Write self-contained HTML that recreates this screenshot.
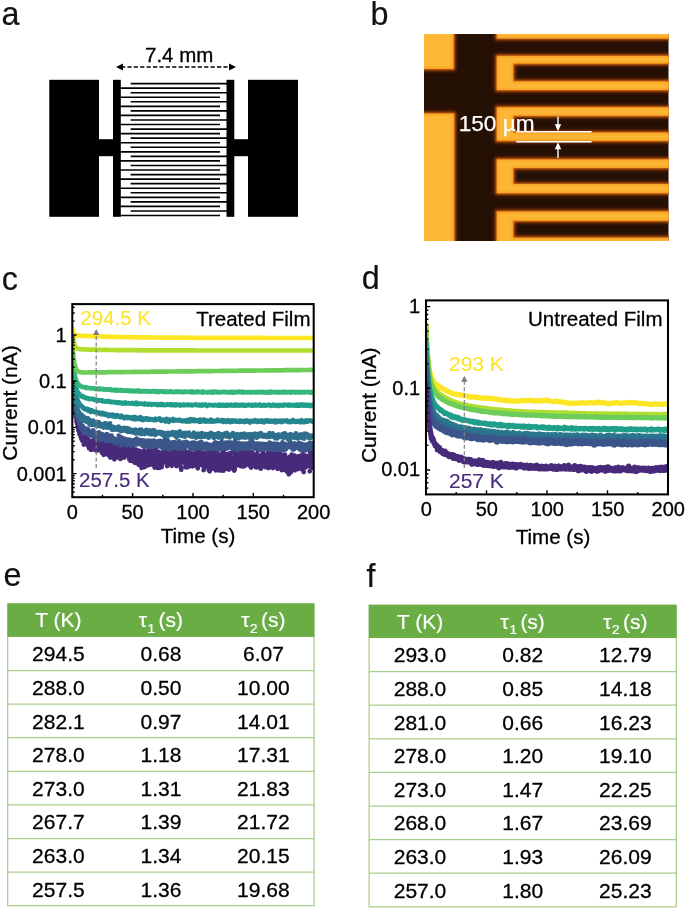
<!DOCTYPE html><html><head><meta charset="utf-8"><title>Figure</title>
<style>html,body{margin:0;padding:0;background:#fff}body{width:685px;height:911px;overflow:hidden}svg{display:block}text{font-family:"Liberation Sans",Arial,sans-serif;stroke-linejoin:round}</style></head><body>
<svg width="685" height="911" viewBox="0 0 685 911">
<rect width="685" height="911" fill="#fff"/>
<defs>
<filter id="bl" x="-5%" y="-5%" width="110%" height="110%"><feGaussianBlur stdDeviation="0.6"/></filter>
<filter id="bl3" x="-5%" y="-5%" width="110%" height="110%"><feGaussianBlur stdDeviation="2"/></filter>
<filter id="bl2" x="-5%" y="-5%" width="110%" height="110%"><feGaussianBlur stdDeviation="1.2"/></filter>
<clipPath id="cb"><rect x="424" y="34" width="244.5" height="207"/></clipPath>
<clipPath id="cc"><rect x="72.3" y="304.1" width="241.4" height="193.1"/></clipPath>
<clipPath id="cd"><rect x="426" y="300.4" width="242" height="194"/></clipPath>
</defs>
<text x="1.6" y="24.7" font-size="32.3" fill="#111" stroke="#111" stroke-width="0.2">a</text>
<text x="370.4" y="24.6" font-size="32.3" fill="#111" stroke="#111" stroke-width="0.2">b</text>
<text x="1.8" y="289.8" font-size="32.3" fill="#111" stroke="#111" stroke-width="0.2">c</text>
<text x="361.8" y="289.0" font-size="32.3" fill="#111" stroke="#111" stroke-width="0.2">d</text>
<text x="3.4" y="586.3" font-size="32.3" fill="#111" stroke="#111" stroke-width="0.2">e</text>
<text x="366.4" y="587.2" font-size="32.3" fill="#111" stroke="#111" stroke-width="0.2">f</text>
<g fill="#000">
<rect x="49.3" y="79.8" width="49.7" height="137"/>
<rect x="248" y="79.8" width="50" height="137"/>
<rect x="113" y="79.8" width="7.8" height="137"/>
<rect x="226.5" y="79.8" width="7.8" height="137"/>
<rect x="98" y="139.2" width="16" height="17"/>
<rect x="233" y="139.2" width="16" height="17"/>
</g>
<path d="M130.6,83.60H227M120,88.15H220M130.6,92.70H227M120,97.24H220M130.6,101.79H227M120,106.34H220M130.6,110.89H227M120,115.44H220M130.6,119.99H227M120,124.53H220M130.6,129.08H227M120,133.63H220M130.6,138.18H227M120,142.73H220M130.6,147.28H227M120,151.82H220M130.6,156.37H227M120,160.92H220M130.6,165.47H227M120,170.02H220M130.6,174.57H227M120,179.11H220M130.6,183.66H227M120,188.21H220M130.6,192.76H227M120,197.31H220M130.6,201.86H227M120,206.40H220M130.6,210.95H227M120,215.50H220" stroke="#000" stroke-width="1.65" fill="none"/>
<text x="179.2" y="62" font-size="20.5" fill="#000" stroke="#000" stroke-width="0.3" text-anchor="middle">7.4 mm</text>
<path d="M121,67H231" stroke="#000" stroke-width="1.4" stroke-dasharray="4.2 2.2" fill="none"/>
<path d="M116,67l7,-3.4v6.8zM236,67l-7,-3.4v6.8z" fill="#000"/>
<g clip-path="url(#cb)">
<rect x="420" y="30" width="252" height="215" fill="#251006"/>
<path d="M418.8,28.8h36.8v42.1h-36.8zM418.8,111.6h37.4v137.4h-37.4zM494.8,28.8h182.4v11.6h-182.4zM494.8,53.9H680V65.6H515.2V79.4H680V92.1H494.8zM494.8,105.3H680V117.8H515.2V130.6H680V142.8H494.8zM494.8,157.4H680V169.9H515.2V182.1H680V195.2H494.8zM494.8,209.6H680V222.8H515.2V235.8H680V251.2H494.8z" fill="#8a3307" opacity="0.75" filter="url(#bl3)"/>
<path d="M419.7,29.7h35.0v40.300000000000004h-35.0zM419.7,112.5h35.6v135.6h-35.6zM495.7,29.7h180.6v9.799999999999999h-180.6zM495.7,54.8H680V64.7H514.3V80.3H680V91.2H495.7zM495.7,106.2H680V116.9H514.3V131.5H680V141.9H495.7zM495.7,158.3H680V169.0H514.3V183.0H680V194.3H495.7zM495.7,210.5H680V221.9H514.3V236.7H680V250.3H495.7z" fill="#d8650b" filter="url(#bl2)"/>
<path d="M420.8,30.8h32.8v38.1h-32.8zM420.8,113.6h33.4v133.4h-33.4zM496.8,30.8h178.4v7.6h-178.4zM496.8,55.9H680V63.6H513.2V81.4H680V90.1H496.8zM496.8,107.3H680V115.8H513.2V132.6H680V140.8H496.8zM496.8,159.4H680V167.9H513.2V184.1H680V193.2H496.8zM496.8,211.6H680V220.8H513.2V237.8H680V249.2H496.8z" fill="#f7a021" filter="url(#bl)"/>
<path d="M422.2,32.2h30.0v35.300000000000004h-30.0zM422.2,115.0h30.6v130.6h-30.6zM498.2,32.2h175.6v4.799999999999999h-175.6zM498.2,57.3H680V62.2H511.8V82.8H680V88.7H498.2zM498.2,108.7H680V114.4H511.8V134.0H680V139.4H498.2zM498.2,160.8H680V166.5H511.8V185.5H680V191.8H498.2zM498.2,213.0H680V219.4H511.8V239.2H680V247.8H498.2z" fill="#fdb735" filter="url(#bl2)"/>
</g>
<text x="458.7" y="130.9" font-size="22.6" fill="#fff" stroke="#fff" stroke-width="0.25">150 µm</text>
<path d="M516.3,131.8H591.6M516.3,141.7H591.6" stroke="#fff" stroke-width="1.6" fill="none"/>
<path d="M558,116.5V126M558,158V148" stroke="#fff" stroke-width="1.4" fill="none"/>
<path d="M558,131.3l-3.2,-7h6.4zM558,142.2l-3.2,7h6.4z" fill="#fff"/>
<g clip-path="url(#cc)">
<path d="M72.3,382.1h0M72.4,384.1h0M72.5,384.9h0M72.7,386.2h0M72.8,388.3h0M72.9,389.0h0M73.0,392.1h0M73.2,395.3h0M73.3,394.9h0M73.4,395.9h0M73.5,398.6h0M73.7,399.9h0M73.8,400.7h0M73.9,400.5h0M74.0,402.4h0M74.1,405.0h0M74.3,403.8h0M74.4,405.8h0M74.5,405.1h0M74.6,406.9h0M74.8,407.4h0M74.9,410.7h0M75.0,410.1h0M75.1,413.4h0M75.2,414.0h0M75.4,414.4h0M75.5,411.7h0M75.6,415.2h0M75.7,416.4h0M75.9,417.7h0M76.0,415.8h0M76.1,417.8h0M76.2,417.6h0M76.4,418.1h0M76.5,421.3h0M76.6,418.9h0M76.7,420.4h0M76.8,422.5h0M77.0,421.2h0M77.1,422.2h0M77.2,423.2h0M77.3,424.0h0M77.5,422.2h0M77.6,425.0h0M77.7,427.1h0M77.8,422.8h0M77.9,427.6h0M78.1,426.7h0M78.2,425.7h0M78.3,430.3h0M78.4,428.6h0M78.6,426.1h0M78.7,428.7h0M78.8,429.9h0M78.9,429.1h0M79.1,431.5h0M79.2,430.3h0M79.3,431.9h0M79.4,433.9h0M79.5,430.1h0M79.6,432.1h0M79.7,430.5h0M79.8,431.7h0M79.9,429.5h0M80.0,430.9h0M80.1,432.0h0M80.2,434.3h0M80.3,435.2h0M80.4,430.8h0M80.5,432.4h0M80.6,435.1h0M80.7,430.4h0M80.8,434.0h0M80.9,434.9h0M81.0,437.7h0M81.1,437.3h0M81.2,435.5h0M81.3,435.6h0M81.4,435.5h0M81.5,439.1h0M81.6,435.7h0M81.7,436.1h0M81.8,437.6h0M81.9,437.3h0M82.0,437.3h0M82.1,435.9h0M82.2,437.9h0M82.3,437.1h0M82.4,440.7h0M82.5,440.1h0M82.6,438.6h0M82.7,440.3h0M82.8,438.2h0M82.9,441.1h0M83.0,439.2h0M83.1,440.4h0M83.2,436.2h0M83.3,439.6h0M83.3,435.6h0M83.4,434.7h0M83.5,438.6h0M83.6,437.5h0M83.7,440.1h0M83.8,444.5h0M83.9,438.0h0M84.0,438.3h0M84.1,440.1h0M84.2,440.7h0M84.3,438.9h0M84.4,439.1h0M84.5,441.3h0M84.6,440.9h0M84.7,437.5h0M84.8,439.3h0M84.9,439.6h0M85.0,437.7h0M85.1,440.2h0M85.2,437.9h0M85.3,442.1h0M85.4,440.8h0M85.5,440.5h0M85.6,438.9h0M85.7,439.8h0M85.8,435.6h0M85.9,437.0h0M86.0,440.5h0M86.1,434.8h0M86.2,441.8h0M86.3,436.2h0M86.4,441.7h0M86.5,437.7h0M86.6,441.8h0M86.7,440.4h0M86.8,437.0h0M86.9,443.8h0M87.0,444.1h0M87.1,440.9h0M87.2,440.6h0M87.3,440.8h0M87.4,439.1h0M87.4,444.4h0M87.5,440.7h0M87.6,441.9h0M87.7,440.4h0M87.8,441.1h0M87.9,439.9h0M88.0,445.8h0M88.1,442.1h0M88.2,445.2h0M88.3,443.5h0M88.4,441.7h0M88.5,442.5h0M88.6,442.0h0M88.7,443.4h0M88.8,442.7h0M88.9,443.0h0M89.0,440.4h0M89.1,442.1h0M89.2,448.4h0M89.3,442.9h0M89.4,442.3h0M89.5,445.5h0M89.6,448.3h0M89.7,441.7h0M89.8,444.7h0M89.9,443.9h0M90.0,441.3h0M90.1,447.7h0M90.2,445.9h0M90.3,445.7h0M90.4,444.0h0M90.5,447.2h0M90.6,444.5h0M90.7,445.6h0M90.8,442.8h0M90.9,442.6h0M91.0,449.8h0M91.1,445.2h0M91.2,447.5h0M91.3,446.8h0M91.4,445.3h0M91.4,444.9h0M91.5,447.7h0M91.6,445.0h0M91.7,445.0h0M91.8,445.4h0M91.9,448.1h0M92.0,446.8h0M92.1,446.0h0M92.2,443.4h0M92.3,441.1h0M92.4,447.3h0M92.5,447.6h0M92.6,444.6h0M92.7,446.7h0M92.8,446.8h0M92.9,447.3h0M93.0,447.7h0M93.1,444.0h0M93.2,448.9h0M93.3,441.6h0M93.4,446.8h0M93.5,445.9h0M93.6,447.0h0M93.7,449.4h0M93.8,448.4h0M93.9,441.5h0M94.0,439.8h0M94.1,446.4h0M94.2,441.3h0M94.3,444.2h0M94.4,446.6h0M94.5,439.9h0M94.6,439.1h0M94.7,445.4h0M94.8,445.3h0M94.9,444.2h0M95.0,444.6h0M95.1,441.8h0M95.2,439.7h0M95.3,443.6h0M95.4,441.6h0M95.5,439.8h0M95.5,446.1h0M95.6,444.6h0M95.7,446.1h0M95.8,442.3h0M95.9,443.6h0M96.0,442.6h0M96.1,443.4h0M96.2,446.5h0M96.3,443.7h0M96.4,446.6h0M96.5,446.1h0M96.6,450.7h0M96.7,441.1h0M96.8,447.8h0M96.9,444.4h0M97.0,444.4h0M97.1,440.7h0M97.2,443.7h0M97.3,446.9h0M97.4,445.2h0M97.5,445.9h0M97.6,444.8h0M97.7,448.8h0M97.8,445.3h0M97.9,438.7h0M98.0,443.2h0M98.1,439.5h0M98.2,435.9h0M98.3,444.0h0M98.4,449.4h0M98.5,445.9h0M98.6,441.9h0M98.7,442.4h0M98.8,447.9h0M98.9,445.2h0M99.0,444.7h0M99.1,444.6h0M99.2,444.9h0M99.3,446.9h0M99.4,446.1h0M99.5,445.4h0M99.6,441.4h0M99.6,446.2h0M99.7,442.7h0M99.8,447.7h0M99.9,440.7h0M100.0,444.7h0M100.1,444.7h0M100.2,441.0h0M100.3,450.3h0M100.4,450.0h0M100.5,444.5h0M100.6,448.8h0M100.7,447.6h0M100.8,438.8h0M100.9,447.5h0M101.0,446.8h0M101.1,447.0h0M101.2,443.6h0M101.3,446.3h0M101.4,446.3h0M101.5,450.1h0M101.6,447.7h0M101.7,447.0h0M101.8,452.1h0M101.9,445.9h0M102.0,446.7h0M102.1,442.5h0M102.2,453.0h0M102.3,450.9h0M102.4,450.8h0M102.5,450.0h0M102.6,448.2h0M102.7,448.8h0M102.8,447.7h0M102.9,448.0h0M103.0,448.8h0M103.1,453.4h0M103.2,451.0h0M103.3,449.5h0M103.4,447.8h0M103.5,447.6h0M103.6,454.8h0M103.7,451.3h0M103.7,449.9h0M103.8,449.0h0M103.9,446.9h0M104.0,449.6h0M104.1,452.2h0M104.2,447.9h0M104.3,448.0h0M104.4,447.7h0M104.5,449.0h0M104.6,443.4h0M104.7,447.5h0M104.8,445.7h0M104.9,451.0h0M105.0,445.8h0M105.1,449.9h0M105.2,453.3h0M105.3,447.6h0M105.4,446.7h0M105.5,449.2h0M105.6,448.4h0M105.7,444.9h0M105.8,449.2h0M105.9,454.1h0M106.0,447.0h0M106.1,447.0h0M106.2,444.0h0M106.3,448.3h0M106.4,443.1h0M106.5,443.6h0M106.6,451.4h0M106.7,444.9h0M106.8,450.9h0M106.9,452.5h0M107.0,448.8h0M107.1,449.6h0M107.2,453.5h0M107.3,446.3h0M107.4,445.4h0M107.5,443.2h0M107.6,447.5h0M107.7,452.4h0M107.8,450.8h0M107.8,444.6h0M107.9,444.5h0M108.0,446.0h0M108.1,449.1h0M108.2,447.7h0M108.3,449.2h0M108.4,449.6h0M108.5,447.7h0M108.6,448.4h0M108.7,449.7h0M108.8,448.8h0M108.9,450.9h0M109.0,455.6h0M109.1,451.8h0M109.2,449.6h0M109.3,443.9h0M109.4,450.6h0M109.5,443.2h0M109.6,444.6h0M109.7,452.4h0M109.8,451.8h0M109.9,449.3h0M110.0,444.0h0M110.1,448.2h0M110.2,447.4h0M110.3,451.9h0M110.4,457.5h0M110.5,451.3h0M110.6,448.1h0M110.7,446.8h0M110.8,450.5h0M110.9,450.1h0M111.0,446.9h0M111.1,451.0h0M111.2,447.2h0M111.3,454.8h0M111.4,454.6h0M111.5,454.5h0M111.6,449.3h0M111.7,452.3h0M111.8,450.4h0M111.8,449.4h0M111.9,449.6h0M112.0,446.5h0M112.1,445.6h0M112.2,452.9h0M112.3,449.8h0M112.4,450.8h0M112.5,453.8h0M112.6,444.5h0M112.7,447.6h0M112.8,451.0h0M112.9,451.9h0M113.0,449.1h0M113.1,453.7h0M113.2,450.8h0M113.3,446.2h0M113.4,447.1h0M113.5,453.0h0M113.6,452.4h0M113.7,444.2h0M113.8,455.3h0M113.9,452.7h0M114.0,455.2h0M114.1,449.8h0M114.2,450.2h0M114.3,447.1h0M114.4,459.3h0M114.5,449.8h0M114.6,455.5h0M114.7,447.9h0M114.8,450.7h0M114.9,444.6h0M115.0,448.8h0M115.1,453.6h0M115.2,446.2h0M115.3,454.1h0M115.4,451.6h0M115.5,446.8h0M115.6,448.5h0M115.7,448.9h0M115.8,450.3h0M115.9,449.4h0M115.9,448.8h0M116.0,450.3h0M116.1,448.3h0M116.2,447.7h0M116.3,451.8h0M116.4,455.5h0M116.5,447.0h0M116.6,452.6h0M116.7,450.0h0M116.8,448.9h0M116.9,455.0h0M117.0,450.4h0M117.1,457.4h0M117.2,449.7h0M117.3,453.5h0M117.4,451.6h0M117.5,449.5h0M117.6,454.1h0M117.7,451.6h0M117.8,454.1h0M117.9,451.8h0M118.0,448.6h0M118.1,451.8h0M118.2,452.3h0M118.3,455.3h0M118.4,449.0h0M118.5,451.8h0M118.6,446.3h0M118.7,454.5h0M118.8,448.7h0M118.9,446.4h0M119.0,452.6h0M119.1,456.6h0M119.2,447.6h0M119.3,448.9h0M119.4,450.4h0M119.5,449.4h0M119.6,454.6h0M119.7,450.6h0M119.8,450.8h0M119.9,455.1h0M120.0,450.4h0M120.0,454.2h0M120.1,449.2h0M120.2,448.7h0M120.3,446.6h0M120.4,458.9h0M120.5,451.3h0M120.6,453.3h0M120.7,452.2h0M120.8,452.2h0M120.9,451.5h0M121.0,458.1h0M121.1,447.7h0M121.2,445.9h0M121.3,447.9h0M121.4,447.0h0M121.5,454.2h0M121.6,454.3h0M121.7,448.2h0M121.8,446.6h0M121.9,450.2h0M122.0,456.2h0M122.1,441.5h0M122.2,452.9h0M122.3,447.6h0M122.4,455.3h0M122.5,448.0h0M122.6,450.5h0M122.7,446.2h0M122.8,448.2h0M122.9,456.2h0M123.0,453.9h0M123.1,449.7h0M123.2,448.0h0M123.3,444.2h0M123.4,449.2h0M123.5,450.3h0M123.6,450.5h0M123.7,450.4h0M123.8,446.7h0M123.9,450.4h0M124.0,450.5h0M124.1,455.5h0M124.1,457.5h0M124.2,449.9h0M124.3,447.8h0M124.4,450.3h0M124.5,448.3h0M124.6,447.9h0M124.7,450.5h0M124.8,447.4h0M124.9,453.8h0M125.0,450.8h0M125.1,452.2h0M125.2,451.2h0M125.3,449.2h0M125.4,448.3h0M125.5,451.4h0M125.6,450.6h0M125.7,453.4h0M125.8,452.8h0M125.9,448.0h0M126.0,453.2h0M126.1,448.3h0M126.2,451.3h0M126.3,452.5h0M126.4,445.8h0M126.5,453.6h0M126.6,454.0h0M126.7,452.8h0M126.8,451.8h0M126.9,451.7h0M127.0,450.0h0M127.1,452.4h0M127.2,451.3h0M127.3,454.0h0M127.4,449.4h0M127.5,454.6h0M127.6,454.2h0M127.7,453.1h0M127.8,452.1h0M127.9,455.4h0M128.0,447.5h0M128.1,455.3h0M128.2,454.4h0M128.2,454.8h0M128.3,455.1h0M128.4,451.5h0M128.5,452.7h0M128.6,456.4h0M128.7,455.6h0M128.8,455.3h0M128.9,449.0h0M129.0,456.8h0M129.1,459.0h0M129.2,458.2h0M129.3,455.6h0M129.4,449.3h0M129.5,458.2h0M129.6,454.0h0M129.7,445.9h0M129.8,456.5h0M129.9,449.7h0M130.0,450.2h0M130.1,452.6h0M130.2,459.2h0M130.3,453.3h0M130.4,455.5h0M130.5,460.9h0M130.6,460.5h0M130.7,454.7h0M130.8,454.2h0M130.9,451.1h0M131.0,452.9h0M131.1,457.5h0M131.2,457.8h0M131.3,456.7h0M131.4,460.0h0M131.5,453.0h0M131.6,455.6h0M131.7,458.4h0M131.8,458.2h0M131.9,459.9h0M132.0,457.8h0M132.1,454.8h0M132.2,457.8h0M132.2,452.4h0M132.3,450.1h0M132.4,458.3h0M132.5,456.3h0M132.6,457.3h0M132.7,449.9h0M132.8,454.6h0M132.9,453.7h0M133.0,452.9h0M133.1,448.0h0M133.2,455.0h0M133.3,459.3h0M133.4,457.1h0M133.5,453.3h0M133.6,455.7h0M133.7,458.4h0M133.8,445.5h0M133.9,455.2h0M134.0,457.7h0M134.1,458.2h0M134.2,462.0h0M134.3,459.9h0M134.4,457.4h0M134.5,457.5h0M134.6,459.1h0M134.7,453.9h0M134.8,455.6h0M134.9,458.8h0M135.0,462.8h0M135.1,454.5h0M135.2,454.8h0M135.3,455.5h0M135.4,459.6h0M135.5,455.4h0M135.6,460.9h0M135.7,452.5h0M135.8,454.9h0M135.9,455.0h0M136.0,458.5h0M136.1,459.4h0M136.2,449.8h0M136.3,452.2h0M136.3,456.8h0M136.4,453.3h0M136.5,450.0h0M136.6,459.6h0M136.7,458.0h0M136.8,457.9h0M136.9,454.2h0M137.0,459.6h0M137.1,454.9h0M137.2,459.8h0M137.3,452.4h0M137.4,453.0h0M137.5,457.1h0M137.6,453.3h0M137.7,458.1h0M137.8,456.7h0M137.9,452.5h0M138.0,456.4h0M138.1,454.9h0M138.2,459.8h0M138.3,454.5h0M138.4,455.0h0M138.5,460.9h0M138.6,464.8h0M138.7,464.2h0M138.8,457.1h0M138.9,457.6h0M139.0,462.5h0M139.1,456.4h0M139.2,453.6h0M139.3,457.6h0M139.4,459.1h0M139.5,454.1h0M139.6,450.9h0M139.7,451.3h0M139.8,459.2h0M139.9,454.3h0M140.0,456.6h0M140.1,458.0h0M140.2,459.8h0M140.3,456.2h0M140.4,459.2h0M140.4,453.9h0M140.5,456.1h0M140.6,453.5h0M140.7,461.6h0M140.8,457.4h0M140.9,454.9h0M141.0,456.5h0M141.1,456.9h0M141.2,460.3h0M141.3,452.0h0M141.4,453.8h0M141.5,456.4h0M141.6,467.9h0M141.7,462.3h0M141.8,458.2h0M141.9,461.1h0M142.0,465.5h0M142.1,457.3h0M142.2,456.7h0M142.3,462.3h0M142.4,459.9h0M142.5,461.1h0M142.6,456.6h0M142.7,465.8h0M142.8,465.3h0M142.9,461.1h0M143.0,461.5h0M143.1,451.5h0M143.2,461.3h0M143.3,458.4h0M143.4,460.9h0M143.5,462.1h0M143.6,458.6h0M143.7,453.6h0M143.8,461.3h0M143.9,457.3h0M144.0,458.8h0M144.1,457.7h0M144.2,458.6h0M144.3,451.5h0M144.4,464.4h0M144.5,461.1h0M144.5,464.1h0M144.6,467.1h0M144.7,459.5h0M144.8,452.7h0M144.9,456.0h0M145.0,454.7h0M145.1,457.5h0M145.2,459.4h0M145.3,451.3h0M145.4,460.0h0M145.5,453.1h0M145.6,459.5h0M145.7,458.3h0M145.8,457.6h0M145.9,458.4h0M146.0,456.9h0M146.1,456.2h0M146.2,452.2h0M146.3,458.1h0M146.4,464.8h0M146.5,465.0h0M146.6,462.7h0M146.7,460.3h0M146.8,454.9h0M146.9,462.5h0M147.0,456.7h0M147.1,456.9h0M147.2,456.0h0M147.3,457.3h0M147.4,455.5h0M147.5,456.5h0M147.6,452.9h0M147.7,455.6h0M147.8,465.4h0M147.9,456.5h0M148.0,455.6h0M148.1,458.4h0M148.2,458.9h0M148.3,452.2h0M148.4,455.8h0M148.5,460.0h0M148.5,457.5h0M148.6,457.6h0M148.7,462.9h0M148.8,454.3h0M148.9,457.4h0M149.0,455.5h0M149.1,462.9h0M149.2,449.9h0M149.3,454.8h0M149.4,455.6h0M149.5,460.1h0M149.6,460.0h0M149.7,462.6h0M149.8,451.5h0M149.9,460.4h0M150.0,456.8h0M150.1,455.6h0M150.2,460.3h0M150.3,455.0h0M150.4,450.4h0M150.5,456.6h0M150.6,452.3h0M150.7,455.2h0M150.8,459.4h0M150.9,459.7h0M151.0,464.7h0M151.1,457.6h0M151.2,452.4h0M151.3,455.3h0M151.4,454.7h0M151.5,453.7h0M151.6,459.8h0M151.7,455.5h0M151.8,450.3h0M151.9,460.1h0M152.0,457.0h0M152.1,459.0h0M152.2,458.3h0M152.3,460.1h0M152.4,457.8h0M152.5,462.6h0M152.6,459.5h0M152.6,459.0h0M152.7,459.1h0M152.8,452.0h0M152.9,456.6h0M153.0,456.1h0M153.1,458.1h0M153.2,452.2h0M153.3,463.6h0M153.4,457.7h0M153.5,452.8h0M153.6,450.6h0M153.7,456.2h0M153.8,456.9h0M153.9,454.6h0M154.0,457.4h0M154.1,454.6h0M154.2,459.0h0M154.3,454.3h0M154.4,457.3h0M154.5,461.3h0M154.6,467.5h0M154.7,454.1h0M154.8,455.8h0M154.9,454.0h0M155.0,459.9h0M155.1,452.8h0M155.2,455.2h0M155.3,456.9h0M155.4,453.0h0M155.5,453.2h0M155.6,454.6h0M155.7,448.8h0M155.8,451.6h0M155.9,455.7h0M156.0,458.2h0M156.1,456.8h0M156.2,450.7h0M156.3,456.2h0M156.4,460.8h0M156.5,459.6h0M156.6,457.5h0M156.7,454.5h0M156.7,460.2h0M156.8,455.8h0M156.9,454.1h0M157.0,455.2h0M157.1,463.4h0M157.2,459.2h0M157.3,462.8h0M157.4,456.3h0M157.5,461.8h0M157.6,456.0h0M157.7,457.8h0M157.8,467.9h0M157.9,461.6h0M158.0,456.9h0M158.1,458.5h0M158.2,459.8h0M158.3,463.2h0M158.4,456.6h0M158.5,451.8h0M158.6,457.3h0M158.7,458.3h0M158.8,459.1h0M158.9,464.2h0M159.0,460.5h0M159.1,462.4h0M159.2,455.2h0M159.3,463.1h0M159.4,467.8h0M159.5,462.7h0M159.6,461.0h0M159.7,460.3h0M159.8,466.3h0M159.9,456.2h0M160.0,458.9h0M160.1,461.2h0M160.2,462.4h0M160.3,457.7h0M160.4,460.7h0M160.5,458.7h0M160.6,459.9h0M160.7,459.2h0M160.8,455.3h0M160.8,459.6h0M160.9,462.6h0M161.0,455.9h0M161.1,458.3h0M161.2,461.7h0M161.3,454.8h0M161.4,460.0h0M161.5,454.8h0M161.6,463.0h0M161.7,467.1h0M161.8,466.1h0M161.9,457.1h0M162.0,460.7h0M162.1,458.2h0M162.2,458.0h0M162.3,463.5h0M162.4,452.6h0M162.5,461.7h0M162.6,457.6h0M162.7,463.3h0M162.8,458.4h0M162.9,454.6h0M163.0,458.4h0M163.1,460.4h0M163.2,457.8h0M163.3,459.3h0M163.4,455.3h0M163.5,449.0h0M163.6,460.9h0M163.7,459.9h0M163.8,457.8h0M163.9,457.4h0M164.0,461.1h0M164.1,455.7h0M164.2,454.3h0M164.3,456.1h0M164.4,461.5h0M164.5,451.3h0M164.6,461.2h0M164.7,454.2h0M164.8,452.7h0M164.9,461.5h0M164.9,456.1h0M165.0,451.5h0M165.1,455.7h0M165.2,460.5h0M165.3,461.4h0M165.4,455.2h0M165.5,458.7h0M165.6,460.3h0M165.7,455.4h0M165.8,458.8h0M165.9,457.5h0M166.0,455.8h0M166.1,456.3h0M166.2,458.4h0M166.3,458.2h0M166.4,456.1h0M166.5,456.6h0M166.6,462.1h0M166.7,458.7h0M166.8,461.2h0M166.9,462.5h0M167.0,460.0h0M167.1,466.1h0M167.2,454.1h0M167.3,460.4h0M167.4,456.0h0M167.5,464.4h0M167.6,463.6h0M167.7,450.0h0M167.8,454.0h0M167.9,460.2h0M168.0,460.9h0M168.1,460.4h0M168.2,457.9h0M168.3,460.0h0M168.4,460.9h0M168.5,458.6h0M168.6,462.9h0M168.7,450.2h0M168.8,461.1h0M168.9,455.0h0M168.9,462.9h0M169.0,457.9h0M169.1,454.8h0M169.2,459.8h0M169.3,455.4h0M169.4,455.3h0M169.5,452.6h0M169.6,458.5h0M169.7,460.4h0M169.8,462.5h0M169.9,458.2h0M170.0,462.4h0M170.1,458.1h0M170.2,457.7h0M170.3,460.2h0M170.4,461.5h0M170.5,456.3h0M170.6,456.9h0M170.7,457.4h0M170.8,458.4h0M170.9,454.5h0M171.0,462.1h0M171.1,456.6h0M171.2,460.1h0M171.3,455.1h0M171.4,459.7h0M171.5,459.8h0M171.6,456.8h0M171.7,465.8h0M171.8,459.6h0M171.9,465.3h0M172.0,462.0h0M172.1,455.7h0M172.2,456.2h0M172.3,459.2h0M172.4,457.4h0M172.5,456.7h0M172.6,455.5h0M172.7,449.9h0M172.8,455.6h0M172.9,447.8h0M173.0,457.6h0M173.0,453.8h0M173.1,453.9h0M173.2,455.7h0M173.3,457.8h0M173.4,451.1h0M173.5,450.2h0M173.6,452.7h0M173.7,448.8h0M173.8,452.9h0M173.9,462.7h0M174.0,452.5h0M174.1,459.2h0M174.2,452.0h0M174.3,458.8h0M174.4,456.5h0M174.5,457.2h0M174.6,459.4h0M174.7,463.9h0M174.8,458.0h0M174.9,458.0h0M175.0,453.5h0M175.1,459.4h0M175.2,456.1h0M175.3,460.2h0M175.4,456.9h0M175.5,463.8h0M175.6,449.6h0M175.7,456.1h0M175.8,460.3h0M175.9,454.9h0M176.0,453.3h0M176.1,455.4h0M176.2,451.5h0M176.3,457.2h0M176.4,466.1h0M176.5,461.6h0M176.6,452.9h0M176.7,453.7h0M176.8,455.5h0M176.9,460.8h0M177.0,454.0h0M177.1,454.2h0M177.1,460.3h0M177.2,460.2h0M177.3,455.4h0M177.4,452.5h0M177.5,451.0h0M177.6,454.3h0M177.7,448.6h0M177.8,459.8h0M177.9,454.3h0M178.0,459.1h0M178.1,464.4h0M178.2,461.6h0M178.3,452.6h0M178.4,460.7h0M178.5,461.9h0M178.6,454.9h0M178.7,454.1h0M178.8,457.3h0M178.9,451.5h0M179.0,463.5h0M179.1,448.7h0M179.2,453.6h0M179.3,456.7h0M179.4,457.1h0M179.5,458.3h0M179.6,458.5h0M179.7,457.0h0M179.8,462.4h0M179.9,449.9h0M180.0,458.2h0M180.1,455.7h0M180.2,459.0h0M180.3,459.5h0M180.4,455.3h0M180.5,456.1h0M180.6,462.2h0M180.7,460.5h0M180.8,456.6h0M180.9,467.1h0M181.0,468.2h0M181.1,453.9h0M181.2,461.1h0M181.2,469.7h0M181.3,462.6h0M181.4,460.5h0M181.5,458.5h0M181.6,457.2h0M181.7,458.3h0M181.8,457.1h0M181.9,462.1h0M182.0,457.4h0M182.1,456.9h0M182.2,453.9h0M182.3,458.2h0M182.4,454.8h0M182.5,457.5h0M182.6,462.0h0M182.7,459.5h0M182.8,459.5h0M182.9,458.8h0M183.0,457.3h0M183.1,456.6h0M183.2,456.1h0M183.3,460.3h0M183.4,453.1h0M183.5,462.6h0M183.6,458.0h0M183.7,454.7h0M183.8,456.0h0M183.9,455.2h0M184.0,458.3h0M184.1,454.8h0M184.2,462.0h0M184.3,454.4h0M184.4,448.7h0M184.5,454.5h0M184.6,449.2h0M184.7,456.8h0M184.8,461.2h0M184.9,459.6h0M185.0,451.9h0M185.1,454.0h0M185.2,463.8h0M185.2,458.4h0M185.3,457.6h0M185.4,461.6h0M185.5,467.2h0M185.6,462.3h0M185.7,458.2h0M185.8,459.1h0M185.9,460.3h0M186.0,455.5h0M186.1,453.8h0M186.2,458.0h0M186.3,454.2h0M186.4,458.1h0M186.5,458.7h0M186.6,467.4h0M186.7,455.1h0M186.8,458.3h0M186.9,458.5h0M187.0,461.1h0M187.1,463.4h0M187.2,457.5h0M187.3,456.6h0M187.4,453.2h0M187.5,456.4h0M187.6,461.7h0M187.7,459.9h0M187.8,455.5h0M187.9,457.9h0M188.0,459.8h0M188.1,461.6h0M188.2,457.8h0M188.3,459.4h0M188.4,453.4h0M188.5,456.2h0M188.6,466.7h0M188.7,451.9h0M188.8,458.9h0M188.9,461.1h0M189.0,458.2h0M189.1,456.7h0M189.2,459.5h0M189.3,459.9h0M189.3,459.6h0M189.4,452.5h0M189.5,459.2h0M189.6,456.7h0M189.7,457.6h0M189.8,460.4h0M189.9,462.2h0M190.0,463.3h0M190.1,458.0h0M190.2,463.6h0M190.3,464.6h0M190.4,464.3h0M190.5,465.5h0M190.6,459.5h0M190.7,459.1h0M190.8,463.1h0M190.9,454.4h0M191.0,460.4h0M191.1,457.5h0M191.2,458.1h0M191.3,452.3h0M191.4,456.1h0M191.5,459.2h0M191.6,462.9h0M191.7,463.4h0M191.8,459.4h0M191.9,459.4h0M192.0,456.7h0M192.1,461.2h0M192.2,458.4h0M192.3,461.7h0M192.4,466.3h0M192.5,459.8h0M192.6,454.3h0M192.7,456.8h0M192.8,454.9h0M192.9,455.9h0M193.0,466.0h0M193.1,461.7h0M193.2,455.1h0M193.3,462.9h0M193.4,465.2h0M193.4,458.7h0M193.5,457.6h0M193.6,459.0h0M193.7,461.6h0M193.8,463.0h0M193.9,464.8h0M194.0,465.0h0M194.1,465.0h0M194.2,465.7h0M194.3,462.8h0M194.4,453.8h0M194.5,459.2h0M194.6,461.1h0M194.7,458.4h0M194.8,463.5h0M194.9,458.2h0M195.0,456.0h0M195.1,465.4h0M195.2,462.1h0M195.3,460.9h0M195.4,463.2h0M195.5,463.8h0M195.6,461.0h0M195.7,449.5h0M195.8,456.0h0M195.9,456.8h0M196.0,454.9h0M196.1,459.6h0M196.2,463.6h0M196.3,456.8h0M196.4,453.8h0M196.5,465.2h0M196.6,455.6h0M196.7,452.3h0M196.8,457.9h0M196.9,458.7h0M197.0,454.1h0M197.1,460.4h0M197.2,455.4h0M197.3,454.1h0M197.4,458.0h0M197.5,460.5h0M197.5,454.8h0M197.6,458.6h0M197.7,456.7h0M197.8,468.3h0M197.9,454.8h0M198.0,462.7h0M198.1,457.2h0M198.2,457.1h0M198.3,460.5h0M198.4,461.1h0M198.5,462.4h0M198.6,458.7h0M198.7,455.5h0M198.8,455.6h0M198.9,459.7h0M199.0,460.1h0M199.1,463.3h0M199.2,459.6h0M199.3,461.6h0M199.4,463.5h0M199.5,458.2h0M199.6,451.6h0M199.7,452.8h0M199.8,452.2h0M199.9,463.7h0M200.0,454.4h0M200.1,462.5h0M200.2,460.0h0M200.3,464.6h0M200.4,462.0h0M200.5,458.1h0M200.6,457.5h0M200.7,459.1h0M200.8,459.4h0M200.9,456.9h0M201.0,459.0h0M201.1,464.7h0M201.2,452.0h0M201.3,459.4h0M201.4,455.2h0M201.5,459.5h0M201.6,462.2h0M201.6,458.9h0M201.7,462.1h0M201.8,453.0h0M201.9,463.3h0M202.0,456.6h0M202.1,461.7h0M202.2,459.9h0M202.3,449.1h0M202.4,456.4h0M202.5,460.3h0M202.6,465.6h0M202.7,460.5h0M202.8,460.2h0M202.9,453.6h0M203.0,464.6h0M203.1,465.9h0M203.2,459.3h0M203.3,458.6h0M203.4,453.2h0M203.5,462.8h0M203.6,470.1h0M203.7,462.6h0M203.8,464.6h0M203.9,462.3h0M204.0,456.3h0M204.1,465.4h0M204.2,455.2h0M204.3,459.0h0M204.4,460.7h0M204.5,463.0h0M204.6,461.7h0M204.7,461.6h0M204.8,457.3h0M204.9,455.1h0M205.0,460.4h0M205.1,457.7h0M205.2,455.1h0M205.3,455.3h0M205.4,458.2h0M205.5,453.1h0M205.6,454.7h0M205.6,453.2h0M205.7,460.4h0M205.8,460.8h0M205.9,466.8h0M206.0,453.5h0M206.1,456.4h0M206.2,462.4h0M206.3,458.3h0M206.4,458.4h0M206.5,466.2h0M206.6,458.4h0M206.7,455.3h0M206.8,454.9h0M206.9,461.5h0M207.0,461.4h0M207.1,454.7h0M207.2,456.0h0M207.3,461.9h0M207.4,462.1h0M207.5,457.3h0M207.6,462.3h0M207.7,462.4h0M207.8,453.5h0M207.9,459.0h0M208.0,461.7h0M208.1,457.7h0M208.2,451.8h0M208.3,458.9h0M208.4,463.1h0M208.5,466.6h0M208.6,451.8h0M208.7,469.9h0M208.8,455.2h0M208.9,463.5h0M209.0,464.6h0M209.1,464.0h0M209.2,460.7h0M209.3,455.4h0M209.4,462.4h0M209.5,457.0h0M209.6,450.4h0M209.7,471.3h0M209.7,463.6h0M209.8,468.0h0M209.9,457.6h0M210.0,466.8h0M210.1,467.4h0M210.2,467.3h0M210.3,460.7h0M210.4,455.9h0M210.5,459.8h0M210.6,452.2h0M210.7,454.0h0M210.8,461.0h0M210.9,456.5h0M211.0,459.9h0M211.1,460.0h0M211.2,468.2h0M211.3,465.6h0M211.4,460.5h0M211.5,465.3h0M211.6,457.3h0M211.7,459.0h0M211.8,463.5h0M211.9,454.6h0M212.0,458.5h0M212.1,454.3h0M212.2,459.8h0M212.3,465.9h0M212.4,456.6h0M212.5,460.2h0M212.6,455.8h0M212.7,455.2h0M212.8,455.1h0M212.9,465.1h0M213.0,468.6h0M213.1,460.9h0M213.2,456.4h0M213.3,462.2h0M213.4,458.0h0M213.5,462.6h0M213.6,460.1h0M213.7,460.1h0M213.8,460.8h0M213.8,456.7h0M213.9,457.4h0M214.0,452.2h0M214.1,457.0h0M214.2,453.3h0M214.3,458.2h0M214.4,455.0h0M214.5,459.6h0M214.6,460.5h0M214.7,453.3h0M214.8,455.7h0M214.9,455.3h0M215.0,461.9h0M215.1,466.0h0M215.2,462.6h0M215.3,458.0h0M215.4,464.9h0M215.5,453.5h0M215.6,465.3h0M215.7,457.0h0M215.8,449.0h0M215.9,470.4h0M216.0,465.8h0M216.1,455.9h0M216.2,460.8h0M216.3,459.0h0M216.4,460.0h0M216.5,453.5h0M216.6,456.9h0M216.7,460.9h0M216.8,459.7h0M216.9,463.6h0M217.0,459.5h0M217.1,468.5h0M217.2,456.5h0M217.3,460.0h0M217.4,452.1h0M217.5,454.7h0M217.6,464.9h0M217.7,456.0h0M217.8,461.9h0M217.9,459.3h0M217.9,455.4h0M218.0,458.2h0M218.1,457.8h0M218.2,457.7h0M218.3,463.0h0M218.4,462.7h0M218.5,457.4h0M218.6,456.1h0M218.7,461.2h0M218.8,459.4h0M218.9,463.8h0M219.0,470.3h0M219.1,463.1h0M219.2,459.5h0M219.3,458.7h0M219.4,456.1h0M219.5,456.1h0M219.6,455.9h0M219.7,458.1h0M219.8,458.0h0M219.9,462.4h0M220.0,458.4h0M220.1,459.0h0M220.2,454.9h0M220.3,466.3h0M220.4,462.4h0M220.5,467.5h0M220.6,463.7h0M220.7,466.5h0M220.8,459.6h0M220.9,463.3h0M221.0,470.6h0M221.1,455.3h0M221.2,464.7h0M221.3,466.8h0M221.4,461.6h0M221.5,462.7h0M221.6,464.7h0M221.7,457.1h0M221.8,461.5h0M221.9,456.2h0M221.9,457.0h0M222.0,457.1h0M222.1,458.9h0M222.2,459.7h0M222.3,460.6h0M222.4,453.0h0M222.5,466.8h0M222.6,463.6h0M222.7,461.6h0M222.8,457.8h0M222.9,459.0h0M223.0,461.3h0M223.1,460.6h0M223.2,452.3h0M223.3,462.1h0M223.4,470.7h0M223.5,451.6h0M223.6,462.7h0M223.7,460.1h0M223.8,458.2h0M223.9,464.3h0M224.0,454.1h0M224.1,459.7h0M224.2,464.7h0M224.3,457.8h0M224.4,456.8h0M224.5,459.2h0M224.6,456.7h0M224.7,464.7h0M224.8,455.4h0M224.9,462.5h0M225.0,454.2h0M225.1,461.9h0M225.2,458.6h0M225.3,448.7h0M225.4,459.2h0M225.5,455.2h0M225.6,457.8h0M225.7,466.1h0M225.8,455.5h0M225.9,456.0h0M226.0,466.1h0M226.0,460.7h0M226.1,466.4h0M226.2,462.0h0M226.3,457.5h0M226.4,461.0h0M226.5,465.7h0M226.6,464.7h0M226.7,461.2h0M226.8,461.4h0M226.9,460.6h0M227.0,458.6h0M227.1,468.9h0M227.2,461.2h0M227.3,456.8h0M227.4,459.3h0M227.5,464.2h0M227.6,464.1h0M227.7,460.7h0M227.8,458.5h0M227.9,461.1h0M228.0,454.0h0M228.1,455.4h0M228.2,463.8h0M228.3,459.1h0M228.4,462.1h0M228.5,465.6h0M228.6,463.8h0M228.7,461.4h0M228.8,469.5h0M228.9,463.8h0M229.0,459.6h0M229.1,464.0h0M229.2,462.9h0M229.3,458.0h0M229.4,461.9h0M229.5,460.9h0M229.6,453.6h0M229.7,461.0h0M229.8,460.3h0M229.9,459.3h0M230.0,454.4h0M230.1,459.5h0M230.1,460.9h0M230.2,461.3h0M230.3,456.6h0M230.4,463.8h0M230.5,456.9h0M230.6,460.6h0M230.7,466.4h0M230.8,458.3h0M230.9,458.9h0M231.0,465.5h0M231.1,459.7h0M231.2,460.3h0M231.3,462.5h0M231.4,466.1h0M231.5,452.8h0M231.6,458.1h0M231.7,457.6h0M231.8,457.3h0M231.9,458.2h0M232.0,458.7h0M232.1,463.4h0M232.2,458.9h0M232.3,462.7h0M232.4,463.8h0M232.5,459.4h0M232.6,462.5h0M232.7,468.6h0M232.8,463.4h0M232.9,459.7h0M233.0,462.5h0M233.1,459.0h0M233.2,464.0h0M233.3,465.9h0M233.4,458.9h0M233.5,461.2h0M233.6,466.4h0M233.7,459.7h0M233.8,462.7h0M233.9,458.4h0M234.0,458.9h0M234.1,460.3h0M234.2,470.5h0M234.2,460.7h0M234.3,459.9h0M234.4,459.6h0M234.5,460.9h0M234.6,464.3h0M234.7,462.6h0M234.8,469.6h0M234.9,462.6h0M235.0,467.1h0M235.1,462.5h0M235.2,463.9h0M235.3,455.5h0M235.4,460.7h0M235.5,460.7h0M235.6,459.6h0M235.7,452.1h0M235.8,463.7h0M235.9,459.0h0M236.0,458.6h0M236.1,459.2h0M236.2,459.3h0M236.3,461.7h0M236.4,455.2h0M236.5,456.0h0M236.6,461.1h0M236.7,459.9h0M236.8,457.8h0M236.9,457.2h0M237.0,455.9h0M237.1,458.7h0M237.2,463.3h0M237.3,455.0h0M237.4,465.1h0M237.5,462.4h0M237.6,457.5h0M237.7,462.3h0M237.8,453.7h0M237.9,452.6h0M238.0,454.6h0M238.1,457.8h0M238.2,458.3h0M238.3,457.7h0M238.3,460.3h0M238.4,451.5h0M238.5,462.3h0M238.6,454.5h0M238.7,457.4h0M238.8,458.4h0M238.9,455.5h0M239.0,454.9h0M239.1,456.5h0M239.2,460.1h0M239.3,462.4h0M239.4,461.9h0M239.5,456.2h0M239.6,457.3h0M239.7,457.1h0M239.8,462.3h0M239.9,452.6h0M240.0,465.5h0M240.1,458.8h0M240.2,457.6h0M240.3,462.2h0M240.4,465.0h0M240.5,462.3h0M240.6,464.9h0M240.7,461.7h0M240.8,466.2h0M240.9,465.7h0M241.0,460.0h0M241.1,465.8h0M241.2,460.7h0M241.3,460.4h0M241.4,456.4h0M241.5,459.0h0M241.6,463.0h0M241.7,455.0h0M241.8,462.4h0M241.9,461.0h0M242.0,460.9h0M242.1,451.0h0M242.2,459.1h0M242.3,462.0h0M242.3,456.3h0M242.4,459.5h0M242.5,449.4h0M242.6,461.4h0M242.7,456.2h0M242.8,462.2h0M242.9,451.5h0M243.0,460.8h0M243.1,456.8h0M243.2,460.7h0M243.3,453.7h0M243.4,455.3h0M243.5,466.5h0M243.6,454.3h0M243.7,454.9h0M243.8,456.8h0M243.9,453.8h0M244.0,462.4h0M244.1,464.2h0M244.2,454.4h0M244.3,450.1h0M244.4,461.3h0M244.5,461.4h0M244.6,459.9h0M244.7,461.0h0M244.8,452.8h0M244.9,455.9h0M245.0,451.4h0M245.1,451.8h0M245.2,461.2h0M245.3,454.3h0M245.4,465.6h0M245.5,457.0h0M245.6,454.1h0M245.7,459.6h0M245.8,463.9h0M245.9,458.6h0M246.0,451.9h0M246.1,458.7h0M246.2,462.6h0M246.3,454.9h0M246.4,453.7h0M246.4,460.8h0M246.5,457.6h0M246.6,452.8h0M246.7,455.4h0M246.8,454.2h0M246.9,458.6h0M247.0,458.2h0M247.1,462.3h0M247.2,461.0h0M247.3,452.6h0M247.4,460.1h0M247.5,461.7h0M247.6,460.3h0M247.7,462.0h0M247.8,455.8h0M247.9,454.3h0M248.0,461.5h0M248.1,453.9h0M248.2,449.7h0M248.3,462.2h0M248.4,455.4h0M248.5,457.0h0M248.6,452.9h0M248.7,453.5h0M248.8,454.1h0M248.9,457.2h0M249.0,459.8h0M249.1,449.1h0M249.2,461.0h0M249.3,453.8h0M249.4,454.4h0M249.5,461.1h0M249.6,458.5h0M249.7,452.8h0M249.8,465.7h0M249.9,455.4h0M250.0,459.7h0M250.1,459.2h0M250.2,464.1h0M250.3,456.9h0M250.4,462.9h0M250.5,456.2h0M250.5,463.5h0M250.6,456.1h0M250.7,457.4h0M250.8,466.0h0M250.9,459.7h0M251.0,459.3h0M251.1,467.5h0M251.2,460.2h0M251.3,455.6h0M251.4,461.6h0M251.5,454.2h0M251.6,463.6h0M251.7,464.4h0M251.8,457.6h0M251.9,457.5h0M252.0,460.4h0M252.1,460.1h0M252.2,456.3h0M252.3,462.5h0M252.4,452.4h0M252.5,458.6h0M252.6,458.7h0M252.7,459.2h0M252.8,461.9h0M252.9,456.0h0M253.0,463.1h0M253.1,460.0h0M253.2,458.0h0M253.3,454.9h0M253.4,455.7h0M253.5,461.8h0M253.6,456.4h0M253.7,460.4h0M253.8,464.1h0M253.9,463.6h0M254.0,465.4h0M254.1,458.1h0M254.2,455.2h0M254.3,463.3h0M254.4,460.6h0M254.5,463.8h0M254.6,459.3h0M254.6,464.0h0M254.7,462.8h0M254.8,462.3h0M254.9,461.6h0M255.0,461.0h0M255.1,460.6h0M255.2,460.8h0M255.3,463.7h0M255.4,458.0h0M255.5,466.8h0M255.6,459.3h0M255.7,463.1h0M255.8,458.9h0M255.9,458.3h0M256.0,467.2h0M256.1,458.3h0M256.2,454.4h0M256.3,456.4h0M256.4,458.1h0M256.5,467.4h0M256.6,459.7h0M256.7,462.2h0M256.8,454.2h0M256.9,459.4h0M257.0,461.0h0M257.1,465.8h0M257.2,456.4h0M257.3,461.9h0M257.4,460.7h0M257.5,455.4h0M257.6,459.6h0M257.7,458.5h0M257.8,450.5h0M257.9,462.4h0M258.0,462.6h0M258.1,458.9h0M258.2,455.3h0M258.3,466.7h0M258.4,461.5h0M258.5,464.2h0M258.6,465.5h0M258.6,458.0h0M258.7,463.2h0M258.8,459.3h0M258.9,460.0h0M259.0,459.8h0M259.1,459.9h0M259.2,463.9h0M259.3,460.0h0M259.4,458.9h0M259.5,458.5h0M259.6,460.5h0M259.7,455.8h0M259.8,457.4h0M259.9,459.1h0M260.0,457.5h0M260.1,458.6h0M260.2,457.0h0M260.3,467.2h0M260.4,464.6h0M260.5,461.5h0M260.6,459.8h0M260.7,468.7h0M260.8,461.7h0M260.9,459.9h0M261.0,461.1h0M261.1,461.0h0M261.2,465.2h0M261.3,459.1h0M261.4,467.1h0M261.5,455.6h0M261.6,461.8h0M261.7,455.5h0M261.8,466.7h0M261.9,457.7h0M262.0,458.6h0M262.1,462.5h0M262.2,463.8h0M262.3,454.4h0M262.4,457.6h0M262.5,453.9h0M262.6,460.3h0M262.7,459.3h0M262.7,458.3h0M262.8,457.1h0M262.9,458.1h0M263.0,457.0h0M263.1,462.4h0M263.2,466.3h0M263.3,452.9h0M263.4,459.8h0M263.5,458.6h0M263.6,462.6h0M263.7,457.4h0M263.8,460.5h0M263.9,457.0h0M264.0,463.7h0M264.1,461.6h0M264.2,460.4h0M264.3,463.0h0M264.4,460.4h0M264.5,455.2h0M264.6,463.4h0M264.7,462.1h0M264.8,460.0h0M264.9,464.9h0M265.0,465.9h0M265.1,456.7h0M265.2,457.8h0M265.3,467.0h0M265.4,466.5h0M265.5,458.1h0M265.6,456.5h0M265.7,458.6h0M265.8,459.1h0M265.9,454.9h0M266.0,461.2h0M266.1,455.8h0M266.2,456.2h0M266.3,464.4h0M266.4,458.2h0M266.5,460.2h0M266.6,462.6h0M266.7,463.1h0M266.8,458.9h0M266.8,459.7h0M266.9,456.2h0M267.0,466.0h0M267.1,461.3h0M267.2,454.6h0M267.3,459.1h0M267.4,462.0h0M267.5,461.0h0M267.6,466.2h0M267.7,464.2h0M267.8,456.4h0M267.9,458.2h0M268.0,453.2h0M268.1,459.0h0M268.2,458.6h0M268.3,468.1h0M268.4,458.2h0M268.5,450.0h0M268.6,455.1h0M268.7,458.3h0M268.8,453.7h0M268.9,455.2h0M269.0,457.5h0M269.1,460.4h0M269.2,458.2h0M269.3,455.4h0M269.4,462.2h0M269.5,457.2h0M269.6,456.8h0M269.7,453.2h0M269.8,455.4h0M269.9,461.0h0M270.0,452.1h0M270.1,458.6h0M270.2,462.0h0M270.3,457.7h0M270.4,460.4h0M270.5,455.1h0M270.6,464.5h0M270.7,463.5h0M270.8,460.2h0M270.9,452.7h0M270.9,456.0h0M271.0,464.0h0M271.1,467.1h0M271.2,461.2h0M271.3,465.0h0M271.4,457.6h0M271.5,459.2h0M271.6,459.6h0M271.7,461.2h0M271.8,454.1h0M271.9,463.6h0M272.0,465.2h0M272.1,455.9h0M272.2,455.3h0M272.3,462.0h0M272.4,458.3h0M272.5,451.4h0M272.6,464.1h0M272.7,461.5h0M272.8,458.2h0M272.9,468.0h0M273.0,460.2h0M273.1,456.8h0M273.2,460.2h0M273.3,456.0h0M273.4,456.7h0M273.5,460.9h0M273.6,457.5h0M273.7,458.1h0M273.8,466.1h0M273.9,463.5h0M274.0,463.6h0M274.1,462.2h0M274.2,461.8h0M274.3,465.3h0M274.4,458.9h0M274.5,466.4h0M274.6,455.6h0M274.7,458.8h0M274.8,454.2h0M274.9,458.2h0M275.0,461.3h0M275.0,465.2h0M275.1,456.9h0M275.2,459.5h0M275.3,458.1h0M275.4,456.8h0M275.5,455.2h0M275.6,460.5h0M275.7,453.7h0M275.8,460.8h0M275.9,460.6h0M276.0,457.7h0M276.1,456.1h0M276.2,454.4h0M276.3,467.1h0M276.4,454.3h0M276.5,465.5h0M276.6,462.2h0M276.7,458.4h0M276.8,455.7h0M276.9,464.4h0M277.0,466.7h0M277.1,456.4h0M277.2,459.1h0M277.3,464.3h0M277.4,462.2h0M277.5,468.8h0M277.6,458.7h0M277.7,462.8h0M277.8,455.7h0M277.9,468.5h0M278.0,457.1h0M278.1,451.3h0M278.2,459.5h0M278.3,459.3h0M278.4,467.5h0M278.5,458.3h0M278.6,459.8h0M278.7,462.0h0M278.8,465.9h0M278.9,459.4h0M279.0,463.7h0M279.0,461.3h0M279.1,458.3h0M279.2,459.7h0M279.3,459.5h0M279.4,455.8h0M279.5,464.1h0M279.6,454.2h0M279.7,463.7h0M279.8,462.9h0M279.9,458.8h0M280.0,456.6h0M280.1,458.8h0M280.2,461.7h0M280.3,462.7h0M280.4,461.0h0M280.5,464.1h0M280.6,457.8h0M280.7,461.4h0M280.8,454.2h0M280.9,463.3h0M281.0,461.4h0M281.1,459.1h0M281.2,464.9h0M281.3,463.4h0M281.4,449.5h0M281.5,460.4h0M281.6,454.7h0M281.7,464.6h0M281.8,470.2h0M281.9,458.6h0M282.0,460.9h0M282.1,459.6h0M282.2,461.8h0M282.3,463.2h0M282.4,466.0h0M282.5,457.5h0M282.6,467.4h0M282.7,457.7h0M282.8,462.3h0M282.9,465.7h0M283.0,463.8h0M283.1,457.8h0M283.1,458.8h0M283.2,460.1h0M283.3,461.7h0M283.4,466.1h0M283.5,456.7h0M283.6,463.3h0M283.7,464.1h0M283.8,464.1h0M283.9,463.6h0M284.0,467.7h0M284.1,463.6h0M284.2,465.1h0M284.3,464.3h0M284.4,469.7h0M284.5,455.3h0M284.6,467.8h0M284.7,461.3h0M284.8,461.7h0M284.9,458.8h0M285.0,454.9h0M285.1,460.9h0M285.2,459.8h0M285.3,464.5h0M285.4,457.0h0M285.5,468.5h0M285.6,463.7h0M285.7,461.7h0M285.8,459.9h0M285.9,459.8h0M286.0,458.7h0M286.1,461.3h0M286.2,463.6h0M286.3,463.0h0M286.4,458.2h0M286.5,462.5h0M286.6,460.0h0M286.7,464.5h0M286.8,471.6h0M286.9,467.0h0M287.0,463.3h0M287.1,458.2h0M287.2,459.3h0M287.2,458.1h0M287.3,467.3h0M287.4,461.8h0M287.5,465.1h0M287.6,462.3h0M287.7,465.1h0M287.8,470.1h0M287.9,462.5h0M288.0,463.9h0M288.1,462.2h0M288.2,468.8h0M288.3,461.4h0M288.4,460.4h0M288.5,459.1h0M288.6,459.1h0M288.7,466.4h0M288.8,474.3h0M288.9,460.5h0M289.0,468.0h0M289.1,465.1h0M289.2,459.9h0M289.3,462.9h0M289.4,463.1h0M289.5,461.4h0M289.6,471.5h0M289.7,456.9h0M289.8,465.7h0M289.9,465.1h0M290.0,461.6h0M290.1,464.5h0M290.2,467.5h0M290.3,464.7h0M290.4,465.5h0M290.5,466.7h0M290.6,456.2h0M290.7,469.5h0M290.8,472.3h0M290.9,467.0h0M291.0,467.0h0M291.1,457.5h0M291.2,462.3h0M291.3,459.6h0M291.3,460.4h0M291.4,466.3h0M291.5,459.3h0M291.6,461.8h0M291.7,454.7h0M291.8,461.2h0M291.9,461.5h0M292.0,458.4h0M292.1,458.5h0M292.2,468.5h0M292.3,456.1h0M292.4,456.7h0M292.5,457.8h0M292.6,465.5h0M292.7,469.3h0M292.8,462.5h0M292.9,458.8h0M293.0,460.3h0M293.1,466.1h0M293.2,458.6h0M293.3,467.6h0M293.4,467.1h0M293.5,461.7h0M293.6,464.3h0M293.7,464.2h0M293.8,467.9h0M293.9,458.1h0M294.0,466.6h0M294.1,460.4h0M294.2,458.8h0M294.3,462.4h0M294.4,461.3h0M294.5,458.3h0M294.6,455.7h0M294.7,458.7h0M294.8,468.3h0M294.9,470.3h0M295.0,465.3h0M295.1,467.1h0M295.2,460.3h0M295.3,462.3h0M295.3,464.2h0M295.4,458.6h0M295.5,459.0h0M295.6,463.5h0M295.7,461.7h0M295.8,459.2h0M295.9,464.9h0M296.0,462.3h0M296.1,467.2h0M296.2,463.1h0M296.3,462.3h0M296.4,463.7h0M296.5,462.9h0M296.6,461.0h0M296.7,462.2h0M296.8,466.7h0M296.9,466.2h0M297.0,468.5h0M297.1,456.8h0M297.2,462.0h0M297.3,462.0h0M297.4,464.9h0M297.5,462.2h0M297.6,461.7h0M297.7,467.2h0M297.8,464.4h0M297.9,459.0h0M298.0,469.1h0M298.1,467.9h0M298.2,461.5h0M298.3,467.0h0M298.4,461.1h0M298.5,468.5h0M298.6,463.4h0M298.7,460.8h0M298.8,462.1h0M298.9,460.6h0M299.0,464.5h0M299.1,464.5h0M299.2,464.3h0M299.3,461.8h0M299.4,448.8h0M299.4,463.7h0M299.5,455.8h0M299.6,464.1h0M299.7,467.6h0M299.8,464.2h0M299.9,461.9h0M300.0,462.5h0M300.1,462.6h0M300.2,461.2h0M300.3,460.6h0M300.4,459.6h0M300.5,467.1h0M300.6,462.1h0M300.7,465.7h0M300.8,460.8h0M300.9,462.0h0M301.0,461.0h0M301.1,463.5h0M301.2,465.2h0M301.3,462.7h0M301.4,458.7h0M301.5,458.4h0M301.6,467.8h0M301.7,460.2h0M301.8,460.4h0M301.9,467.3h0M302.0,465.3h0M302.1,463.0h0M302.2,459.2h0M302.3,469.6h0M302.4,461.7h0M302.5,462.0h0M302.6,459.1h0M302.7,454.1h0M302.8,454.4h0M302.9,461.6h0M303.0,461.5h0M303.1,459.2h0M303.2,455.2h0M303.3,454.4h0M303.4,459.3h0M303.5,455.1h0M303.5,464.7h0M303.6,465.6h0M303.7,472.1h0M303.8,464.6h0M303.9,458.0h0M304.0,456.8h0M304.1,446.6h0M304.2,457.9h0M304.3,459.6h0M304.4,464.0h0M304.5,463.3h0M304.6,463.3h0M304.7,462.0h0M304.8,464.1h0M304.9,467.1h0M305.0,457.1h0M305.1,459.8h0M305.2,455.8h0M305.3,467.5h0M305.4,466.3h0M305.5,464.2h0M305.6,456.9h0M305.7,462.3h0M305.8,460.8h0M305.9,462.2h0M306.0,461.1h0M306.1,463.7h0M306.2,460.6h0M306.3,465.4h0M306.4,463.6h0M306.5,461.6h0M306.6,462.2h0M306.7,461.2h0M306.8,466.4h0M306.9,461.8h0M307.0,463.9h0M307.1,461.0h0M307.2,456.9h0M307.3,466.2h0M307.4,458.4h0M307.5,465.0h0M307.6,463.7h0M307.6,455.8h0M307.7,458.0h0M307.8,459.5h0M307.9,458.8h0M308.0,457.6h0M308.1,465.1h0M308.2,461.3h0M308.3,464.0h0M308.4,460.6h0M308.5,463.2h0M308.6,459.5h0M308.7,462.0h0M308.8,464.1h0M308.9,462.2h0M309.0,460.4h0M309.1,457.4h0M309.2,462.4h0M309.3,463.0h0M309.4,460.6h0M309.5,458.9h0M309.6,463.9h0M309.7,471.3h0M309.8,460.4h0M309.9,462.9h0M310.0,463.2h0M310.1,451.8h0M310.2,462.2h0M310.3,458.9h0M310.4,466.5h0M310.5,460.2h0M310.6,458.0h0M310.7,459.8h0M310.8,461.4h0M310.9,458.5h0M311.0,460.5h0M311.1,455.4h0M311.2,459.6h0M311.3,463.4h0M311.4,468.1h0M311.5,463.0h0M311.6,461.3h0M311.7,464.6h0M311.7,464.7h0M311.8,467.0h0M311.9,464.7h0M312.0,460.2h0M312.1,461.6h0M312.2,461.0h0M312.3,461.5h0M312.4,460.9h0M312.5,457.1h0M312.6,451.3h0M312.7,456.9h0M312.8,451.4h0M312.9,459.4h0M313.0,459.2h0M313.1,452.9h0M313.2,462.3h0M313.3,463.0h0M313.4,459.7h0M313.5,465.2h0M313.6,466.2h0M313.7,454.2h0" stroke="#472a7a" stroke-width="4.8" stroke-linecap="round" stroke-linejoin="round" fill="none"/>
<path d="M72.3,374.7h0M72.4,376.4h0M72.5,377.7h0M72.7,383.4h0M72.8,382.7h0M72.9,387.1h0M73.0,385.6h0M73.2,383.4h0M73.3,389.8h0M73.4,389.3h0M73.5,391.0h0M73.7,395.1h0M73.8,393.2h0M73.9,396.7h0M74.0,396.0h0M74.1,396.0h0M74.3,399.0h0M74.4,398.4h0M74.5,402.1h0M74.6,402.8h0M74.8,402.4h0M74.9,404.1h0M75.0,404.8h0M75.1,404.2h0M75.2,406.7h0M75.4,405.7h0M75.5,407.7h0M75.6,406.0h0M75.7,408.4h0M75.9,409.6h0M76.0,408.1h0M76.1,409.3h0M76.2,409.8h0M76.4,412.6h0M76.5,410.8h0M76.6,413.2h0M76.7,415.5h0M76.8,414.1h0M77.0,411.4h0M77.1,414.8h0M77.2,416.6h0M77.3,415.1h0M77.5,417.9h0M77.6,417.6h0M77.7,417.5h0M77.8,416.8h0M77.9,416.9h0M78.1,417.7h0M78.2,418.8h0M78.3,419.9h0M78.4,420.0h0M78.6,419.2h0M78.7,420.2h0M78.8,421.0h0M78.9,418.1h0M79.1,419.8h0M79.2,420.2h0M79.3,421.4h0M79.4,421.5h0M79.5,421.9h0M79.7,421.2h0M79.9,424.0h0M80.1,423.8h0M80.3,421.1h0M80.4,424.2h0M80.6,422.6h0M80.8,427.4h0M81.0,424.2h0M81.2,424.6h0M81.3,425.7h0M81.5,425.5h0M81.7,426.2h0M81.9,429.1h0M82.1,427.1h0M82.2,428.2h0M82.4,429.0h0M82.6,426.1h0M82.8,430.6h0M83.0,429.2h0M83.1,429.9h0M83.3,427.1h0M83.5,430.1h0M83.7,429.7h0M83.9,428.3h0M84.0,432.9h0M84.2,430.3h0M84.4,429.1h0M84.6,429.9h0M84.8,431.2h0M84.9,431.7h0M85.1,431.0h0M85.3,432.2h0M85.5,432.6h0M85.7,428.5h0M85.9,429.8h0M86.0,429.3h0M86.2,431.0h0M86.4,433.2h0M86.6,431.9h0M86.8,429.3h0M86.9,430.8h0M87.1,433.0h0M87.3,430.7h0M87.5,431.6h0M87.7,432.3h0M87.8,428.9h0M88.0,433.3h0M88.2,432.6h0M88.4,433.1h0M88.6,430.6h0M88.7,431.0h0M88.9,431.4h0M89.1,432.8h0M89.3,432.6h0M89.5,432.7h0M89.6,435.3h0M89.8,434.6h0M90.0,431.4h0M90.2,431.6h0M90.4,435.3h0M90.5,432.2h0M90.7,435.2h0M90.9,435.5h0M91.1,432.2h0M91.3,432.7h0M91.4,433.5h0M91.6,432.1h0M91.8,432.1h0M92.0,433.0h0M92.2,435.0h0M92.3,433.1h0M92.5,433.5h0M92.7,433.0h0M92.9,431.7h0M93.1,436.4h0M93.2,430.3h0M93.4,433.0h0M93.6,435.0h0M93.8,432.0h0M94.0,435.4h0M94.1,436.7h0M94.3,433.3h0M94.5,435.0h0M94.7,433.2h0M94.9,435.7h0M95.0,435.2h0M95.2,435.3h0M95.4,437.3h0M95.6,436.0h0M95.8,437.5h0M95.9,436.4h0M96.1,433.6h0M96.3,435.9h0M96.5,436.3h0M96.7,433.3h0M96.8,437.8h0M97.0,436.0h0M97.2,436.5h0M97.4,434.4h0M97.6,435.8h0M97.7,436.4h0M97.9,435.3h0M98.1,436.0h0M98.3,432.7h0M98.5,438.2h0M98.6,434.3h0M98.8,432.4h0M99.0,434.4h0M99.2,434.5h0M99.4,436.8h0M99.6,434.6h0M99.7,436.4h0M99.9,434.5h0M100.1,439.7h0M100.3,437.1h0M100.5,439.3h0M100.6,434.6h0M100.8,437.3h0M101.0,434.9h0M101.2,437.3h0M101.4,437.5h0M101.5,433.8h0M101.7,434.6h0M101.9,434.7h0M102.1,434.0h0M102.3,435.2h0M102.4,434.9h0M102.6,434.4h0M102.8,436.8h0M103.0,437.6h0M103.2,434.6h0M103.3,435.7h0M103.5,436.7h0M103.7,436.4h0M103.9,435.8h0M104.1,438.2h0M104.2,438.3h0M104.4,437.9h0M104.6,436.6h0M104.8,440.2h0M105.0,439.7h0M105.1,436.2h0M105.3,436.8h0M105.5,438.8h0M105.7,435.6h0M105.9,437.5h0M106.0,437.0h0M106.2,436.1h0M106.4,436.9h0M106.6,434.8h0M106.8,436.4h0M106.9,434.2h0M107.1,441.1h0M107.3,439.8h0M107.5,439.4h0M107.7,438.0h0M107.8,439.2h0M108.0,439.9h0M108.2,439.4h0M108.4,439.2h0M108.6,436.3h0M108.7,438.5h0M108.9,436.8h0M109.1,435.8h0M109.3,435.7h0M109.5,438.4h0M109.6,439.7h0M109.8,436.0h0M110.0,441.0h0M110.2,440.6h0M110.4,437.7h0M110.5,437.6h0M110.7,438.5h0M110.9,440.1h0M111.1,437.9h0M111.3,436.8h0M111.4,439.3h0M111.6,435.5h0M111.8,439.3h0M112.0,441.1h0M112.2,439.7h0M112.3,440.7h0M112.5,440.2h0M112.7,440.6h0M112.9,439.8h0M113.1,438.2h0M113.3,439.3h0M113.4,439.6h0M113.6,441.7h0M113.8,442.3h0M114.0,440.6h0M114.2,438.8h0M114.3,438.8h0M114.5,439.8h0M114.7,442.4h0M114.9,440.7h0M115.1,440.1h0M115.2,439.1h0M115.4,441.8h0M115.6,440.8h0M115.8,440.4h0M116.0,440.7h0M116.1,443.0h0M116.3,440.2h0M116.5,443.3h0M116.7,442.7h0M116.9,440.9h0M117.0,442.2h0M117.2,440.5h0M117.4,439.2h0M117.6,440.0h0M117.8,439.0h0M117.9,441.4h0M118.1,440.5h0M118.3,441.4h0M118.5,441.9h0M118.7,435.5h0M118.8,440.7h0M119.0,437.4h0M119.2,440.4h0M119.4,438.5h0M119.6,440.1h0M119.7,442.1h0M119.9,437.2h0M120.1,440.3h0M120.3,440.0h0M120.5,437.1h0M120.6,441.2h0M120.8,440.1h0M121.0,439.3h0M121.2,439.1h0M121.4,445.4h0M121.5,439.8h0M121.7,437.5h0M121.9,439.0h0M122.1,439.9h0M122.3,439.9h0M122.4,440.4h0M122.6,438.7h0M122.8,441.2h0M123.0,439.7h0M123.2,438.3h0M123.3,439.2h0M123.5,440.1h0M123.7,442.0h0M123.9,441.4h0M124.1,440.2h0M124.2,440.8h0M124.4,441.1h0M124.6,444.0h0M124.8,439.9h0M125.0,441.7h0M125.1,442.0h0M125.3,439.2h0M125.5,441.2h0M125.7,441.2h0M125.9,440.3h0M126.0,442.0h0M126.2,442.9h0M126.4,443.1h0M126.6,441.0h0M126.8,441.6h0M127.0,445.2h0M127.1,439.7h0M127.3,441.9h0M127.5,443.0h0M127.7,441.9h0M127.9,442.7h0M128.0,442.0h0M128.2,443.0h0M128.4,443.8h0M128.6,441.5h0M128.8,442.0h0M128.9,441.5h0M129.1,440.8h0M129.3,441.4h0M129.5,439.6h0M129.7,443.0h0M129.8,444.5h0M130.0,444.7h0M130.2,444.2h0M130.4,440.6h0M130.6,444.6h0M130.7,441.2h0M130.9,442.2h0M131.1,445.4h0M131.3,440.8h0M131.5,443.7h0M131.6,442.7h0M131.8,442.0h0M132.0,441.0h0M132.2,443.1h0M132.4,441.7h0M132.5,444.2h0M132.7,444.6h0M132.9,440.4h0M133.1,441.9h0M133.3,442.1h0M133.4,440.7h0M133.6,440.7h0M133.8,442.8h0M134.0,442.2h0M134.2,440.0h0M134.3,441.8h0M134.5,443.4h0M134.7,440.8h0M134.9,441.2h0M135.1,445.0h0M135.2,444.6h0M135.4,439.9h0M135.6,440.5h0M135.8,443.1h0M136.0,440.5h0M136.1,442.2h0M136.3,442.0h0M136.5,443.7h0M136.7,438.6h0M136.9,439.3h0M137.0,440.5h0M137.2,444.1h0M137.4,442.0h0M137.6,439.4h0M137.8,442.9h0M137.9,443.3h0M138.1,441.7h0M138.3,441.5h0M138.5,442.8h0M138.7,444.0h0M138.8,442.4h0M139.0,443.1h0M139.2,442.2h0M139.4,441.6h0M139.6,440.9h0M139.7,442.8h0M139.9,441.9h0M140.1,442.0h0M140.3,444.0h0M140.5,443.2h0M140.7,443.9h0M140.8,440.1h0M141.0,443.7h0M141.2,441.7h0M141.4,441.6h0M141.6,441.6h0M141.7,444.8h0M141.9,444.3h0M142.1,442.0h0M142.3,441.4h0M142.5,443.2h0M142.6,442.5h0M142.8,446.0h0M143.0,440.7h0M143.2,440.3h0M143.4,442.8h0M143.5,443.4h0M143.7,443.5h0M143.9,444.7h0M144.1,446.9h0M144.3,442.9h0M144.4,442.7h0M144.6,440.9h0M144.8,444.1h0M145.0,445.2h0M145.2,443.5h0M145.3,445.7h0M145.5,443.8h0M145.7,446.3h0M145.9,444.3h0M146.1,442.1h0M146.2,442.7h0M146.4,441.3h0M146.6,440.8h0M146.8,444.1h0M147.0,445.0h0M147.1,446.7h0M147.3,443.5h0M147.5,443.2h0M147.7,441.8h0M147.9,445.3h0M148.0,444.4h0M148.2,442.7h0M148.4,444.8h0M148.6,444.8h0M148.8,440.7h0M148.9,444.9h0M149.1,444.0h0M149.3,443.3h0M149.5,443.2h0M149.7,446.6h0M149.8,446.3h0M150.0,446.8h0M150.2,442.0h0M150.4,443.0h0M150.6,445.4h0M150.7,442.1h0M150.9,442.7h0M151.1,440.9h0M151.3,446.7h0M151.5,445.6h0M151.6,444.6h0M151.8,444.1h0M152.0,443.1h0M152.2,443.3h0M152.4,444.9h0M152.5,442.7h0M152.7,445.8h0M152.9,443.1h0M153.1,442.5h0M153.3,445.9h0M153.4,443.7h0M153.6,444.9h0M153.8,443.3h0M154.0,440.6h0M154.2,445.1h0M154.3,442.1h0M154.5,446.0h0M154.7,441.8h0M154.9,441.4h0M155.1,444.9h0M155.3,444.9h0M155.4,444.2h0M155.6,442.3h0M155.8,445.6h0M156.0,441.8h0M156.2,443.5h0M156.3,443.1h0M156.5,443.7h0M156.7,445.6h0M156.9,443.2h0M157.1,445.2h0M157.2,445.5h0M157.4,441.6h0M157.6,442.5h0M157.8,443.6h0M158.0,443.3h0M158.1,444.8h0M158.3,441.2h0M158.5,445.4h0M158.7,445.5h0M158.9,444.1h0M159.0,442.2h0M159.2,444.4h0M159.4,443.6h0M159.6,445.4h0M159.8,444.4h0M159.9,445.7h0M160.1,443.8h0M160.3,446.8h0M160.5,440.8h0M160.7,443.1h0M160.8,445.5h0M161.0,442.3h0M161.2,445.9h0M161.4,442.6h0M161.6,444.6h0M161.7,443.1h0M161.9,443.8h0M162.1,444.8h0M162.3,444.3h0M162.5,443.9h0M162.6,448.1h0M162.8,444.8h0M163.0,443.1h0M163.2,446.1h0M163.4,446.0h0M163.5,446.6h0M163.7,447.4h0M163.9,443.1h0M164.1,446.3h0M164.3,446.5h0M164.4,444.6h0M164.6,444.9h0M164.8,439.9h0M165.0,443.8h0M165.2,447.7h0M165.3,442.1h0M165.5,444.0h0M165.7,445.4h0M165.9,446.0h0M166.1,447.6h0M166.2,442.1h0M166.4,444.9h0M166.6,446.3h0M166.8,442.6h0M167.0,444.5h0M167.1,447.6h0M167.3,446.7h0M167.5,445.5h0M167.7,440.4h0M167.9,444.4h0M168.0,445.2h0M168.2,444.1h0M168.4,444.5h0M168.6,449.5h0M168.8,444.3h0M169.0,443.1h0M169.1,445.0h0M169.3,444.1h0M169.5,444.1h0M169.7,444.6h0M169.9,445.9h0M170.0,445.0h0M170.2,442.7h0M170.4,444.6h0M170.6,445.7h0M170.8,444.2h0M170.9,446.9h0M171.1,446.2h0M171.3,443.4h0M171.5,445.5h0M171.7,448.2h0M171.8,447.5h0M172.0,444.9h0M172.2,446.4h0M172.4,443.8h0M172.6,442.4h0M172.7,445.5h0M172.9,445.1h0M173.1,445.6h0M173.3,444.7h0M173.5,445.2h0M173.6,443.9h0M173.8,445.6h0M174.0,446.1h0M174.2,444.7h0M174.4,446.4h0M174.5,442.1h0M174.7,443.7h0M174.9,447.3h0M175.1,447.9h0M175.3,445.6h0M175.4,444.9h0M175.6,442.9h0M175.8,445.5h0M176.0,446.3h0M176.2,442.8h0M176.3,446.1h0M176.5,445.9h0M176.7,445.9h0M176.9,443.3h0M177.1,446.0h0M177.2,442.7h0M177.4,447.5h0M177.6,445.3h0M177.8,443.1h0M178.0,447.1h0M178.1,446.9h0M178.3,444.0h0M178.5,448.7h0M178.7,443.5h0M178.9,445.6h0M179.0,446.9h0M179.2,441.4h0M179.4,446.7h0M179.6,444.9h0M179.8,445.0h0M179.9,443.4h0M180.1,445.7h0M180.3,443.3h0M180.5,443.6h0M180.7,444.5h0M180.8,443.4h0M181.0,447.8h0M181.2,443.3h0M181.4,444.3h0M181.6,445.0h0M181.7,445.3h0M181.9,446.7h0M182.1,447.0h0M182.3,445.2h0M182.5,445.1h0M182.7,445.5h0M182.8,446.8h0M183.0,446.8h0M183.2,444.9h0M183.4,442.4h0M183.6,449.1h0M183.7,447.2h0M183.9,446.2h0M184.1,446.4h0M184.3,445.1h0M184.5,444.2h0M184.6,445.3h0M184.8,445.5h0M185.0,444.8h0M185.2,443.3h0M185.4,445.0h0M185.5,446.2h0M185.7,444.5h0M185.9,445.2h0M186.1,441.9h0M186.3,444.9h0M186.4,445.1h0M186.6,443.2h0M186.8,442.4h0M187.0,445.9h0M187.2,443.9h0M187.3,446.0h0M187.5,444.5h0M187.7,446.2h0M187.9,444.8h0M188.1,442.8h0M188.2,445.1h0M188.4,444.8h0M188.6,446.4h0M188.8,444.8h0M189.0,444.6h0M189.1,446.8h0M189.3,447.2h0M189.5,446.3h0M189.7,446.7h0M189.9,445.9h0M190.0,446.6h0M190.2,446.9h0M190.4,446.2h0M190.6,445.5h0M190.8,445.6h0M190.9,449.3h0M191.1,445.4h0M191.3,445.0h0M191.5,444.7h0M191.7,445.2h0M191.8,445.8h0M192.0,443.7h0M192.2,442.6h0M192.4,446.2h0M192.6,443.3h0M192.7,446.3h0M192.9,446.0h0M193.1,447.7h0M193.3,448.4h0M193.5,446.3h0M193.6,444.9h0M193.8,443.9h0M194.0,444.6h0M194.2,446.1h0M194.4,442.7h0M194.5,446.2h0M194.7,446.2h0M194.9,447.3h0M195.1,445.6h0M195.3,446.2h0M195.4,444.9h0M195.6,445.3h0M195.8,443.2h0M196.0,446.1h0M196.2,448.4h0M196.4,446.3h0M196.5,446.6h0M196.7,444.5h0M196.9,448.4h0M197.1,444.7h0M197.3,447.2h0M197.4,446.0h0M197.6,444.1h0M197.8,447.3h0M198.0,445.7h0M198.2,446.0h0M198.3,446.4h0M198.5,445.5h0M198.7,445.0h0M198.9,446.3h0M199.1,444.6h0M199.2,445.3h0M199.4,444.0h0M199.6,442.6h0M199.8,443.9h0M200.0,444.3h0M200.1,445.4h0M200.3,447.4h0M200.5,442.9h0M200.7,445.9h0M200.9,442.2h0M201.0,444.1h0M201.2,445.0h0M201.4,442.2h0M201.6,442.9h0M201.8,445.9h0M201.9,445.8h0M202.1,445.5h0M202.3,444.2h0M202.5,449.1h0M202.7,445.4h0M202.8,444.3h0M203.0,448.4h0M203.2,446.7h0M203.4,445.0h0M203.6,447.4h0M203.7,445.9h0M203.9,446.7h0M204.1,446.1h0M204.3,444.0h0M204.5,447.3h0M204.6,446.1h0M204.8,444.3h0M205.0,444.9h0M205.2,447.5h0M205.4,445.5h0M205.5,446.0h0M205.7,447.1h0M205.9,446.3h0M206.1,443.7h0M206.3,447.3h0M206.4,448.0h0M206.6,447.8h0M206.8,449.0h0M207.0,447.0h0M207.2,447.6h0M207.3,448.7h0M207.5,445.6h0M207.7,448.8h0M207.9,448.8h0M208.1,447.2h0M208.2,448.9h0M208.4,447.3h0M208.6,444.5h0M208.8,447.7h0M209.0,446.4h0M209.1,446.8h0M209.3,446.2h0M209.5,448.2h0M209.7,447.0h0M209.9,445.1h0M210.1,446.9h0M210.2,447.4h0M210.4,445.1h0M210.6,445.5h0M210.8,445.7h0M211.0,445.3h0M211.1,446.8h0M211.3,447.7h0M211.5,449.0h0M211.7,448.0h0M211.9,447.7h0M212.0,447.8h0M212.2,447.9h0M212.4,445.2h0M212.6,447.0h0M212.8,446.6h0M212.9,445.8h0M213.1,445.2h0M213.3,445.2h0M213.5,445.4h0M213.7,443.8h0M213.8,446.5h0M214.0,445.8h0M214.2,446.1h0M214.4,446.4h0M214.6,447.2h0M214.7,445.2h0M214.9,445.9h0M215.1,443.5h0M215.3,442.4h0M215.5,442.8h0M215.6,448.4h0M215.8,442.9h0M216.0,446.7h0M216.2,448.2h0M216.4,445.1h0M216.5,448.3h0M216.7,448.8h0M216.9,447.3h0M217.1,449.6h0M217.3,446.6h0M217.4,444.5h0M217.6,446.3h0M217.8,444.6h0M218.0,443.4h0M218.2,443.4h0M218.3,449.1h0M218.5,444.5h0M218.7,445.4h0M218.9,444.3h0M219.1,445.6h0M219.2,445.2h0M219.4,445.0h0M219.6,443.8h0M219.8,443.3h0M220.0,444.4h0M220.1,445.8h0M220.3,448.7h0M220.5,447.1h0M220.7,448.2h0M220.9,446.1h0M221.0,445.2h0M221.2,443.2h0M221.4,445.3h0M221.6,441.8h0M221.8,444.7h0M221.9,447.6h0M222.1,445.5h0M222.3,446.9h0M222.5,444.4h0M222.7,442.9h0M222.8,444.3h0M223.0,444.4h0M223.2,447.1h0M223.4,448.3h0M223.6,444.0h0M223.8,444.7h0M223.9,445.0h0M224.1,444.8h0M224.3,443.2h0M224.5,445.4h0M224.7,446.0h0M224.8,445.8h0M225.0,443.5h0M225.2,445.2h0M225.4,442.5h0M225.6,446.9h0M225.7,443.8h0M225.9,445.0h0M226.1,444.8h0M226.3,444.6h0M226.5,443.8h0M226.6,442.5h0M226.8,448.0h0M227.0,445.7h0M227.2,445.7h0M227.4,448.5h0M227.5,445.2h0M227.7,446.3h0M227.9,445.4h0M228.1,447.4h0M228.3,446.3h0M228.4,446.0h0M228.6,445.3h0M228.8,446.1h0M229.0,447.6h0M229.2,442.4h0M229.3,445.6h0M229.5,445.0h0M229.7,445.2h0M229.9,442.5h0M230.1,446.8h0M230.2,444.4h0M230.4,445.4h0M230.6,444.8h0M230.8,442.9h0M231.0,444.9h0M231.1,442.6h0M231.3,444.0h0M231.5,445.0h0M231.7,445.4h0M231.9,445.4h0M232.0,445.0h0M232.2,448.9h0M232.4,446.0h0M232.6,443.4h0M232.8,444.4h0M232.9,444.3h0M233.1,445.0h0M233.3,444.5h0M233.5,444.1h0M233.7,448.1h0M233.8,445.7h0M234.0,445.1h0M234.2,445.3h0M234.4,445.4h0M234.6,448.2h0M234.7,446.7h0M234.9,447.8h0M235.1,440.9h0M235.3,446.5h0M235.5,447.4h0M235.6,448.9h0M235.8,445.8h0M236.0,442.8h0M236.2,446.7h0M236.4,444.7h0M236.5,442.8h0M236.7,444.7h0M236.9,447.5h0M237.1,447.8h0M237.3,447.1h0M237.4,444.4h0M237.6,450.1h0M237.8,444.1h0M238.0,445.9h0M238.2,443.8h0M238.4,448.3h0M238.5,446.9h0M238.7,447.6h0M238.9,446.4h0M239.1,446.2h0M239.3,446.7h0M239.4,443.3h0M239.6,447.9h0M239.8,447.8h0M240.0,445.8h0M240.2,446.5h0M240.3,446.9h0M240.5,449.0h0M240.7,447.0h0M240.9,446.3h0M241.1,445.4h0M241.2,443.7h0M241.4,445.0h0M241.6,446.1h0M241.8,445.5h0M242.0,446.1h0M242.1,447.2h0M242.3,446.6h0M242.5,446.5h0M242.7,447.1h0M242.9,446.5h0M243.0,446.3h0M243.2,447.0h0M243.4,443.5h0M243.6,448.5h0M243.8,444.5h0M243.9,447.9h0M244.1,446.5h0M244.3,448.3h0M244.5,446.6h0M244.7,445.0h0M244.8,448.1h0M245.0,446.6h0M245.2,446.6h0M245.4,446.5h0M245.6,447.8h0M245.7,447.5h0M245.9,446.6h0M246.1,443.6h0M246.3,445.3h0M246.5,446.1h0M246.6,448.9h0M246.8,446.7h0M247.0,445.9h0M247.2,448.1h0M247.4,446.0h0M247.5,445.8h0M247.7,446.2h0M247.9,443.5h0M248.1,447.5h0M248.3,446.6h0M248.4,445.5h0M248.6,444.2h0M248.8,446.6h0M249.0,448.3h0M249.2,445.0h0M249.3,444.3h0M249.5,446.7h0M249.7,443.5h0M249.9,442.3h0M250.1,445.1h0M250.2,444.8h0M250.4,445.4h0M250.6,444.9h0M250.8,446.3h0M251.0,445.2h0M251.1,444.6h0M251.3,444.7h0M251.5,446.4h0M251.7,446.9h0M251.9,446.7h0M252.1,446.4h0M252.2,440.1h0M252.4,443.6h0M252.6,444.7h0M252.8,445.7h0M253.0,442.9h0M253.1,447.8h0M253.3,446.1h0M253.5,444.6h0M253.7,445.9h0M253.9,445.1h0M254.0,444.5h0M254.2,446.6h0M254.4,445.1h0M254.6,443.5h0M254.8,444.7h0M254.9,445.7h0M255.1,444.2h0M255.3,447.9h0M255.5,444.1h0M255.7,448.7h0M255.8,447.3h0M256.0,444.4h0M256.2,445.9h0M256.4,447.7h0M256.6,445.3h0M256.7,443.9h0M256.9,445.9h0M257.1,449.0h0M257.3,443.5h0M257.5,446.6h0M257.6,445.8h0M257.8,445.6h0M258.0,445.2h0M258.2,445.3h0M258.4,447.5h0M258.5,446.9h0M258.7,444.3h0M258.9,448.3h0M259.1,443.7h0M259.3,446.9h0M259.4,446.1h0M259.6,447.9h0M259.8,446.8h0M260.0,448.0h0M260.2,446.2h0M260.3,447.9h0M260.5,446.9h0M260.7,449.7h0M260.9,445.3h0M261.1,448.4h0M261.2,447.1h0M261.4,446.6h0M261.6,445.3h0M261.8,446.9h0M262.0,443.8h0M262.1,444.0h0M262.3,447.4h0M262.5,443.9h0M262.7,448.5h0M262.9,445.9h0M263.0,446.8h0M263.2,446.6h0M263.4,447.2h0M263.6,446.2h0M263.8,446.1h0M263.9,446.6h0M264.1,448.4h0M264.3,448.5h0M264.5,448.7h0M264.7,447.3h0M264.8,446.4h0M265.0,444.1h0M265.2,447.8h0M265.4,448.2h0M265.6,446.2h0M265.8,448.1h0M265.9,448.8h0M266.1,447.2h0M266.3,448.9h0M266.5,447.7h0M266.7,444.4h0M266.8,446.5h0M267.0,446.5h0M267.2,447.9h0M267.4,445.6h0M267.6,446.3h0M267.7,445.3h0M267.9,446.8h0M268.1,447.0h0M268.3,448.3h0M268.5,448.0h0M268.6,447.0h0M268.8,447.1h0M269.0,446.9h0M269.2,446.9h0M269.4,449.2h0M269.5,442.7h0M269.7,446.2h0M269.9,446.9h0M270.1,448.4h0M270.3,444.7h0M270.4,447.0h0M270.6,447.8h0M270.8,445.8h0M271.0,443.4h0M271.2,445.8h0M271.3,444.4h0M271.5,447.3h0M271.7,444.9h0M271.9,449.2h0M272.1,446.6h0M272.2,445.2h0M272.4,445.7h0M272.6,444.8h0M272.8,447.1h0M273.0,449.0h0M273.1,446.0h0M273.3,447.9h0M273.5,444.8h0M273.7,446.8h0M273.9,450.1h0M274.0,444.3h0M274.2,448.5h0M274.4,448.4h0M274.6,443.5h0M274.8,444.2h0M274.9,444.9h0M275.1,448.1h0M275.3,445.8h0M275.5,446.2h0M275.7,447.8h0M275.8,446.9h0M276.0,447.2h0M276.2,446.3h0M276.4,448.6h0M276.6,445.8h0M276.7,449.6h0M276.9,446.4h0M277.1,445.8h0M277.3,448.0h0M277.5,447.7h0M277.6,443.8h0M277.8,447.3h0M278.0,444.7h0M278.2,445.4h0M278.4,448.0h0M278.5,445.4h0M278.7,447.4h0M278.9,446.3h0M279.1,449.9h0M279.3,446.7h0M279.5,444.9h0M279.6,444.9h0M279.8,445.2h0M280.0,446.8h0M280.2,446.6h0M280.4,447.9h0M280.5,446.9h0M280.7,446.9h0M280.9,447.1h0M281.1,446.4h0M281.3,446.9h0M281.4,447.6h0M281.6,447.6h0M281.8,445.6h0M282.0,443.6h0M282.2,445.1h0M282.3,446.9h0M282.5,442.3h0M282.7,445.6h0M282.9,447.0h0M283.1,445.3h0M283.2,444.2h0M283.4,448.8h0M283.6,448.5h0M283.8,445.8h0M284.0,448.2h0M284.1,448.2h0M284.3,444.4h0M284.5,450.4h0M284.7,444.8h0M284.9,445.8h0M285.0,444.5h0M285.2,446.4h0M285.4,444.1h0M285.6,446.4h0M285.8,448.2h0M285.9,446.7h0M286.1,446.1h0M286.3,448.8h0M286.5,445.1h0M286.7,448.0h0M286.8,445.9h0M287.0,446.8h0M287.2,446.6h0M287.4,446.9h0M287.6,446.6h0M287.7,445.5h0M287.9,445.7h0M288.1,447.2h0M288.3,446.4h0M288.5,444.7h0M288.6,445.4h0M288.8,445.5h0M289.0,446.4h0M289.2,446.6h0M289.4,446.5h0M289.5,445.4h0M289.7,446.4h0M289.9,444.2h0M290.1,441.8h0M290.3,446.2h0M290.4,443.8h0M290.6,444.9h0M290.8,444.4h0M291.0,447.3h0M291.2,444.4h0M291.3,446.9h0M291.5,445.7h0M291.7,444.5h0M291.9,443.9h0M292.1,447.1h0M292.2,447.0h0M292.4,447.8h0M292.6,449.5h0M292.8,447.1h0M293.0,447.0h0M293.2,446.3h0M293.3,446.8h0M293.5,445.9h0M293.7,444.9h0M293.9,449.4h0M294.1,443.3h0M294.2,446.7h0M294.4,446.9h0M294.6,446.4h0M294.8,444.5h0M295.0,445.9h0M295.1,445.5h0M295.3,444.4h0M295.5,446.1h0M295.7,445.5h0M295.9,445.3h0M296.0,447.3h0M296.2,444.4h0M296.4,446.9h0M296.6,445.2h0M296.8,447.0h0M296.9,446.4h0M297.1,446.6h0M297.3,444.5h0M297.5,445.0h0M297.7,445.0h0M297.8,446.6h0M298.0,447.6h0M298.2,448.2h0M298.4,445.7h0M298.6,446.5h0M298.7,443.7h0M298.9,442.8h0M299.1,444.9h0M299.3,445.1h0M299.5,443.9h0M299.6,443.6h0M299.8,447.1h0M300.0,444.9h0M300.2,443.5h0M300.4,449.8h0M300.5,446.4h0M300.7,445.6h0M300.9,447.2h0M301.1,445.1h0M301.3,448.9h0M301.4,443.8h0M301.6,444.3h0M301.8,446.3h0M302.0,445.4h0M302.2,449.0h0M302.3,444.0h0M302.5,445.4h0M302.7,447.1h0M302.9,447.5h0M303.1,448.2h0M303.2,447.2h0M303.4,450.1h0M303.6,446.0h0M303.8,447.0h0M304.0,448.1h0M304.1,446.3h0M304.3,446.4h0M304.5,446.3h0M304.7,446.1h0M304.9,445.4h0M305.0,446.3h0M305.2,444.7h0M305.4,447.7h0M305.6,444.5h0M305.8,450.3h0M305.9,449.6h0M306.1,448.8h0M306.3,446.6h0M306.5,446.0h0M306.7,449.1h0M306.9,447.2h0M307.0,447.8h0M307.2,445.8h0M307.4,448.7h0M307.6,445.7h0M307.8,447.2h0M307.9,444.3h0M308.1,446.1h0M308.3,447.9h0M308.5,446.4h0M308.7,446.3h0M308.8,448.3h0M309.0,446.7h0M309.2,448.9h0M309.4,443.1h0M309.6,447.9h0M309.7,448.0h0M309.9,444.7h0M310.1,445.1h0M310.3,448.6h0M310.5,445.4h0M310.6,446.0h0M310.8,448.1h0M311.0,446.5h0M311.2,447.7h0M311.4,445.4h0M311.5,447.3h0M311.7,448.4h0M311.9,447.1h0M312.1,443.1h0M312.3,447.4h0M312.4,446.4h0M312.6,445.0h0M312.8,448.6h0M313.0,443.6h0M313.2,449.3h0M313.3,445.3h0M313.5,448.9h0M313.7,446.3h0" stroke="#3b568b" stroke-width="4.7" stroke-linecap="round" stroke-linejoin="round" fill="none"/>
<path d="M72.3,368.3h0M72.4,370.2h0M72.5,373.5h0M72.7,376.2h0M72.8,375.0h0M72.9,377.3h0M73.0,377.6h0M73.2,381.6h0M73.3,382.7h0M73.4,386.3h0M73.5,385.2h0M73.7,386.1h0M73.8,387.1h0M73.9,389.9h0M74.0,388.5h0M74.1,392.0h0M74.3,392.5h0M74.4,392.8h0M74.5,393.6h0M74.6,396.4h0M74.8,398.3h0M74.9,396.8h0M75.0,398.7h0M75.1,400.7h0M75.2,399.0h0M75.4,400.1h0M75.5,399.8h0M75.6,401.5h0M75.7,402.3h0M75.9,402.5h0M76.0,402.8h0M76.1,402.5h0M76.2,403.3h0M76.4,404.3h0M76.5,406.5h0M76.6,405.8h0M76.7,405.9h0M76.8,408.3h0M77.0,408.7h0M77.1,407.8h0M77.2,408.4h0M77.3,410.1h0M77.5,410.1h0M77.6,409.2h0M77.7,410.7h0M77.8,410.9h0M77.9,412.4h0M78.1,410.7h0M78.2,412.8h0M78.3,412.6h0M78.4,411.4h0M78.6,413.8h0M78.7,413.8h0M78.8,411.7h0M78.9,415.4h0M79.1,412.4h0M79.2,412.9h0M79.3,413.7h0M79.4,415.1h0M79.5,415.2h0M79.8,414.9h0M80.1,416.7h0M80.3,416.0h0M80.6,417.5h0M80.8,419.3h0M81.1,417.0h0M81.4,414.5h0M81.6,417.0h0M81.9,416.9h0M82.1,418.2h0M82.4,418.5h0M82.7,417.3h0M82.9,417.6h0M83.2,418.8h0M83.4,419.0h0M83.7,416.6h0M84.0,420.7h0M84.2,419.8h0M84.5,419.6h0M84.8,420.0h0M85.0,418.7h0M85.3,419.9h0M85.5,421.3h0M85.8,421.4h0M86.1,420.6h0M86.3,419.9h0M86.6,419.4h0M86.8,421.8h0M87.1,420.8h0M87.4,420.0h0M87.6,418.2h0M87.9,419.8h0M88.1,418.8h0M88.4,422.4h0M88.7,421.4h0M88.9,420.5h0M89.2,421.1h0M89.4,424.3h0M89.7,423.0h0M90.0,420.4h0M90.2,421.8h0M90.5,420.7h0M90.7,420.4h0M91.0,422.6h0M91.3,424.9h0M91.5,423.9h0M91.8,422.3h0M92.0,421.9h0M92.3,422.5h0M92.6,423.5h0M92.8,420.9h0M93.1,420.5h0M93.3,424.7h0M93.6,423.1h0M93.9,424.7h0M94.1,423.3h0M94.4,424.9h0M94.6,422.7h0M94.9,424.0h0M95.2,425.2h0M95.4,424.8h0M95.7,423.4h0M96.0,424.9h0M96.2,423.2h0M96.5,422.4h0M96.7,424.8h0M97.0,425.8h0M97.3,425.4h0M97.5,423.1h0M97.8,425.7h0M98.0,425.6h0M98.3,424.5h0M98.6,422.1h0M98.8,426.0h0M99.1,426.0h0M99.3,425.7h0M99.6,423.2h0M99.9,423.5h0M100.1,426.4h0M100.4,426.1h0M100.6,425.7h0M100.9,424.9h0M101.2,425.6h0M101.4,424.6h0M101.7,424.9h0M101.9,424.3h0M102.2,425.6h0M102.5,425.1h0M102.7,426.6h0M103.0,426.4h0M103.2,424.7h0M103.5,427.6h0M103.8,424.6h0M104.0,426.3h0M104.3,427.0h0M104.5,427.2h0M104.8,423.3h0M105.1,426.7h0M105.3,426.9h0M105.6,427.2h0M105.8,423.4h0M106.1,425.2h0M106.4,425.8h0M106.6,425.5h0M106.9,427.6h0M107.2,425.6h0M107.4,427.7h0M107.7,427.0h0M107.9,424.8h0M108.2,425.4h0M108.5,426.0h0M108.7,426.6h0M109.0,427.5h0M109.2,426.4h0M109.5,427.6h0M109.8,424.9h0M110.0,423.3h0M110.3,426.4h0M110.5,427.3h0M110.8,426.5h0M111.1,426.0h0M111.3,427.7h0M111.6,429.5h0M111.8,427.4h0M112.1,426.8h0M112.4,426.7h0M112.6,430.0h0M112.9,428.0h0M113.1,428.7h0M113.4,429.5h0M113.7,429.5h0M113.9,427.2h0M114.2,429.3h0M114.4,429.2h0M114.7,428.8h0M115.0,429.3h0M115.2,427.7h0M115.5,428.4h0M115.7,428.2h0M116.0,429.6h0M116.3,428.2h0M116.5,429.2h0M116.8,427.6h0M117.0,428.7h0M117.3,428.5h0M117.6,428.8h0M117.8,429.0h0M118.1,428.7h0M118.4,428.6h0M118.6,426.6h0M118.9,430.1h0M119.1,428.2h0M119.4,428.7h0M119.7,428.2h0M119.9,430.2h0M120.2,428.1h0M120.4,429.9h0M120.7,430.5h0M121.0,431.1h0M121.2,430.7h0M121.5,430.1h0M121.7,428.1h0M122.0,430.8h0M122.3,430.5h0M122.5,430.1h0M122.8,430.1h0M123.0,429.2h0M123.3,428.7h0M123.6,430.4h0M123.8,430.4h0M124.1,427.8h0M124.3,429.9h0M124.6,429.3h0M124.9,430.1h0M125.1,429.5h0M125.4,430.6h0M125.6,430.7h0M125.9,430.7h0M126.2,428.2h0M126.4,430.6h0M126.7,429.7h0M126.9,428.4h0M127.2,430.5h0M127.5,428.3h0M127.7,430.9h0M128.0,431.9h0M128.2,429.5h0M128.5,431.1h0M128.8,430.6h0M129.0,431.0h0M129.3,428.9h0M129.6,431.2h0M129.8,430.5h0M130.1,431.3h0M130.3,430.5h0M130.6,431.7h0M130.9,430.9h0M131.1,431.3h0M131.4,432.1h0M131.6,430.7h0M131.9,431.6h0M132.2,430.8h0M132.4,431.3h0M132.7,430.2h0M132.9,431.7h0M133.2,432.4h0M133.5,430.9h0M133.7,432.1h0M134.0,431.7h0M134.2,430.0h0M134.5,431.8h0M134.8,433.0h0M135.0,431.0h0M135.3,429.6h0M135.5,431.8h0M135.8,430.8h0M136.1,433.6h0M136.3,431.5h0M136.6,431.4h0M136.8,430.8h0M137.1,431.7h0M137.4,431.0h0M137.6,430.7h0M137.9,431.7h0M138.1,430.8h0M138.4,433.0h0M138.7,430.3h0M138.9,431.6h0M139.2,430.9h0M139.4,430.2h0M139.7,433.6h0M140.0,429.5h0M140.2,433.2h0M140.5,430.2h0M140.8,431.6h0M141.0,434.1h0M141.3,429.5h0M141.5,430.3h0M141.8,433.2h0M142.1,432.2h0M142.3,431.5h0M142.6,432.1h0M142.8,430.9h0M143.1,432.0h0M143.4,433.5h0M143.6,431.6h0M143.9,432.2h0M144.1,433.3h0M144.4,434.1h0M144.7,431.4h0M144.9,432.3h0M145.2,431.3h0M145.4,431.2h0M145.7,431.4h0M146.0,431.2h0M146.2,430.0h0M146.5,429.8h0M146.7,431.2h0M147.0,432.1h0M147.3,433.3h0M147.5,431.5h0M147.8,431.8h0M148.0,432.6h0M148.3,432.8h0M148.6,431.9h0M148.8,431.9h0M149.1,434.0h0M149.3,431.6h0M149.6,431.5h0M149.9,430.3h0M150.1,432.6h0M150.4,431.8h0M150.6,434.2h0M150.9,431.9h0M151.2,433.2h0M151.4,433.5h0M151.7,434.3h0M152.0,431.1h0M152.2,434.1h0M152.5,432.4h0M152.7,432.3h0M153.0,432.0h0M153.3,431.9h0M153.5,432.1h0M153.8,430.0h0M154.0,433.1h0M154.3,432.5h0M154.6,431.3h0M154.8,432.3h0M155.1,435.0h0M155.3,432.9h0M155.6,432.1h0M155.9,434.5h0M156.1,431.9h0M156.4,432.6h0M156.6,432.2h0M156.9,432.6h0M157.2,433.6h0M157.4,433.5h0M157.7,432.1h0M157.9,432.7h0M158.2,432.9h0M158.5,432.5h0M158.7,432.8h0M159.0,432.2h0M159.2,432.2h0M159.5,433.1h0M159.8,432.0h0M160.0,433.6h0M160.3,433.0h0M160.5,432.2h0M160.8,432.5h0M161.1,432.7h0M161.3,433.0h0M161.6,433.3h0M161.8,433.0h0M162.1,432.4h0M162.4,434.8h0M162.6,434.2h0M162.9,433.4h0M163.2,434.3h0M163.4,433.7h0M163.7,433.2h0M163.9,433.6h0M164.2,436.3h0M164.5,434.5h0M164.7,434.6h0M165.0,433.2h0M165.2,434.1h0M165.5,436.0h0M165.8,433.9h0M166.0,434.5h0M166.3,434.8h0M166.5,434.2h0M166.8,435.1h0M167.1,433.8h0M167.3,434.1h0M167.6,432.8h0M167.8,436.3h0M168.1,433.8h0M168.4,433.7h0M168.6,435.2h0M168.9,433.2h0M169.1,433.8h0M169.4,433.1h0M169.7,433.8h0M169.9,433.4h0M170.2,434.4h0M170.4,433.5h0M170.7,433.1h0M171.0,433.3h0M171.2,433.5h0M171.5,433.0h0M171.7,434.6h0M172.0,434.3h0M172.3,433.7h0M172.5,432.2h0M172.8,433.9h0M173.0,432.1h0M173.3,433.6h0M173.6,433.5h0M173.8,432.8h0M174.1,432.5h0M174.4,432.6h0M174.6,435.6h0M174.9,433.1h0M175.1,433.3h0M175.4,434.7h0M175.7,434.2h0M175.9,435.0h0M176.2,432.6h0M176.4,432.7h0M176.7,437.6h0M177.0,434.0h0M177.2,433.6h0M177.5,434.2h0M177.7,435.1h0M178.0,432.8h0M178.3,434.4h0M178.5,434.1h0M178.8,434.9h0M179.0,434.3h0M179.3,433.4h0M179.6,433.1h0M179.8,431.4h0M180.1,435.0h0M180.3,432.4h0M180.6,433.4h0M180.9,435.8h0M181.1,433.7h0M181.4,434.7h0M181.6,434.0h0M181.9,434.9h0M182.2,434.3h0M182.4,433.8h0M182.7,435.8h0M182.9,434.2h0M183.2,433.1h0M183.5,434.2h0M183.7,435.1h0M184.0,433.4h0M184.2,435.4h0M184.5,435.3h0M184.8,436.8h0M185.0,433.9h0M185.3,435.4h0M185.6,432.8h0M185.8,434.1h0M186.1,434.6h0M186.3,434.9h0M186.6,434.4h0M186.9,434.2h0M187.1,433.7h0M187.4,433.9h0M187.6,434.8h0M187.9,435.1h0M188.2,435.1h0M188.4,435.4h0M188.7,435.6h0M188.9,432.5h0M189.2,433.9h0M189.5,434.5h0M189.7,434.0h0M190.0,436.0h0M190.2,435.5h0M190.5,434.7h0M190.8,435.1h0M191.0,436.4h0M191.3,434.8h0M191.5,434.8h0M191.8,436.2h0M192.1,435.7h0M192.3,436.8h0M192.6,435.7h0M192.8,436.1h0M193.1,434.6h0M193.4,434.2h0M193.6,435.1h0M193.9,432.5h0M194.1,435.7h0M194.4,436.3h0M194.7,435.4h0M194.9,435.2h0M195.2,436.6h0M195.4,435.4h0M195.7,436.4h0M196.0,437.7h0M196.2,436.4h0M196.5,436.5h0M196.8,436.0h0M197.0,435.8h0M197.3,435.8h0M197.5,435.6h0M197.8,436.7h0M198.1,433.7h0M198.3,435.1h0M198.6,436.1h0M198.8,434.6h0M199.1,435.5h0M199.4,434.9h0M199.6,436.0h0M199.9,436.5h0M200.1,437.1h0M200.4,436.0h0M200.7,434.8h0M200.9,435.9h0M201.2,436.2h0M201.4,437.1h0M201.7,433.2h0M202.0,435.7h0M202.2,433.4h0M202.5,436.0h0M202.7,435.7h0M203.0,435.8h0M203.3,436.2h0M203.5,435.6h0M203.8,434.6h0M204.0,435.7h0M204.3,436.7h0M204.6,435.1h0M204.8,435.3h0M205.1,434.0h0M205.3,436.4h0M205.6,434.6h0M205.9,434.2h0M206.1,434.5h0M206.4,434.3h0M206.6,434.9h0M206.9,436.5h0M207.2,436.1h0M207.4,436.7h0M207.7,436.8h0M208.0,434.3h0M208.2,435.7h0M208.5,436.9h0M208.7,437.7h0M209.0,433.8h0M209.3,433.8h0M209.5,435.9h0M209.8,435.0h0M210.0,434.3h0M210.3,435.8h0M210.6,434.5h0M210.8,432.9h0M211.1,435.3h0M211.3,435.4h0M211.6,435.9h0M211.9,436.4h0M212.1,435.6h0M212.4,435.3h0M212.6,435.0h0M212.9,434.1h0M213.2,435.5h0M213.4,437.0h0M213.7,436.6h0M213.9,438.0h0M214.2,435.8h0M214.5,434.1h0M214.7,436.8h0M215.0,437.0h0M215.2,434.7h0M215.5,434.3h0M215.8,436.1h0M216.0,436.8h0M216.3,434.9h0M216.5,435.9h0M216.8,435.3h0M217.1,434.9h0M217.3,434.6h0M217.6,436.1h0M217.8,435.5h0M218.1,435.2h0M218.4,433.0h0M218.6,437.6h0M218.9,434.7h0M219.2,435.6h0M219.4,434.6h0M219.7,436.2h0M219.9,434.2h0M220.2,435.8h0M220.5,435.5h0M220.7,436.7h0M221.0,434.6h0M221.2,435.0h0M221.5,435.6h0M221.8,438.0h0M222.0,434.3h0M222.3,436.1h0M222.5,435.0h0M222.8,436.0h0M223.1,436.3h0M223.3,435.7h0M223.6,435.6h0M223.8,435.6h0M224.1,434.7h0M224.4,435.1h0M224.6,433.6h0M224.9,434.9h0M225.1,434.4h0M225.4,435.0h0M225.7,436.0h0M225.9,435.7h0M226.2,435.8h0M226.4,436.6h0M226.7,432.8h0M227.0,435.8h0M227.2,435.3h0M227.5,435.3h0M227.7,434.0h0M228.0,436.0h0M228.3,436.7h0M228.5,436.5h0M228.8,435.3h0M229.0,436.1h0M229.3,436.5h0M229.6,437.4h0M229.8,436.8h0M230.1,435.6h0M230.4,435.5h0M230.6,435.6h0M230.9,435.6h0M231.1,434.7h0M231.4,436.0h0M231.7,434.4h0M231.9,434.4h0M232.2,435.6h0M232.4,434.7h0M232.7,435.0h0M233.0,433.0h0M233.2,436.0h0M233.5,435.2h0M233.7,435.2h0M234.0,435.8h0M234.3,435.4h0M234.5,434.5h0M234.8,437.3h0M235.0,434.7h0M235.3,436.2h0M235.6,437.2h0M235.8,434.6h0M236.1,435.4h0M236.3,434.4h0M236.6,436.3h0M236.9,435.0h0M237.1,434.2h0M237.4,436.7h0M237.6,436.4h0M237.9,434.5h0M238.2,436.8h0M238.4,435.6h0M238.7,438.3h0M238.9,437.1h0M239.2,434.8h0M239.5,435.2h0M239.7,434.5h0M240.0,435.7h0M240.2,435.7h0M240.5,436.3h0M240.8,435.8h0M241.0,434.2h0M241.3,434.8h0M241.6,437.2h0M241.8,437.3h0M242.1,435.9h0M242.3,436.0h0M242.6,435.9h0M242.9,436.0h0M243.1,434.3h0M243.4,437.1h0M243.6,435.6h0M243.9,436.4h0M244.2,433.5h0M244.4,436.5h0M244.7,437.5h0M244.9,433.8h0M245.2,437.7h0M245.5,436.7h0M245.7,435.4h0M246.0,434.6h0M246.2,437.4h0M246.5,436.5h0M246.8,436.8h0M247.0,436.0h0M247.3,435.5h0M247.5,437.1h0M247.8,435.1h0M248.1,437.1h0M248.3,434.4h0M248.6,435.1h0M248.8,434.6h0M249.1,437.6h0M249.4,434.4h0M249.6,435.2h0M249.9,436.9h0M250.1,436.5h0M250.4,438.6h0M250.7,438.1h0M250.9,436.7h0M251.2,436.9h0M251.4,434.2h0M251.7,435.2h0M252.0,436.0h0M252.2,436.0h0M252.5,434.6h0M252.8,435.0h0M253.0,434.9h0M253.3,436.9h0M253.5,436.2h0M253.8,435.4h0M254.1,435.3h0M254.3,435.8h0M254.6,434.8h0M254.8,435.1h0M255.1,433.5h0M255.4,436.1h0M255.6,436.6h0M255.9,436.0h0M256.1,436.2h0M256.4,436.0h0M256.7,437.8h0M256.9,435.8h0M257.2,434.3h0M257.4,434.5h0M257.7,436.3h0M258.0,436.7h0M258.2,436.4h0M258.5,436.5h0M258.7,435.9h0M259.0,434.1h0M259.3,434.8h0M259.5,433.6h0M259.8,434.9h0M260.0,433.9h0M260.3,435.5h0M260.6,435.2h0M260.8,433.2h0M261.1,436.0h0M261.3,436.1h0M261.6,434.0h0M261.9,435.6h0M262.1,436.2h0M262.4,435.3h0M262.6,436.4h0M262.9,435.7h0M263.2,436.7h0M263.4,435.8h0M263.7,435.6h0M264.0,436.4h0M264.2,436.7h0M264.5,436.0h0M264.7,435.3h0M265.0,434.9h0M265.3,435.3h0M265.5,435.3h0M265.8,436.0h0M266.0,435.8h0M266.3,435.5h0M266.6,435.6h0M266.8,435.7h0M267.1,437.2h0M267.3,436.8h0M267.6,435.0h0M267.9,436.0h0M268.1,435.3h0M268.4,435.6h0M268.6,435.5h0M268.9,435.2h0M269.2,434.4h0M269.4,433.1h0M269.7,435.9h0M269.9,437.0h0M270.2,434.8h0M270.5,436.4h0M270.7,435.5h0M271.0,436.2h0M271.2,435.1h0M271.5,435.8h0M271.8,436.0h0M272.0,433.6h0M272.3,436.2h0M272.5,435.9h0M272.8,433.4h0M273.1,436.6h0M273.3,436.0h0M273.6,436.3h0M273.8,436.6h0M274.1,435.7h0M274.4,435.0h0M274.6,435.5h0M274.9,435.5h0M275.2,438.3h0M275.4,438.0h0M275.7,435.7h0M275.9,435.7h0M276.2,436.4h0M276.5,436.9h0M276.7,435.7h0M277.0,435.4h0M277.2,438.5h0M277.5,437.5h0M277.8,434.8h0M278.0,434.6h0M278.3,435.6h0M278.5,436.7h0M278.8,437.0h0M279.1,436.1h0M279.3,434.7h0M279.6,436.6h0M279.8,436.9h0M280.1,436.3h0M280.4,435.8h0M280.6,436.9h0M280.9,436.2h0M281.1,435.0h0M281.4,436.3h0M281.7,434.8h0M281.9,437.2h0M282.2,436.6h0M282.4,435.0h0M282.7,436.4h0M283.0,437.5h0M283.2,433.8h0M283.5,435.9h0M283.7,437.8h0M284.0,434.4h0M284.3,435.8h0M284.5,434.4h0M284.8,435.9h0M285.0,433.4h0M285.3,434.3h0M285.6,435.6h0M285.8,436.4h0M286.1,436.7h0M286.4,436.6h0M286.6,437.5h0M286.9,437.0h0M287.1,437.0h0M287.4,435.1h0M287.7,435.9h0M287.9,439.5h0M288.2,438.7h0M288.4,437.2h0M288.7,437.1h0M289.0,437.3h0M289.2,435.9h0M289.5,438.4h0M289.7,435.8h0M290.0,436.2h0M290.3,438.7h0M290.5,434.1h0M290.8,436.8h0M291.0,434.6h0M291.3,435.7h0M291.6,436.4h0M291.8,436.2h0M292.1,436.8h0M292.3,435.8h0M292.6,436.6h0M292.9,435.4h0M293.1,436.4h0M293.4,435.1h0M293.6,437.4h0M293.9,435.2h0M294.2,437.4h0M294.4,436.4h0M294.7,436.4h0M294.9,438.0h0M295.2,436.7h0M295.5,434.5h0M295.7,437.1h0M296.0,433.4h0M296.2,436.8h0M296.5,435.9h0M296.8,434.7h0M297.0,436.3h0M297.3,435.9h0M297.6,438.5h0M297.8,435.7h0M298.1,438.2h0M298.3,437.6h0M298.6,435.6h0M298.9,435.3h0M299.1,437.5h0M299.4,436.0h0M299.6,436.3h0M299.9,435.8h0M300.2,434.8h0M300.4,435.8h0M300.7,435.0h0M300.9,434.4h0M301.2,435.6h0M301.5,437.8h0M301.7,437.7h0M302.0,435.9h0M302.2,436.2h0M302.5,436.7h0M302.8,437.5h0M303.0,436.3h0M303.3,435.4h0M303.5,435.5h0M303.8,437.0h0M304.1,438.7h0M304.3,435.1h0M304.6,433.6h0M304.8,436.6h0M305.1,435.5h0M305.4,435.9h0M305.6,437.2h0M305.9,436.0h0M306.1,434.5h0M306.4,433.9h0M306.7,436.0h0M306.9,434.8h0M307.2,436.6h0M307.4,434.9h0M307.7,436.0h0M308.0,434.8h0M308.2,436.0h0M308.5,436.0h0M308.8,437.2h0M309.0,438.1h0M309.3,436.3h0M309.5,435.5h0M309.8,438.5h0M310.1,436.7h0M310.3,437.0h0M310.6,437.0h0M310.8,437.8h0M311.1,437.3h0M311.4,437.1h0M311.6,437.3h0M311.9,435.6h0M312.1,435.9h0M312.4,436.5h0M312.7,436.8h0M312.9,436.6h0M313.2,436.8h0M313.4,436.4h0M313.7,436.1h0" stroke="#2e6f8e" stroke-width="4.7" stroke-linecap="round" stroke-linejoin="round" fill="none"/>
<path d="M72.3,364.0L72.4,366.1L72.5,367.2L72.7,370.1L72.8,370.7L72.9,372.8L73.0,374.1L73.2,376.0L73.3,376.7L73.4,377.6L73.5,378.4L73.7,380.4L73.8,381.1L73.9,383.1L74.0,384.6L74.1,383.7L74.3,385.2L74.4,386.9L74.5,388.2L74.6,388.6L74.8,389.4L74.9,390.3L75.0,391.1L75.1,392.3L75.2,392.5L75.4,392.2L75.5,393.2L75.6,394.1L75.7,394.2L75.9,395.0L76.0,395.4L76.1,395.8L76.2,397.0L76.4,396.9L76.5,397.0L76.6,397.6L76.7,398.4L76.8,399.8L77.0,399.3L77.1,400.3L77.2,400.1L77.3,399.1L77.5,400.7L77.6,400.4L77.7,400.5L77.8,400.9L77.9,402.6L78.1,401.2L78.2,401.9L78.3,403.0L78.4,403.0L78.6,402.1L78.7,403.1L78.8,403.1L78.9,403.5L79.1,404.1L79.2,403.7L79.3,404.0L79.4,405.1L79.5,403.6L80.1,405.0L80.7,406.1L81.2,405.7L81.8,406.5L82.3,406.6L82.9,407.7L83.5,407.6L84.0,408.7L84.6,409.1L85.1,408.8L85.7,408.9L86.2,409.4L86.8,409.5L87.4,409.1L87.9,410.5L88.5,410.2L89.0,410.7L89.6,409.8L90.2,411.1L90.7,411.9L91.3,411.3L91.8,410.4L92.4,411.4L93.0,411.5L93.5,411.8L94.1,411.7L94.6,412.2L95.2,411.9L95.7,412.3L96.3,412.0L96.9,412.6L97.4,413.1L98.0,412.5L98.5,413.2L99.1,412.6L99.7,413.0L100.2,413.2L100.8,414.0L101.3,413.2L101.9,414.3L102.5,413.0L103.0,413.8L103.6,414.5L104.1,414.5L104.7,413.7L105.2,413.7L105.8,414.9L106.4,413.9L106.9,414.9L107.5,414.5L108.0,414.9L108.6,416.1L109.2,415.8L109.7,415.6L110.3,414.6L110.8,415.5L111.4,415.5L112.0,415.5L112.5,416.3L113.1,414.8L113.6,415.9L114.2,415.9L114.7,415.6L115.3,416.9L115.9,415.5L116.4,416.2L117.0,416.3L117.5,415.2L118.1,415.7L118.7,416.0L119.2,417.0L119.8,417.1L120.3,417.0L120.9,416.9L121.5,415.8L122.0,417.0L122.6,416.7L123.1,417.7L123.7,417.8L124.2,418.3L124.8,417.6L125.4,417.7L125.9,416.9L126.5,417.5L127.0,416.9L127.6,418.0L128.2,417.0L128.7,417.6L129.3,417.3L129.8,417.6L130.4,418.1L131.0,417.6L131.5,418.1L132.1,417.5L132.6,418.8L133.2,417.8L133.8,418.7L134.3,419.3L134.9,417.0L135.4,417.8L136.0,418.2L136.5,419.0L137.1,418.2L137.7,418.7L138.2,418.1L138.8,418.8L139.3,418.0L139.9,419.1L140.5,417.2L141.0,417.8L141.6,419.7L142.1,418.9L142.7,418.4L143.3,420.0L143.8,419.5L144.4,419.5L144.9,418.8L145.5,419.3L146.0,419.3L146.6,418.3L147.2,419.4L147.7,419.1L148.3,419.9L148.8,419.9L149.4,418.9L150.0,419.0L150.5,419.4L151.1,419.7L151.6,419.2L152.2,419.4L152.8,419.8L153.3,419.7L153.9,420.1L154.4,419.7L155.0,419.1L155.5,418.7L156.1,420.0L156.7,419.5L157.2,419.5L157.8,419.5L158.3,418.9L158.9,419.5L159.5,418.4L160.0,419.6L160.6,419.4L161.1,420.8L161.7,420.1L162.3,419.8L162.8,420.0L163.4,420.3L163.9,419.6L164.5,419.9L165.0,419.8L165.6,421.3L166.2,420.1L166.7,419.0L167.3,420.5L167.8,421.4L168.4,419.6L169.0,421.9L169.5,420.1L170.1,420.7L170.6,419.9L171.2,420.1L171.8,419.6L172.3,419.7L172.9,419.1L173.4,420.9L174.0,419.7L174.5,420.5L175.1,420.5L175.7,420.0L176.2,420.4L176.8,420.3L177.3,420.1L177.9,420.4L178.5,420.4L179.0,419.9L179.6,419.8L180.1,420.0L180.7,420.5L181.3,421.2L181.8,421.2L182.4,420.7L182.9,421.0L183.5,420.6L184.0,421.1L184.6,420.6L185.2,420.8L185.7,420.4L186.3,420.6L186.8,421.6L187.4,420.0L188.0,420.6L188.5,420.3L189.1,421.1L189.6,421.6L190.2,420.5L190.8,419.2L191.3,421.0L191.9,421.0L192.4,419.8L193.0,420.6L193.5,420.7L194.1,419.5L194.7,421.1L195.2,421.0L195.8,420.9L196.3,420.2L196.9,420.4L197.5,420.5L198.0,421.0L198.6,420.3L199.1,421.6L199.7,421.0L200.3,419.7L200.8,421.7L201.4,420.9L201.9,420.6L202.5,420.9L203.0,419.9L203.6,421.0L204.2,419.6L204.7,420.3L205.3,421.6L205.8,421.5L206.4,420.7L207.0,420.4L207.5,421.4L208.1,420.9L208.6,421.0L209.2,421.3L209.8,420.4L210.3,421.4L210.9,419.8L211.4,421.7L212.0,420.1L212.5,420.6L213.1,420.6L213.7,421.4L214.2,421.4L214.8,421.2L215.3,421.3L215.9,421.2L216.5,421.0L217.0,420.0L217.6,419.8L218.1,419.8L218.7,421.0L219.3,420.9L219.8,421.0L220.4,421.1L220.9,420.9L221.5,420.5L222.0,420.3L222.6,420.1L223.2,421.7L223.7,421.5L224.3,420.4L224.8,420.9L225.4,421.3L226.0,421.9L226.5,420.8L227.1,421.2L227.6,421.7L228.2,420.2L228.8,420.7L229.3,421.1L229.9,420.7L230.4,422.2L231.0,421.6L231.5,421.2L232.1,420.6L232.7,421.6L233.2,421.4L233.8,420.8L234.3,420.9L234.9,420.4L235.5,421.1L236.0,421.6L236.6,421.7L237.1,421.4L237.7,421.6L238.3,420.8L238.8,420.9L239.4,421.8L239.9,421.4L240.5,420.7L241.0,421.4L241.6,421.6L242.2,421.5L242.7,421.2L243.3,420.9L243.8,421.4L244.4,422.0L245.0,421.2L245.5,420.8L246.1,421.3L246.6,420.5L247.2,421.3L247.8,421.0L248.3,421.7L248.9,421.2L249.4,421.7L250.0,422.4L250.5,421.1L251.1,420.8L251.7,421.4L252.2,421.1L252.8,421.3L253.3,420.9L253.9,421.5L254.5,421.2L255.0,420.1L255.6,421.1L256.1,421.4L256.7,421.8L257.3,420.9L257.8,420.8L258.4,421.8L258.9,420.9L259.5,421.3L260.1,421.5L260.6,421.6L261.2,421.2L261.7,420.6L262.3,421.7L262.8,421.0L263.4,421.0L264.0,422.3L264.5,421.7L265.1,420.7L265.6,421.0L266.2,421.1L266.8,420.8L267.3,420.2L267.9,421.6L268.4,421.6L269.0,421.4L269.6,421.0L270.1,421.3L270.7,421.6L271.2,420.7L271.8,421.1L272.3,421.0L272.9,421.6L273.5,421.4L274.0,420.6L274.6,420.9L275.1,422.2L275.7,420.7L276.3,421.3L276.8,420.9L277.4,421.9L277.9,421.2L278.5,421.0L279.1,420.6L279.6,421.1L280.2,421.7L280.7,421.6L281.3,420.6L281.8,422.1L282.4,421.1L283.0,420.7L283.5,421.3L284.1,420.9L284.6,421.0L285.2,420.9L285.8,421.2L286.3,421.0L286.9,420.4L287.4,421.5L288.0,421.0L288.6,421.9L289.1,421.5L289.7,421.6L290.2,421.4L290.8,421.9L291.3,421.1L291.9,420.8L292.5,421.4L293.0,419.9L293.6,421.1L294.1,421.4L294.7,421.1L295.3,421.9L295.8,421.6L296.4,421.3L296.9,421.1L297.5,421.8L298.1,420.9L298.6,421.1L299.2,421.7L299.7,421.6L300.3,422.3L300.8,421.2L301.4,420.3L302.0,421.6L302.5,421.9L303.1,421.2L303.6,422.1L304.2,422.2L304.8,420.9L305.3,421.0L305.9,420.6L306.4,421.6L307.0,421.6L307.6,421.6L308.1,420.6L308.7,420.9L309.2,420.5L309.8,420.4L310.3,420.6L310.9,420.5L311.5,421.2L312.0,421.5L312.6,421.6L313.1,421.3L313.7,420.9" stroke="#25858e" stroke-width="4.7" stroke-linecap="round" stroke-linejoin="round" fill="none"/>
<path d="M72.3,357.8L72.4,359.5L72.5,361.5L72.7,363.3L72.8,364.8L72.9,366.5L73.0,367.2L73.2,368.7L73.3,370.7L73.4,371.5L73.5,373.2L73.7,374.1L73.8,374.6L73.9,376.2L74.0,376.7L74.1,378.0L74.3,379.2L74.4,380.3L74.5,380.4L74.6,381.4L74.8,382.0L74.9,382.8L75.0,382.5L75.1,383.8L75.2,384.6L75.4,385.2L75.5,385.4L75.6,386.4L75.7,386.9L75.9,387.1L76.0,387.4L76.1,387.8L76.2,388.4L76.4,389.1L76.5,389.6L76.6,389.3L76.7,389.5L76.8,389.9L77.0,390.7L77.1,390.8L77.2,391.1L77.3,391.4L77.5,391.7L77.6,391.7L77.7,391.7L77.8,392.1L77.9,392.5L78.1,392.8L78.2,392.8L78.3,392.9L78.4,393.7L78.6,393.3L78.7,393.7L78.8,393.7L78.9,393.6L79.1,393.6L79.2,394.0L79.3,394.1L79.4,394.7L79.5,394.2L80.1,395.0L80.7,395.8L81.2,395.9L81.8,396.4L82.3,396.8L82.9,396.3L83.5,396.9L84.0,396.9L84.6,397.8L85.1,397.6L85.7,397.9L86.2,398.4L86.8,398.0L87.4,398.2L87.9,398.5L88.5,398.4L89.0,399.0L89.6,399.0L90.2,399.1L90.7,398.9L91.3,398.9L91.8,399.0L92.4,399.1L93.0,398.9L93.5,399.6L94.1,399.8L94.6,399.7L95.2,399.6L95.7,399.9L96.3,400.0L96.9,400.1L97.4,400.7L98.0,399.9L98.5,400.4L99.1,400.6L99.7,400.5L100.2,400.5L100.8,400.3L101.3,400.5L101.9,401.0L102.5,401.3L103.0,400.7L103.6,401.1L104.1,401.2L104.7,401.5L105.2,401.3L105.8,401.4L106.4,401.6L106.9,401.1L107.5,401.5L108.0,401.0L108.6,401.0L109.2,401.4L109.7,401.3L110.3,401.9L110.8,402.2L111.4,401.8L112.0,401.9L112.5,402.0L113.1,402.0L113.6,402.2L114.2,402.3L114.7,402.1L115.3,402.0L115.9,402.2L116.4,402.6L117.0,402.3L117.5,402.9L118.1,402.5L118.7,403.0L119.2,402.3L119.8,402.5L120.3,402.9L120.9,402.9L121.5,402.8L122.0,403.5L122.6,402.9L123.1,403.0L123.7,402.8L124.2,403.5L124.8,403.3L125.4,403.2L125.9,402.6L126.5,403.3L127.0,403.0L127.6,403.3L128.2,403.5L128.7,403.1L129.3,403.4L129.8,403.6L130.4,403.4L131.0,403.3L131.5,403.1L132.1,403.3L132.6,403.1L133.2,403.8L133.8,403.6L134.3,403.2L134.9,403.6L135.4,403.3L136.0,402.7L136.5,404.1L137.1,404.1L137.7,403.3L138.2,403.6L138.8,403.9L139.3,403.7L139.9,403.6L140.5,403.7L141.0,403.8L141.6,403.8L142.1,404.0L142.7,403.9L143.3,403.8L143.8,404.0L144.4,403.6L144.9,404.5L145.5,403.6L146.0,404.1L146.6,404.2L147.2,404.3L147.7,404.3L148.3,404.6L148.8,403.9L149.4,404.2L150.0,404.3L150.5,404.1L151.1,404.1L151.6,404.7L152.2,404.1L152.8,404.2L153.3,404.3L153.9,404.3L154.4,404.4L155.0,404.3L155.5,404.5L156.1,404.5L156.7,404.6L157.2,404.9L157.8,404.2L158.3,405.0L158.9,404.4L159.5,404.7L160.0,404.6L160.6,404.4L161.1,404.0L161.7,405.0L162.3,404.3L162.8,404.4L163.4,404.9L163.9,404.6L164.5,405.2L165.0,405.1L165.6,404.9L166.2,404.7L166.7,404.9L167.3,404.3L167.8,404.7L168.4,404.7L169.0,404.6L169.5,404.8L170.1,404.3L170.6,405.0L171.2,405.1L171.8,404.4L172.3,404.8L172.9,405.2L173.4,404.9L174.0,404.5L174.5,404.5L175.1,405.1L175.7,405.4L176.2,404.5L176.8,404.8L177.3,404.6L177.9,404.8L178.5,405.0L179.0,404.9L179.6,404.7L180.1,405.5L180.7,404.8L181.3,404.8L181.8,405.2L182.4,404.9L182.9,404.9L183.5,405.2L184.0,404.6L184.6,405.2L185.2,405.2L185.7,405.1L186.3,404.9L186.8,405.0L187.4,404.5L188.0,404.9L188.5,405.1L189.1,405.2L189.6,405.0L190.2,404.9L190.8,404.7L191.3,405.0L191.9,405.0L192.4,405.4L193.0,405.0L193.5,404.9L194.1,405.0L194.7,404.9L195.2,405.0L195.8,404.4L196.3,404.6L196.9,404.7L197.5,405.2L198.0,405.0L198.6,405.1L199.1,405.4L199.7,404.8L200.3,405.4L200.8,405.2L201.4,404.9L201.9,405.5L202.5,404.7L203.0,404.8L203.6,405.0L204.2,405.2L204.7,405.0L205.3,404.5L205.8,405.0L206.4,405.1L207.0,405.9L207.5,405.5L208.1,405.2L208.6,404.8L209.2,405.2L209.8,404.8L210.3,405.2L210.9,405.2L211.4,405.0L212.0,405.2L212.5,405.0L213.1,405.0L213.7,405.6L214.2,405.3L214.8,405.1L215.3,404.9L215.9,405.2L216.5,405.3L217.0,405.4L217.6,405.6L218.1,405.3L218.7,404.8L219.3,405.8L219.8,405.5L220.4,405.4L220.9,405.6L221.5,404.7L222.0,405.1L222.6,405.0L223.2,405.5L223.7,404.8L224.3,405.1L224.8,405.6L225.4,405.4L226.0,405.1L226.5,405.8L227.1,404.8L227.6,405.3L228.2,405.1L228.8,405.4L229.3,405.1L229.9,405.0L230.4,405.3L231.0,404.8L231.5,405.4L232.1,405.1L232.7,405.5L233.2,405.1L233.8,405.0L234.3,405.3L234.9,405.6L235.5,404.6L236.0,405.3L236.6,405.4L237.1,404.8L237.7,405.0L238.3,405.4L238.8,405.0L239.4,405.0L239.9,405.7L240.5,405.0L241.0,405.0L241.6,404.6L242.2,404.9L242.7,404.9L243.3,405.7L243.8,405.6L244.4,404.9L245.0,405.8L245.5,405.5L246.1,405.2L246.6,405.5L247.2,405.4L247.8,405.0L248.3,404.7L248.9,405.0L249.4,405.2L250.0,405.1L250.5,405.0L251.1,405.5L251.7,404.9L252.2,405.5L252.8,405.1L253.3,405.3L253.9,404.9L254.5,405.3L255.0,405.0L255.6,404.7L256.1,405.3L256.7,405.2L257.3,405.5L257.8,405.3L258.4,405.0L258.9,405.1L259.5,404.5L260.1,404.9L260.6,405.6L261.2,405.7L261.7,405.5L262.3,405.4L262.8,405.4L263.4,405.4L264.0,404.8L264.5,405.0L265.1,405.6L265.6,405.6L266.2,405.3L266.8,405.2L267.3,405.2L267.9,405.1L268.4,405.0L269.0,404.7L269.6,405.3L270.1,405.1L270.7,405.2L271.2,405.8L271.8,405.5L272.3,405.1L272.9,405.4L273.5,404.8L274.0,405.6L274.6,405.4L275.1,405.2L275.7,405.4L276.3,405.7L276.8,405.1L277.4,405.0L277.9,405.9L278.5,405.3L279.1,405.7L279.6,405.1L280.2,405.4L280.7,405.1L281.3,405.5L281.8,405.2L282.4,405.1L283.0,405.7L283.5,405.4L284.1,404.7L284.6,405.2L285.2,405.0L285.8,404.9L286.3,405.1L286.9,405.1L287.4,405.3L288.0,405.0L288.6,404.7L289.1,405.1L289.7,405.5L290.2,404.9L290.8,405.5L291.3,405.4L291.9,405.2L292.5,405.4L293.0,405.1L293.6,405.2L294.1,405.0L294.7,405.4L295.3,405.7L295.8,405.1L296.4,405.6L296.9,404.7L297.5,405.0L298.1,405.0L298.6,405.8L299.2,405.1L299.7,405.5L300.3,404.7L300.8,405.3L301.4,405.5L302.0,405.3L302.5,404.5L303.1,405.3L303.6,405.5L304.2,405.7L304.8,405.4L305.3,404.8L305.9,405.2L306.4,405.6L307.0,405.0L307.6,405.5L308.1,405.1L308.7,405.3L309.2,405.5L309.8,405.1L310.3,406.1L310.9,405.3L311.5,405.4L312.0,405.1L312.6,405.3L313.1,405.2L313.7,404.9" stroke="#1f9e89" stroke-width="4.7" stroke-linecap="round" stroke-linejoin="round" fill="none"/>
<path d="M72.3,351.5L72.4,353.7L72.5,355.4L72.7,357.3L72.8,358.9L72.9,360.1L73.0,361.7L73.2,363.1L73.3,364.3L73.4,365.5L73.5,366.2L73.7,367.6L73.8,368.9L73.9,369.7L74.0,370.3L74.1,371.4L74.3,372.3L74.4,372.8L74.5,373.9L74.6,374.2L74.8,375.0L74.9,375.6L75.0,376.7L75.1,376.7L75.2,377.2L75.4,378.0L75.5,378.2L75.6,378.8L75.7,378.7L75.9,379.6L76.0,379.9L76.1,380.0L76.2,380.9L76.4,380.9L76.5,381.2L76.6,381.3L76.7,381.5L76.8,382.0L77.0,382.0L77.1,382.6L77.2,382.9L77.3,382.9L77.5,382.9L77.6,383.3L77.7,383.3L77.8,383.8L77.9,383.9L78.1,384.0L78.2,384.2L78.3,384.6L78.4,384.8L78.6,384.5L78.7,384.9L78.8,384.8L78.9,384.7L79.1,385.3L79.2,385.2L79.3,385.3L79.4,385.4L79.5,385.4L80.1,385.6L80.7,386.4L81.2,386.5L81.8,386.6L82.3,386.9L82.9,387.1L83.5,387.0L84.0,387.2L84.6,387.2L85.1,387.5L85.7,387.4L86.2,388.0L86.8,387.5L87.4,387.8L87.9,387.9L88.5,387.8L89.0,388.1L89.6,388.0L90.2,388.0L90.7,388.1L91.3,388.0L91.8,388.5L92.4,388.4L93.0,388.6L93.5,388.1L94.1,388.5L94.6,388.4L95.2,388.6L95.7,388.9L96.3,388.8L96.9,388.7L97.4,389.0L98.0,389.1L98.5,389.3L99.1,388.6L99.7,389.1L100.2,389.0L100.8,388.9L101.3,389.2L101.9,389.0L102.5,388.8L103.0,389.1L103.6,389.3L104.1,389.8L104.7,389.3L105.2,389.2L105.8,389.1L106.4,389.5L106.9,389.5L107.5,389.7L108.0,389.4L108.6,389.6L109.2,389.3L109.7,389.8L110.3,389.5L110.8,389.3L111.4,390.1L112.0,390.0L112.5,390.0L113.1,390.1L113.6,389.8L114.2,390.3L114.7,389.9L115.3,390.5L115.9,390.2L116.4,389.8L117.0,390.4L117.5,390.7L118.1,390.2L118.7,390.5L119.2,390.3L119.8,390.2L120.3,389.9L120.9,390.7L121.5,390.4L122.0,390.6L122.6,390.3L123.1,390.4L123.7,390.8L124.2,390.5L124.8,390.5L125.4,390.4L125.9,390.7L126.5,390.8L127.0,390.6L127.6,390.7L128.2,390.5L128.7,391.1L129.3,390.7L129.8,390.8L130.4,391.2L131.0,390.8L131.5,390.6L132.1,390.7L132.6,390.9L133.2,391.3L133.8,391.0L134.3,390.9L134.9,391.2L135.4,391.3L136.0,390.9L136.5,391.3L137.1,391.2L137.7,391.2L138.2,390.6L138.8,391.2L139.3,391.4L139.9,391.1L140.5,391.6L141.0,391.2L141.6,391.0L142.1,391.3L142.7,391.3L143.3,391.4L143.8,391.2L144.4,391.5L144.9,391.2L145.5,391.3L146.0,391.1L146.6,391.2L147.2,391.4L147.7,391.2L148.3,391.3L148.8,391.3L149.4,391.4L150.0,391.6L150.5,391.6L151.1,391.6L151.6,391.5L152.2,391.3L152.8,391.1L153.3,391.4L153.9,391.3L154.4,391.1L155.0,391.8L155.5,391.2L156.1,391.6L156.7,391.7L157.2,391.5L157.8,392.1L158.3,391.6L158.9,391.4L159.5,391.9L160.0,391.4L160.6,391.3L161.1,391.4L161.7,391.5L162.3,391.6L162.8,391.7L163.4,391.3L163.9,391.7L164.5,392.1L165.0,391.5L165.6,391.7L166.2,391.8L166.7,391.9L167.3,391.6L167.8,391.5L168.4,391.5L169.0,392.0L169.5,391.9L170.1,391.3L170.6,391.3L171.2,391.5L171.8,391.5L172.3,391.9L172.9,391.8L173.4,392.2L174.0,392.0L174.5,391.8L175.1,392.0L175.7,391.6L176.2,391.5L176.8,391.8L177.3,392.0L177.9,391.5L178.5,392.0L179.0,392.0L179.6,391.7L180.1,391.9L180.7,391.8L181.3,391.9L181.8,392.0L182.4,391.7L182.9,392.1L183.5,392.1L184.0,392.1L184.6,391.5L185.2,391.5L185.7,392.0L186.3,391.8L186.8,391.8L187.4,391.8L188.0,391.7L188.5,391.9L189.1,391.8L189.6,391.8L190.2,392.0L190.8,391.7L191.3,392.2L191.9,391.5L192.4,392.5L193.0,391.7L193.5,392.1L194.1,392.2L194.7,392.0L195.2,392.1L195.8,392.0L196.3,391.6L196.9,392.1L197.5,392.2L198.0,391.9L198.6,391.6L199.1,391.9L199.7,392.1L200.3,392.1L200.8,392.2L201.4,392.1L201.9,392.1L202.5,391.6L203.0,392.5L203.6,392.0L204.2,392.2L204.7,392.0L205.3,392.0L205.8,392.0L206.4,392.4L207.0,392.3L207.5,392.2L208.1,392.4L208.6,392.0L209.2,392.2L209.8,392.0L210.3,392.3L210.9,392.1L211.4,392.3L212.0,392.4L212.5,391.6L213.1,392.5L213.7,392.1L214.2,392.0L214.8,391.7L215.3,392.0L215.9,391.6L216.5,392.1L217.0,392.0L217.6,392.4L218.1,392.0L218.7,392.3L219.3,392.3L219.8,392.5L220.4,392.0L220.9,392.2L221.5,391.8L222.0,391.9L222.6,392.0L223.2,392.1L223.7,391.8L224.3,392.0L224.8,392.2L225.4,392.0L226.0,392.1L226.5,391.9L227.1,392.4L227.6,392.5L228.2,392.2L228.8,392.1L229.3,392.5L229.9,392.2L230.4,392.0L231.0,391.8L231.5,392.0L232.1,392.6L232.7,392.0L233.2,392.7L233.8,392.1L234.3,392.1L234.9,392.4L235.5,392.1L236.0,392.2L236.6,391.9L237.1,391.9L237.7,392.0L238.3,392.2L238.8,392.0L239.4,391.7L239.9,392.2L240.5,392.1L241.0,392.1L241.6,392.0L242.2,391.7L242.7,392.5L243.3,392.0L243.8,392.2L244.4,392.4L245.0,392.4L245.5,392.2L246.1,392.1L246.6,392.2L247.2,392.3L247.8,392.3L248.3,392.1L248.9,392.2L249.4,392.2L250.0,392.3L250.5,392.2L251.1,392.4L251.7,392.2L252.2,392.3L252.8,392.2L253.3,392.0L253.9,392.0L254.5,392.1L255.0,392.3L255.6,392.4L256.1,392.1L256.7,392.1L257.3,392.1L257.8,392.4L258.4,392.2L258.9,392.1L259.5,392.3L260.1,391.9L260.6,392.2L261.2,392.2L261.7,392.1L262.3,391.9L262.8,392.4L263.4,392.5L264.0,391.9L264.5,392.2L265.1,392.3L265.6,392.6L266.2,392.1L266.8,392.0L267.3,392.2L267.9,392.6L268.4,392.2L269.0,392.2L269.6,392.5L270.1,391.7L270.7,391.7L271.2,392.4L271.8,392.3L272.3,391.9L272.9,392.3L273.5,392.2L274.0,392.2L274.6,392.0L275.1,392.1L275.7,392.0L276.3,392.2L276.8,392.1L277.4,392.5L277.9,392.3L278.5,391.9L279.1,392.3L279.6,392.5L280.2,392.2L280.7,392.4L281.3,392.2L281.8,392.3L282.4,392.0L283.0,392.3L283.5,391.9L284.1,392.4L284.6,391.9L285.2,391.7L285.8,392.3L286.3,392.1L286.9,392.2L287.4,392.3L288.0,392.2L288.6,392.0L289.1,392.2L289.7,392.3L290.2,392.3L290.8,392.6L291.3,392.0L291.9,392.2L292.5,392.3L293.0,392.1L293.6,391.9L294.1,392.1L294.7,392.4L295.3,392.1L295.8,392.3L296.4,392.0L296.9,392.3L297.5,392.0L298.1,392.0L298.6,392.2L299.2,392.2L299.7,392.5L300.3,391.9L300.8,392.3L301.4,392.5L302.0,392.5L302.5,392.1L303.1,392.0L303.6,392.1L304.2,392.3L304.8,392.2L305.3,392.3L305.9,392.3L306.4,392.0L307.0,392.0L307.6,391.9L308.1,391.9L308.7,392.2L309.2,392.3L309.8,392.7L310.3,392.3L310.9,392.2L311.5,392.5L312.0,392.0L312.6,392.3L313.1,392.4L313.7,392.4" stroke="#35b779" stroke-width="4.7" stroke-linecap="round" stroke-linejoin="round" fill="none"/>
<path d="M72.3,342.7L72.4,344.7L72.5,346.5L72.7,348.2L72.8,349.8L72.9,351.3L73.0,352.7L73.2,354.0L73.3,355.2L73.4,356.4L73.5,357.4L73.7,358.4L73.8,359.4L73.9,360.2L74.0,361.0L74.1,361.8L74.3,362.5L74.4,363.2L74.5,363.8L74.6,364.4L74.8,364.9L74.9,365.4L75.0,365.9L75.1,366.3L75.2,366.7L75.4,367.1L75.5,367.5L75.6,367.8L75.7,368.1L75.9,368.4L76.0,368.7L76.1,368.9L76.2,369.2L76.4,369.4L76.5,369.6L76.6,369.8L76.7,370.0L76.8,370.2L77.0,370.3L77.1,370.5L77.2,370.6L77.3,370.7L77.5,370.8L77.6,371.0L77.7,371.1L77.8,371.2L77.9,371.3L78.1,371.3L78.2,371.4L78.3,371.5L78.4,371.6L78.6,371.6L78.7,371.7L78.8,371.7L78.9,371.8L79.1,371.8L79.2,371.9L79.3,371.9L79.4,372.0L79.5,372.0L80.1,372.1L80.7,372.2L81.2,372.3L81.8,372.4L82.3,372.4L82.9,372.4L83.5,372.5L84.0,372.5L84.6,372.5L85.1,372.5L85.7,372.5L86.2,372.5L86.8,372.5L87.4,372.5L87.9,372.5L88.5,372.5L89.0,372.4L89.6,372.4L90.2,372.4L90.7,372.4L91.3,372.4L91.8,372.4L92.4,372.4L93.0,372.4L93.5,372.4L94.1,372.4L94.6,372.4L95.2,372.4L95.7,372.4L96.3,372.4L96.9,372.4L97.4,372.4L98.0,372.3L98.5,372.3L99.1,372.3L99.7,372.3L100.2,372.3L100.8,372.3L101.3,372.3L101.9,372.3L102.5,372.3L103.0,372.3L103.6,372.3L104.1,372.3L104.7,372.3L105.2,372.3L105.8,372.3L106.4,372.3L106.9,372.2L107.5,372.2L108.0,372.2L108.6,372.2L109.2,372.2L109.7,372.2L110.3,372.2L110.8,372.2L111.4,372.2L112.0,372.2L112.5,372.2L113.1,372.2L113.6,372.2L114.2,372.2L114.7,372.2L115.3,372.2L115.9,372.1L116.4,372.1L117.0,372.1L117.5,372.1L118.1,372.1L118.7,372.1L119.2,372.1L119.8,372.1L120.3,372.1L120.9,372.1L121.5,372.1L122.0,372.1L122.6,372.1L123.1,372.1L123.7,372.1L124.2,372.1L124.8,372.0L125.4,372.0L125.9,372.0L126.5,372.0L127.0,372.0L127.6,372.0L128.2,372.0L128.7,372.0L129.3,372.0L129.8,372.0L130.4,372.0L131.0,372.0L131.5,372.0L132.1,372.0L132.6,372.0L133.2,371.9L133.8,371.9L134.3,371.9L134.9,371.9L135.4,371.9L136.0,371.9L136.5,371.9L137.1,371.9L137.7,371.9L138.2,371.9L138.8,371.9L139.3,371.9L139.9,371.9L140.5,371.9L141.0,371.9L141.6,371.9L142.1,371.8L142.7,371.8L143.3,371.8L143.8,371.8L144.4,371.8L144.9,371.8L145.5,371.8L146.0,371.8L146.6,371.8L147.2,371.8L147.7,371.8L148.3,371.8L148.8,371.8L149.4,371.8L150.0,371.8L150.5,371.8L151.1,371.7L151.6,371.7L152.2,371.7L152.8,371.7L153.3,371.7L153.9,371.7L154.4,371.7L155.0,371.7L155.5,371.7L156.1,371.7L156.7,371.7L157.2,371.7L157.8,371.7L158.3,371.7L158.9,371.7L159.5,371.7L160.0,371.6L160.6,371.6L161.1,371.6L161.7,371.6L162.3,371.6L162.8,371.6L163.4,371.6L163.9,371.6L164.5,371.6L165.0,371.6L165.6,371.6L166.2,371.6L166.7,371.6L167.3,371.6L167.8,371.6L168.4,371.5L169.0,371.5L169.5,371.5L170.1,371.5L170.6,371.5L171.2,371.5L171.8,371.5L172.3,371.5L172.9,371.5L173.4,371.5L174.0,371.5L174.5,371.5L175.1,371.5L175.7,371.5L176.2,371.5L176.8,371.5L177.3,371.4L177.9,371.4L178.5,371.4L179.0,371.4L179.6,371.4L180.1,371.4L180.7,371.4L181.3,371.4L181.8,371.4L182.4,371.4L182.9,371.4L183.5,371.4L184.0,371.4L184.6,371.4L185.2,371.4L185.7,371.4L186.3,371.3L186.8,371.3L187.4,371.3L188.0,371.3L188.5,371.3L189.1,371.3L189.6,371.3L190.2,371.3L190.8,371.3L191.3,371.3L191.9,371.3L192.4,371.3L193.0,371.3L193.5,371.3L194.1,371.3L194.7,371.3L195.2,371.2L195.8,371.2L196.3,371.2L196.9,371.2L197.5,371.2L198.0,371.2L198.6,371.2L199.1,371.2L199.7,371.2L200.3,371.2L200.8,371.2L201.4,371.2L201.9,371.2L202.5,371.2L203.0,371.2L203.6,371.1L204.2,371.1L204.7,371.1L205.3,371.1L205.8,371.1L206.4,371.1L207.0,371.1L207.5,371.1L208.1,371.1L208.6,371.1L209.2,371.1L209.8,371.1L210.3,371.1L210.9,371.1L211.4,371.1L212.0,371.1L212.5,371.0L213.1,371.0L213.7,371.0L214.2,371.0L214.8,371.0L215.3,371.0L215.9,371.0L216.5,371.0L217.0,371.0L217.6,371.0L218.1,371.0L218.7,371.0L219.3,371.0L219.8,371.0L220.4,371.0L220.9,371.0L221.5,370.9L222.0,370.9L222.6,370.9L223.2,370.9L223.7,370.9L224.3,370.9L224.8,370.9L225.4,370.9L226.0,370.9L226.5,370.9L227.1,370.9L227.6,370.9L228.2,370.9L228.8,370.9L229.3,370.9L229.9,370.9L230.4,370.8L231.0,370.8L231.5,370.8L232.1,370.8L232.7,370.8L233.2,370.8L233.8,370.8L234.3,370.8L234.9,370.8L235.5,370.8L236.0,370.8L236.6,370.8L237.1,370.8L237.7,370.8L238.3,370.8L238.8,370.7L239.4,370.7L239.9,370.7L240.5,370.7L241.0,370.7L241.6,370.7L242.2,370.7L242.7,370.7L243.3,370.7L243.8,370.7L244.4,370.7L245.0,370.7L245.5,370.7L246.1,370.7L246.6,370.7L247.2,370.7L247.8,370.6L248.3,370.6L248.9,370.6L249.4,370.6L250.0,370.6L250.5,370.6L251.1,370.6L251.7,370.6L252.2,370.6L252.8,370.6L253.3,370.6L253.9,370.6L254.5,370.6L255.0,370.6L255.6,370.6L256.1,370.6L256.7,370.5L257.3,370.5L257.8,370.5L258.4,370.5L258.9,370.5L259.5,370.5L260.1,370.5L260.6,370.5L261.2,370.5L261.7,370.5L262.3,370.5L262.8,370.5L263.4,370.5L264.0,370.5L264.5,370.5L265.1,370.5L265.6,370.4L266.2,370.4L266.8,370.4L267.3,370.4L267.9,370.4L268.4,370.4L269.0,370.4L269.6,370.4L270.1,370.4L270.7,370.4L271.2,370.4L271.8,370.4L272.3,370.4L272.9,370.4L273.5,370.4L274.0,370.4L274.6,370.3L275.1,370.3L275.7,370.3L276.3,370.3L276.8,370.3L277.4,370.3L277.9,370.3L278.5,370.3L279.1,370.3L279.6,370.3L280.2,370.3L280.7,370.3L281.3,370.3L281.8,370.3L282.4,370.3L283.0,370.2L283.5,370.2L284.1,370.2L284.6,370.2L285.2,370.2L285.8,370.2L286.3,370.2L286.9,370.2L287.4,370.2L288.0,370.2L288.6,370.2L289.1,370.2L289.7,370.2L290.2,370.2L290.8,370.2L291.3,370.2L291.9,370.1L292.5,370.1L293.0,370.1L293.6,370.1L294.1,370.1L294.7,370.1L295.3,370.1L295.8,370.1L296.4,370.1L296.9,370.1L297.5,370.1L298.1,370.1L298.6,370.1L299.2,370.1L299.7,370.1L300.3,370.1L300.8,370.0L301.4,370.0L302.0,370.0L302.5,370.0L303.1,370.0L303.6,370.0L304.2,370.0L304.8,370.0L305.3,370.0L305.9,370.0L306.4,370.0L307.0,370.0L307.6,370.0L308.1,370.0L308.7,370.0L309.2,370.0L309.8,369.9L310.3,369.9L310.9,369.9L311.5,369.9L312.0,369.9L312.6,369.9L313.1,369.9L313.7,369.9" stroke="#6ccd5a" stroke-width="4.7" stroke-linecap="round" stroke-linejoin="round" fill="none"/>
<path d="M72.3,331.0L72.4,332.4L72.5,333.6L72.7,334.8L72.8,335.9L72.9,336.9L73.0,337.8L73.2,338.6L73.3,339.4L73.4,340.1L73.5,340.8L73.7,341.4L73.8,342.0L73.9,342.6L74.0,343.0L74.1,343.5L74.3,343.9L74.4,344.3L74.5,344.7L74.6,345.0L74.8,345.3L74.9,345.6L75.0,345.9L75.1,346.1L75.2,346.4L75.4,346.6L75.5,346.8L75.6,347.0L75.7,347.1L75.9,347.3L76.0,347.4L76.1,347.6L76.2,347.7L76.4,347.8L76.5,347.9L76.6,348.0L76.7,348.1L76.8,348.2L77.0,348.3L77.1,348.3L77.2,348.4L77.3,348.5L77.5,348.5L77.6,348.6L77.7,348.6L77.8,348.7L77.9,348.7L78.1,348.8L78.2,348.8L78.3,348.8L78.4,348.9L78.6,348.9L78.7,348.9L78.8,349.0L78.9,349.0L79.1,349.0L79.2,349.0L79.3,349.1L79.4,349.1L79.5,349.1L80.1,349.2L80.7,349.2L81.2,349.3L81.8,349.3L82.3,349.3L82.9,349.4L83.5,349.4L84.0,349.4L84.6,349.4L85.1,349.4L85.7,349.5L86.2,349.5L86.8,349.5L87.4,349.5L87.9,349.5L88.5,349.5L89.0,349.6L89.6,349.6L90.2,349.6L90.7,349.6L91.3,349.6L91.8,349.6L92.4,349.6L93.0,349.7L93.5,349.7L94.1,349.7L94.6,349.7L95.2,349.7L95.7,349.7L96.3,349.7L96.9,349.7L97.4,349.8L98.0,349.8L98.5,349.8L99.1,349.8L99.7,349.8L100.2,349.8L100.8,349.8L101.3,349.8L101.9,349.8L102.5,349.8L103.0,349.9L103.6,349.9L104.1,349.9L104.7,349.9L105.2,349.9L105.8,349.9L106.4,349.9L106.9,349.9L107.5,349.9L108.0,349.9L108.6,349.9L109.2,350.0L109.7,350.0L110.3,350.0L110.8,350.0L111.4,350.0L112.0,350.0L112.5,350.0L113.1,350.0L113.6,350.0L114.2,350.0L114.7,350.0L115.3,350.0L115.9,350.0L116.4,350.1L117.0,350.1L117.5,350.1L118.1,350.1L118.7,350.1L119.2,350.1L119.8,350.1L120.3,350.1L120.9,350.1L121.5,350.1L122.0,350.1L122.6,350.1L123.1,350.1L123.7,350.1L124.2,350.1L124.8,350.1L125.4,350.2L125.9,350.2L126.5,350.2L127.0,350.2L127.6,350.2L128.2,350.2L128.7,350.2L129.3,350.2L129.8,350.2L130.4,350.2L131.0,350.2L131.5,350.2L132.1,350.2L132.6,350.2L133.2,350.2L133.8,350.2L134.3,350.2L134.9,350.2L135.4,350.2L136.0,350.2L136.5,350.2L137.1,350.2L137.7,350.3L138.2,350.3L138.8,350.3L139.3,350.3L139.9,350.3L140.5,350.3L141.0,350.3L141.6,350.3L142.1,350.3L142.7,350.3L143.3,350.3L143.8,350.3L144.4,350.3L144.9,350.3L145.5,350.3L146.0,350.3L146.6,350.3L147.2,350.3L147.7,350.3L148.3,350.3L148.8,350.3L149.4,350.3L150.0,350.3L150.5,350.3L151.1,350.3L151.6,350.3L152.2,350.3L152.8,350.3L153.3,350.3L153.9,350.3L154.4,350.3L155.0,350.3L155.5,350.3L156.1,350.4L156.7,350.4L157.2,350.4L157.8,350.4L158.3,350.4L158.9,350.4L159.5,350.4L160.0,350.4L160.6,350.4L161.1,350.4L161.7,350.4L162.3,350.4L162.8,350.4L163.4,350.4L163.9,350.4L164.5,350.4L165.0,350.4L165.6,350.4L166.2,350.4L166.7,350.4L167.3,350.4L167.8,350.4L168.4,350.4L169.0,350.4L169.5,350.4L170.1,350.4L170.6,350.4L171.2,350.4L171.8,350.4L172.3,350.4L172.9,350.4L173.4,350.4L174.0,350.4L174.5,350.4L175.1,350.4L175.7,350.4L176.2,350.4L176.8,350.4L177.3,350.4L177.9,350.4L178.5,350.4L179.0,350.4L179.6,350.4L180.1,350.4L180.7,350.4L181.3,350.4L181.8,350.4L182.4,350.4L182.9,350.4L183.5,350.4L184.0,350.4L184.6,350.4L185.2,350.4L185.7,350.4L186.3,350.4L186.8,350.4L187.4,350.4L188.0,350.4L188.5,350.4L189.1,350.4L189.6,350.4L190.2,350.4L190.8,350.4L191.3,350.4L191.9,350.4L192.4,350.4L193.0,350.4L193.5,350.4L194.1,350.4L194.7,350.4L195.2,350.4L195.8,350.5L196.3,350.5L196.9,350.5L197.5,350.5L198.0,350.5L198.6,350.5L199.1,350.5L199.7,350.5L200.3,350.5L200.8,350.5L201.4,350.5L201.9,350.5L202.5,350.5L203.0,350.5L203.6,350.5L204.2,350.5L204.7,350.5L205.3,350.5L205.8,350.5L206.4,350.5L207.0,350.5L207.5,350.5L208.1,350.5L208.6,350.5L209.2,350.5L209.8,350.5L210.3,350.5L210.9,350.5L211.4,350.5L212.0,350.5L212.5,350.5L213.1,350.5L213.7,350.5L214.2,350.5L214.8,350.5L215.3,350.5L215.9,350.5L216.5,350.5L217.0,350.5L217.6,350.5L218.1,350.5L218.7,350.5L219.3,350.5L219.8,350.5L220.4,350.5L220.9,350.5L221.5,350.5L222.0,350.5L222.6,350.5L223.2,350.5L223.7,350.5L224.3,350.5L224.8,350.5L225.4,350.5L226.0,350.5L226.5,350.5L227.1,350.5L227.6,350.5L228.2,350.5L228.8,350.5L229.3,350.5L229.9,350.5L230.4,350.5L231.0,350.5L231.5,350.5L232.1,350.5L232.7,350.5L233.2,350.5L233.8,350.5L234.3,350.5L234.9,350.5L235.5,350.5L236.0,350.5L236.6,350.5L237.1,350.5L237.7,350.5L238.3,350.5L238.8,350.5L239.4,350.5L239.9,350.5L240.5,350.5L241.0,350.5L241.6,350.5L242.2,350.5L242.7,350.5L243.3,350.5L243.8,350.5L244.4,350.5L245.0,350.5L245.5,350.5L246.1,350.5L246.6,350.5L247.2,350.5L247.8,350.5L248.3,350.5L248.9,350.5L249.4,350.5L250.0,350.5L250.5,350.5L251.1,350.5L251.7,350.5L252.2,350.5L252.8,350.5L253.3,350.5L253.9,350.5L254.5,350.5L255.0,350.5L255.6,350.5L256.1,350.5L256.7,350.5L257.3,350.5L257.8,350.5L258.4,350.5L258.9,350.5L259.5,350.5L260.1,350.5L260.6,350.5L261.2,350.5L261.7,350.5L262.3,350.5L262.8,350.5L263.4,350.5L264.0,350.5L264.5,350.5L265.1,350.5L265.6,350.5L266.2,350.5L266.8,350.5L267.3,350.5L267.9,350.5L268.4,350.5L269.0,350.5L269.6,350.5L270.1,350.5L270.7,350.5L271.2,350.5L271.8,350.5L272.3,350.5L272.9,350.5L273.5,350.5L274.0,350.5L274.6,350.5L275.1,350.5L275.7,350.5L276.3,350.5L276.8,350.5L277.4,350.5L277.9,350.5L278.5,350.5L279.1,350.5L279.6,350.5L280.2,350.5L280.7,350.5L281.3,350.5L281.8,350.5L282.4,350.5L283.0,350.5L283.5,350.5L284.1,350.5L284.6,350.5L285.2,350.5L285.8,350.5L286.3,350.5L286.9,350.5L287.4,350.5L288.0,350.5L288.6,350.5L289.1,350.5L289.7,350.5L290.2,350.5L290.8,350.5L291.3,350.5L291.9,350.5L292.5,350.5L293.0,350.5L293.6,350.5L294.1,350.5L294.7,350.5L295.3,350.5L295.8,350.5L296.4,350.5L296.9,350.5L297.5,350.5L298.1,350.5L298.6,350.5L299.2,350.5L299.7,350.5L300.3,350.5L300.8,350.5L301.4,350.5L302.0,350.5L302.5,350.5L303.1,350.5L303.6,350.5L304.2,350.5L304.8,350.5L305.3,350.5L305.9,350.5L306.4,350.5L307.0,350.5L307.6,350.5L308.1,350.5L308.7,350.5L309.2,350.5L309.8,350.5L310.3,350.5L310.9,350.5L311.5,350.5L312.0,350.5L312.6,350.5L313.1,350.5L313.7,350.5" stroke="#b0dd2f" stroke-width="4.7" stroke-linecap="round" stroke-linejoin="round" fill="none"/>
<path d="M72.3,328.0L72.4,328.7L72.5,329.4L72.7,329.9L72.8,330.5L72.9,330.9L73.0,331.4L73.2,331.8L73.3,332.1L73.4,332.4L73.5,332.7L73.7,333.0L73.8,333.2L73.9,333.4L74.0,333.6L74.1,333.8L74.3,334.0L74.4,334.1L74.5,334.3L74.6,334.4L74.8,334.5L74.9,334.6L75.0,334.7L75.1,334.7L75.2,334.8L75.4,334.9L75.5,335.0L75.6,335.0L75.7,335.1L75.9,335.1L76.0,335.2L76.1,335.2L76.2,335.2L76.4,335.3L76.5,335.3L76.6,335.3L76.7,335.3L76.8,335.4L77.0,335.4L77.1,335.4L77.2,335.4L77.3,335.5L77.5,335.5L77.6,335.5L77.7,335.5L77.8,335.5L77.9,335.5L78.1,335.5L78.2,335.6L78.3,335.6L78.4,335.6L78.6,335.6L78.7,335.6L78.8,335.6L78.9,335.6L79.1,335.6L79.2,335.6L79.3,335.6L79.4,335.7L79.5,335.7L80.1,335.7L80.7,335.7L81.2,335.8L81.8,335.8L82.3,335.8L82.9,335.8L83.5,335.9L84.0,335.9L84.6,335.9L85.1,335.9L85.7,336.0L86.2,336.0L86.8,336.0L87.4,336.0L87.9,336.0L88.5,336.1L89.0,336.1L89.6,336.1L90.2,336.1L90.7,336.2L91.3,336.2L91.8,336.2L92.4,336.2L93.0,336.2L93.5,336.3L94.1,336.3L94.6,336.3L95.2,336.3L95.7,336.3L96.3,336.4L96.9,336.4L97.4,336.4L98.0,336.4L98.5,336.4L99.1,336.5L99.7,336.5L100.2,336.5L100.8,336.5L101.3,336.5L101.9,336.5L102.5,336.6L103.0,336.6L103.6,336.6L104.1,336.6L104.7,336.6L105.2,336.6L105.8,336.7L106.4,336.7L106.9,336.7L107.5,336.7L108.0,336.7L108.6,336.7L109.2,336.7L109.7,336.8L110.3,336.8L110.8,336.8L111.4,336.8L112.0,336.8L112.5,336.8L113.1,336.8L113.6,336.9L114.2,336.9L114.7,336.9L115.3,336.9L115.9,336.9L116.4,336.9L117.0,336.9L117.5,336.9L118.1,337.0L118.7,337.0L119.2,337.0L119.8,337.0L120.3,337.0L120.9,337.0L121.5,337.0L122.0,337.0L122.6,337.0L123.1,337.1L123.7,337.1L124.2,337.1L124.8,337.1L125.4,337.1L125.9,337.1L126.5,337.1L127.0,337.1L127.6,337.1L128.2,337.2L128.7,337.2L129.3,337.2L129.8,337.2L130.4,337.2L131.0,337.2L131.5,337.2L132.1,337.2L132.6,337.2L133.2,337.2L133.8,337.2L134.3,337.3L134.9,337.3L135.4,337.3L136.0,337.3L136.5,337.3L137.1,337.3L137.7,337.3L138.2,337.3L138.8,337.3L139.3,337.3L139.9,337.3L140.5,337.3L141.0,337.3L141.6,337.4L142.1,337.4L142.7,337.4L143.3,337.4L143.8,337.4L144.4,337.4L144.9,337.4L145.5,337.4L146.0,337.4L146.6,337.4L147.2,337.4L147.7,337.4L148.3,337.4L148.8,337.4L149.4,337.5L150.0,337.5L150.5,337.5L151.1,337.5L151.6,337.5L152.2,337.5L152.8,337.5L153.3,337.5L153.9,337.5L154.4,337.5L155.0,337.5L155.5,337.5L156.1,337.5L156.7,337.5L157.2,337.5L157.8,337.5L158.3,337.5L158.9,337.6L159.5,337.6L160.0,337.6L160.6,337.6L161.1,337.6L161.7,337.6L162.3,337.6L162.8,337.6L163.4,337.6L163.9,337.6L164.5,337.6L165.0,337.6L165.6,337.6L166.2,337.6L166.7,337.6L167.3,337.6L167.8,337.6L168.4,337.6L169.0,337.6L169.5,337.6L170.1,337.6L170.6,337.6L171.2,337.7L171.8,337.7L172.3,337.7L172.9,337.7L173.4,337.7L174.0,337.7L174.5,337.7L175.1,337.7L175.7,337.7L176.2,337.7L176.8,337.7L177.3,337.7L177.9,337.7L178.5,337.7L179.0,337.7L179.6,337.7L180.1,337.7L180.7,337.7L181.3,337.7L181.8,337.7L182.4,337.7L182.9,337.7L183.5,337.7L184.0,337.7L184.6,337.7L185.2,337.7L185.7,337.7L186.3,337.7L186.8,337.7L187.4,337.8L188.0,337.8L188.5,337.8L189.1,337.8L189.6,337.8L190.2,337.8L190.8,337.8L191.3,337.8L191.9,337.8L192.4,337.8L193.0,337.8L193.5,337.8L194.1,337.8L194.7,337.8L195.2,337.8L195.8,337.8L196.3,337.8L196.9,337.8L197.5,337.8L198.0,337.8L198.6,337.8L199.1,337.8L199.7,337.8L200.3,337.8L200.8,337.8L201.4,337.8L201.9,337.8L202.5,337.8L203.0,337.8L203.6,337.8L204.2,337.8L204.7,337.8L205.3,337.8L205.8,337.8L206.4,337.8L207.0,337.8L207.5,337.8L208.1,337.8L208.6,337.8L209.2,337.8L209.8,337.8L210.3,337.8L210.9,337.8L211.4,337.8L212.0,337.9L212.5,337.9L213.1,337.9L213.7,337.9L214.2,337.9L214.8,337.9L215.3,337.9L215.9,337.9L216.5,337.9L217.0,337.9L217.6,337.9L218.1,337.9L218.7,337.9L219.3,337.9L219.8,337.9L220.4,337.9L220.9,337.9L221.5,337.9L222.0,337.9L222.6,337.9L223.2,337.9L223.7,337.9L224.3,337.9L224.8,337.9L225.4,337.9L226.0,337.9L226.5,337.9L227.1,337.9L227.6,337.9L228.2,337.9L228.8,337.9L229.3,337.9L229.9,337.9L230.4,337.9L231.0,337.9L231.5,337.9L232.1,337.9L232.7,337.9L233.2,337.9L233.8,337.9L234.3,337.9L234.9,337.9L235.5,337.9L236.0,337.9L236.6,337.9L237.1,337.9L237.7,337.9L238.3,337.9L238.8,337.9L239.4,337.9L239.9,337.9L240.5,337.9L241.0,337.9L241.6,337.9L242.2,337.9L242.7,337.9L243.3,337.9L243.8,337.9L244.4,337.9L245.0,337.9L245.5,337.9L246.1,337.9L246.6,337.9L247.2,337.9L247.8,337.9L248.3,337.9L248.9,337.9L249.4,337.9L250.0,337.9L250.5,337.9L251.1,337.9L251.7,337.9L252.2,337.9L252.8,337.9L253.3,337.9L253.9,337.9L254.5,337.9L255.0,337.9L255.6,337.9L256.1,337.9L256.7,337.9L257.3,337.9L257.8,337.9L258.4,337.9L258.9,337.9L259.5,337.9L260.1,337.9L260.6,337.9L261.2,337.9L261.7,337.9L262.3,337.9L262.8,337.9L263.4,337.9L264.0,337.9L264.5,337.9L265.1,338.0L265.6,338.0L266.2,338.0L266.8,338.0L267.3,338.0L267.9,338.0L268.4,338.0L269.0,338.0L269.6,338.0L270.1,338.0L270.7,338.0L271.2,338.0L271.8,338.0L272.3,338.0L272.9,338.0L273.5,338.0L274.0,338.0L274.6,338.0L275.1,338.0L275.7,338.0L276.3,338.0L276.8,338.0L277.4,338.0L277.9,338.0L278.5,338.0L279.1,338.0L279.6,338.0L280.2,338.0L280.7,338.0L281.3,338.0L281.8,338.0L282.4,338.0L283.0,338.0L283.5,338.0L284.1,338.0L284.6,338.0L285.2,338.0L285.8,338.0L286.3,338.0L286.9,338.0L287.4,338.0L288.0,338.0L288.6,338.0L289.1,338.0L289.7,338.0L290.2,338.0L290.8,338.0L291.3,338.0L291.9,338.0L292.5,338.0L293.0,338.0L293.6,338.0L294.1,338.0L294.7,338.0L295.3,338.0L295.8,338.0L296.4,338.0L296.9,338.0L297.5,338.0L298.1,338.0L298.6,338.0L299.2,338.0L299.7,338.0L300.3,338.0L300.8,338.0L301.4,338.0L302.0,338.0L302.5,338.0L303.1,338.0L303.6,338.0L304.2,338.0L304.8,338.0L305.3,338.0L305.9,338.0L306.4,338.0L307.0,338.0L307.6,338.0L308.1,338.0L308.7,338.0L309.2,338.0L309.8,338.0L310.3,338.0L310.9,338.0L311.5,338.0L312.0,338.0L312.6,338.0L313.1,338.0L313.7,338.0" stroke="#fde725" stroke-width="4.7" stroke-linecap="round" stroke-linejoin="round" fill="none"/>
</g>
<g clip-path="url(#cd)">
<path d="M426.0,324.3L426.1,327.6L426.2,330.9L426.4,333.8L426.5,336.5L426.6,338.8L426.7,341.4L426.9,343.6L427.0,345.6L427.1,347.3L427.2,349.4L427.4,351.0L427.5,353.2L427.6,354.7L427.7,355.9L427.8,357.4L428.0,358.9L428.1,360.3L428.2,361.1L428.3,361.9L428.5,363.0L428.6,363.8L428.7,364.9L428.8,365.8L429.0,366.8L429.1,367.6L429.2,368.2L429.3,369.1L429.4,369.9L429.6,370.3L429.7,370.7L429.8,371.3L429.9,371.9L430.1,372.5L430.2,373.0L430.3,373.3L430.4,374.0L430.6,374.3L430.7,374.6L430.8,375.2L430.9,375.4L431.0,375.6L431.2,376.2L431.3,376.6L431.4,376.7L431.5,377.2L431.7,377.6L431.8,377.6L431.9,378.3L432.0,378.2L432.2,378.8L432.3,378.6L432.4,379.3L432.5,379.3L432.6,379.5L432.8,379.5L432.9,379.9L433.0,380.1L433.1,380.4L433.3,380.4L433.8,381.7L434.4,382.6L434.9,382.8L435.5,383.6L436.1,384.2L436.6,385.0L437.2,385.1L437.7,385.5L438.3,385.6L438.9,386.2L439.4,386.6L440.0,387.2L440.5,387.6L441.1,387.7L441.7,388.4L442.2,388.4L442.8,388.7L443.3,389.2L443.9,389.4L444.5,389.8L445.0,390.2L445.6,390.5L446.1,390.3L446.7,390.7L447.3,391.2L447.8,391.7L448.4,391.8L448.9,391.9L449.5,392.3L450.1,392.7L450.6,392.8L451.2,393.1L451.7,393.3L452.3,393.5L452.9,393.5L453.4,393.7L454.0,393.8L454.5,394.0L455.1,394.1L455.7,394.5L456.2,394.3L456.8,394.4L457.4,394.3L457.9,394.6L458.5,394.6L459.0,394.8L459.6,394.5L460.2,394.8L460.7,395.1L461.3,395.2L461.8,395.1L462.4,395.3L463.0,395.4L463.5,395.2L464.1,395.5L464.6,395.4L465.2,395.7L465.8,395.9L466.3,395.9L466.9,396.1L467.4,396.2L468.0,396.3L468.6,396.5L469.1,397.1L469.7,396.9L470.2,397.0L470.8,396.8L471.4,396.9L471.9,397.2L472.5,396.9L473.0,397.0L473.6,397.0L474.2,397.0L474.7,396.9L475.3,397.2L475.8,397.0L476.4,397.3L477.0,397.0L477.5,397.4L478.1,397.5L478.6,397.6L479.2,397.9L479.8,398.1L480.3,398.1L480.9,398.2L481.4,398.2L482.0,397.9L482.6,398.2L483.1,398.3L483.7,398.2L484.2,398.4L484.8,398.0L485.4,397.8L485.9,398.4L486.5,398.4L487.0,398.1L487.6,398.3L488.2,398.2L488.7,398.0L489.3,398.3L489.8,398.7L490.4,398.6L491.0,398.3L491.5,398.5L492.1,398.4L492.6,398.5L493.2,398.6L493.8,398.7L494.3,398.8L494.9,399.2L495.4,398.8L496.0,398.8L496.6,399.1L497.1,399.4L497.7,399.7L498.2,399.7L498.8,399.6L499.4,399.6L499.9,400.0L500.5,400.0L501.0,400.0L501.6,400.0L502.2,400.0L502.7,399.8L503.3,400.3L503.9,400.3L504.4,400.1L505.0,400.2L505.5,400.7L506.1,400.3L506.7,400.6L507.2,400.3L507.8,400.8L508.3,400.6L508.9,400.3L509.5,400.4L510.0,400.7L510.6,400.9L511.1,401.0L511.7,401.2L512.3,401.2L512.8,401.1L513.4,401.0L513.9,401.2L514.5,401.0L515.1,401.0L515.6,401.3L516.2,401.1L516.7,401.1L517.3,400.9L517.9,401.0L518.4,401.1L519.0,400.9L519.5,400.8L520.1,400.8L520.7,400.7L521.2,400.6L521.8,400.9L522.3,400.7L522.9,400.4L523.5,400.5L524.0,400.4L524.6,400.5L525.1,400.5L525.7,400.6L526.3,400.4L526.8,400.6L527.4,400.6L527.9,400.5L528.5,400.2L529.1,400.2L529.6,400.4L530.2,400.3L530.7,400.3L531.3,400.5L531.9,400.6L532.4,400.9L533.0,400.9L533.5,401.1L534.1,400.7L534.7,401.1L535.2,400.7L535.8,400.6L536.3,400.8L536.9,400.8L537.5,401.1L538.0,400.8L538.6,400.7L539.1,400.9L539.7,400.8L540.3,400.6L540.8,400.6L541.4,400.7L541.9,400.7L542.5,400.6L543.1,401.0L543.6,400.3L544.2,400.5L544.7,400.5L545.3,400.2L545.9,400.2L546.4,400.6L547.0,400.2L547.5,400.1L548.1,400.2L548.7,400.7L549.2,400.8L549.8,401.1L550.3,401.1L550.9,401.2L551.5,401.4L552.0,401.5L552.6,401.6L553.2,401.6L553.7,401.6L554.3,401.3L554.8,401.4L555.4,401.4L556.0,401.6L556.5,401.1L557.1,401.1L557.6,401.4L558.2,401.5L558.8,401.9L559.3,401.9L559.9,402.2L560.4,401.9L561.0,402.0L561.6,401.7L562.1,401.8L562.7,402.1L563.2,402.1L563.8,402.2L564.4,402.5L564.9,402.7L565.5,402.6L566.0,402.4L566.6,403.0L567.2,403.2L567.7,403.2L568.3,403.2L568.8,403.6L569.4,403.2L570.0,403.3L570.5,403.4L571.1,403.5L571.6,403.2L572.2,402.9L572.8,403.1L573.3,403.3L573.9,403.3L574.4,403.2L575.0,403.0L575.6,403.0L576.1,403.1L576.7,403.3L577.2,403.1L577.8,403.2L578.4,403.0L578.9,403.0L579.5,402.9L580.0,403.2L580.6,403.1L581.2,403.1L581.7,403.0L582.3,402.8L582.8,402.8L583.4,402.7L584.0,403.0L584.5,403.1L585.1,402.9L585.6,403.0L586.2,403.2L586.8,403.2L587.3,402.8L587.9,402.9L588.4,403.0L589.0,402.7L589.6,402.6L590.1,402.5L590.7,402.6L591.2,402.9L591.8,402.9L592.4,402.8L592.9,402.9L593.5,402.8L594.0,402.6L594.6,402.6L595.2,403.0L595.7,402.4L596.3,402.1L596.8,402.3L597.4,402.2L598.0,402.3L598.5,402.4L599.1,402.2L599.7,402.7L600.2,402.7L600.8,402.7L601.3,402.5L601.9,402.8L602.5,402.7L603.0,403.1L603.6,402.9L604.1,402.9L604.7,402.7L605.3,403.1L605.8,403.2L606.4,403.2L606.9,403.3L607.5,403.6L608.1,403.6L608.6,403.6L609.2,403.4L609.7,403.6L610.3,403.5L610.9,403.4L611.4,403.0L612.0,403.2L612.5,403.0L613.1,403.0L613.7,403.1L614.2,403.0L614.8,402.9L615.3,402.7L615.9,402.7L616.5,402.7L617.0,402.8L617.6,402.9L618.1,402.8L618.7,403.0L619.3,403.2L619.8,403.4L620.4,403.3L620.9,403.2L621.5,403.3L622.1,403.0L622.6,402.9L623.2,403.1L623.7,403.1L624.3,402.9L624.9,402.9L625.4,402.9L626.0,402.8L626.5,403.0L627.1,402.6L627.7,402.6L628.2,402.6L628.8,402.7L629.3,402.5L629.9,402.3L630.5,402.6L631.0,402.7L631.6,402.7L632.1,402.6L632.7,402.6L633.3,402.9L633.8,402.9L634.4,403.0L634.9,402.6L635.5,403.0L636.1,402.9L636.6,402.9L637.2,403.1L637.7,403.0L638.3,403.3L638.9,403.3L639.4,403.5L640.0,403.6L640.5,403.4L641.1,403.2L641.7,403.6L642.2,403.4L642.8,403.5L643.3,403.4L643.9,403.5L644.5,403.5L645.0,403.6L645.6,403.7L646.2,403.8L646.7,404.0L647.3,403.7L647.8,403.9L648.4,404.3L649.0,404.3L649.5,404.3L650.1,404.4L650.6,404.4L651.2,404.5L651.8,404.3L652.3,404.5L652.9,404.1L653.4,404.1L654.0,404.1L654.6,403.9L655.1,403.9L655.7,403.9L656.2,403.8L656.8,404.1L657.4,403.9L657.9,404.1L658.5,404.1L659.0,404.3L659.6,404.3L660.2,404.1L660.7,404.1L661.3,404.2L661.8,404.4L662.4,404.3L663.0,404.4L663.5,404.3L664.1,404.4L664.6,404.1L665.2,403.8L665.8,403.4L666.3,403.6L666.9,403.6L667.4,403.7L668.0,403.6" stroke="#fde725" stroke-width="5.2" stroke-linecap="round" stroke-linejoin="round" fill="none"/>
<path d="M426.0,326.9L426.1,330.1L426.2,333.0L426.4,336.0L426.5,338.8L426.6,341.3L426.7,344.0L426.9,346.2L427.0,348.3L427.1,350.6L427.2,352.4L427.4,354.2L427.5,356.1L427.6,357.7L427.7,359.0L427.8,360.7L428.0,362.0L428.1,363.2L428.2,364.8L428.3,366.0L428.5,366.8L428.6,368.1L428.7,368.8L428.8,370.2L429.0,371.0L429.1,371.8L429.2,372.9L429.3,373.5L429.4,374.3L429.6,375.1L429.7,375.7L429.8,376.4L429.9,376.9L430.1,377.6L430.2,378.2L430.3,378.8L430.4,379.1L430.6,379.9L430.7,380.1L430.8,380.8L430.9,381.0L431.0,381.5L431.2,381.9L431.3,382.5L431.4,382.6L431.5,383.1L431.7,383.2L431.8,383.7L431.9,384.0L432.0,384.3L432.2,384.4L432.3,385.0L432.4,385.1L432.5,385.7L432.6,385.7L432.8,386.2L432.9,386.3L433.0,386.5L433.1,386.6L433.3,386.9L433.8,387.9L434.4,388.5L434.9,389.6L435.5,390.0L436.1,390.7L436.6,391.0L437.2,391.9L437.7,392.5L438.3,392.9L438.9,393.4L439.4,393.8L440.0,394.3L440.5,394.9L441.1,395.1L441.7,395.6L442.2,396.0L442.8,396.3L443.3,396.7L443.9,397.1L444.5,397.4L445.0,398.0L445.6,398.0L446.1,398.5L446.7,398.7L447.3,398.7L447.8,399.2L448.4,399.6L448.9,399.8L449.5,399.9L450.1,400.3L450.6,400.4L451.2,400.6L451.7,400.9L452.3,401.2L452.9,401.6L453.4,401.7L454.0,402.0L454.5,402.0L455.1,402.2L455.7,402.5L456.2,402.9L456.8,402.8L457.4,403.0L457.9,403.3L458.5,403.6L459.0,403.5L459.6,403.8L460.2,403.9L460.7,404.3L461.3,404.3L461.8,404.5L462.4,404.6L463.0,404.7L463.5,404.8L464.1,404.8L464.6,405.0L465.2,405.0L465.8,405.3L466.3,405.3L466.9,405.6L467.4,405.4L468.0,405.8L468.6,405.9L469.1,406.1L469.7,406.0L470.2,406.0L470.8,406.2L471.4,406.5L471.9,406.5L472.5,406.5L473.0,406.6L473.6,406.7L474.2,406.8L474.7,406.7L475.3,406.9L475.8,407.2L476.4,407.3L477.0,407.2L477.5,407.3L478.1,407.6L478.6,407.5L479.2,407.4L479.8,407.6L480.3,407.8L480.9,407.9L481.4,407.8L482.0,407.9L482.6,407.9L483.1,408.2L483.7,408.2L484.2,408.3L484.8,408.2L485.4,408.4L485.9,408.5L486.5,408.2L487.0,408.8L487.6,408.8L488.2,408.8L488.7,408.9L489.3,409.0L489.8,409.1L490.4,409.0L491.0,409.2L491.5,409.3L492.1,409.3L492.6,409.2L493.2,409.4L493.8,409.4L494.3,409.6L494.9,409.8L495.4,409.8L496.0,409.7L496.6,409.8L497.1,409.9L497.7,410.0L498.2,409.9L498.8,410.0L499.4,409.8L499.9,410.0L500.5,410.1L501.0,410.2L501.6,410.4L502.2,410.2L502.7,410.2L503.3,410.5L503.9,410.4L504.4,410.6L505.0,410.7L505.5,410.6L506.1,410.6L506.7,410.8L507.2,410.9L507.8,410.7L508.3,410.8L508.9,410.9L509.5,410.8L510.0,410.8L510.6,410.9L511.1,411.1L511.7,410.9L512.3,411.1L512.8,411.1L513.4,411.1L513.9,411.3L514.5,411.3L515.1,411.4L515.6,411.4L516.2,411.1L516.7,411.5L517.3,411.5L517.9,411.5L518.4,411.4L519.0,411.6L519.5,411.5L520.1,411.4L520.7,411.8L521.2,411.6L521.8,411.6L522.3,411.8L522.9,411.7L523.5,411.8L524.0,411.8L524.6,411.9L525.1,411.9L525.7,411.9L526.3,412.0L526.8,412.0L527.4,411.9L527.9,412.1L528.5,412.1L529.1,412.1L529.6,412.2L530.2,412.3L530.7,412.2L531.3,411.9L531.9,412.1L532.4,412.1L533.0,412.1L533.5,412.2L534.1,412.1L534.7,412.4L535.2,412.2L535.8,412.3L536.3,412.4L536.9,412.4L537.5,412.5L538.0,412.5L538.6,412.4L539.1,412.4L539.7,412.1L540.3,412.2L540.8,412.5L541.4,412.4L541.9,412.7L542.5,412.7L543.1,412.4L543.6,412.5L544.2,412.8L544.7,412.4L545.3,412.6L545.9,412.5L546.4,412.6L547.0,412.6L547.5,412.6L548.1,412.8L548.7,412.6L549.2,412.8L549.8,412.7L550.3,412.8L550.9,412.8L551.5,412.7L552.0,412.8L552.6,412.7L553.2,412.8L553.7,413.0L554.3,412.7L554.8,413.0L555.4,413.0L556.0,412.9L556.5,413.1L557.1,413.1L557.6,412.8L558.2,413.1L558.8,413.1L559.3,412.9L559.9,413.1L560.4,413.1L561.0,412.9L561.6,412.8L562.1,413.1L562.7,412.9L563.2,412.8L563.8,413.1L564.4,412.8L564.9,413.1L565.5,413.3L566.0,412.8L566.6,413.2L567.2,413.1L567.7,413.2L568.3,413.1L568.8,413.3L569.4,413.2L570.0,413.2L570.5,413.1L571.1,413.2L571.6,413.4L572.2,413.1L572.8,413.3L573.3,413.3L573.9,413.1L574.4,413.4L575.0,413.3L575.6,413.6L576.1,413.5L576.7,413.4L577.2,413.4L577.8,413.3L578.4,413.3L578.9,413.5L579.5,413.4L580.0,413.4L580.6,413.5L581.2,413.6L581.7,413.7L582.3,413.6L582.8,413.6L583.4,413.6L584.0,413.9L584.5,413.4L585.1,413.5L585.6,413.8L586.2,413.8L586.8,413.9L587.3,413.9L587.9,414.0L588.4,413.7L589.0,413.9L589.6,413.8L590.1,413.9L590.7,413.9L591.2,414.0L591.8,413.8L592.4,413.9L592.9,413.8L593.5,413.9L594.0,413.9L594.6,413.8L595.2,414.0L595.7,413.9L596.3,414.0L596.8,413.8L597.4,413.7L598.0,413.9L598.5,414.0L599.1,414.1L599.7,414.1L600.2,414.1L600.8,414.2L601.3,414.1L601.9,414.0L602.5,413.9L603.0,414.1L603.6,413.9L604.1,413.9L604.7,414.0L605.3,414.0L605.8,414.1L606.4,413.9L606.9,414.1L607.5,414.1L608.1,414.0L608.6,414.0L609.2,413.9L609.7,413.9L610.3,414.3L610.9,413.9L611.4,414.2L612.0,414.1L612.5,414.0L613.1,414.0L613.7,414.0L614.2,414.1L614.8,414.1L615.3,414.1L615.9,413.9L616.5,413.9L617.0,414.3L617.6,413.9L618.1,413.9L618.7,414.3L619.3,414.0L619.8,414.2L620.4,414.2L620.9,414.1L621.5,414.2L622.1,414.0L622.6,414.0L623.2,414.1L623.7,414.1L624.3,414.1L624.9,414.2L625.4,414.1L626.0,413.9L626.5,414.2L627.1,414.1L627.7,414.3L628.2,414.4L628.8,414.2L629.3,414.3L629.9,414.2L630.5,414.4L631.0,414.3L631.6,414.3L632.1,414.4L632.7,414.1L633.3,414.4L633.8,414.3L634.4,414.5L634.9,414.1L635.5,414.3L636.1,414.5L636.6,414.3L637.2,414.3L637.7,414.6L638.3,414.7L638.9,414.4L639.4,414.3L640.0,414.3L640.5,414.3L641.1,414.3L641.7,414.3L642.2,414.4L642.8,414.4L643.3,414.5L643.9,414.5L644.5,414.3L645.0,414.5L645.6,414.5L646.2,414.4L646.7,414.4L647.3,414.5L647.8,414.5L648.4,414.4L649.0,414.6L649.5,414.6L650.1,414.5L650.6,414.5L651.2,414.4L651.8,414.5L652.3,414.5L652.9,414.6L653.4,414.5L654.0,414.5L654.6,414.4L655.1,414.5L655.7,414.4L656.2,414.6L656.8,414.5L657.4,414.4L657.9,414.6L658.5,414.5L659.0,414.7L659.6,414.5L660.2,414.6L660.7,414.7L661.3,414.6L661.8,414.7L662.4,414.5L663.0,414.5L663.5,414.3L664.1,414.5L664.6,414.4L665.2,414.5L665.8,414.3L666.3,414.4L666.9,414.5L667.4,414.6L668.0,414.3" stroke="#b0dd2f" stroke-width="5.2" stroke-linecap="round" stroke-linejoin="round" fill="none"/>
<path d="M426.0,330.1L426.1,333.3L426.2,336.4L426.4,339.1L426.5,341.5L426.6,344.0L426.7,346.3L426.9,348.5L427.0,350.5L427.1,352.4L427.2,354.5L427.4,356.5L427.5,358.1L427.6,359.3L427.7,361.2L427.8,362.6L428.0,364.2L428.1,365.3L428.2,366.9L428.3,367.9L428.5,369.2L428.6,370.3L428.7,370.9L428.8,372.1L429.0,373.3L429.1,374.0L429.2,375.1L429.3,375.8L429.4,376.4L429.6,377.2L429.7,378.1L429.8,378.8L429.9,379.5L430.1,379.7L430.2,380.6L430.3,380.9L430.4,381.6L430.6,382.1L430.7,382.7L430.8,383.2L430.9,383.8L431.0,384.0L431.2,384.6L431.3,385.0L431.4,385.4L431.5,385.5L431.7,386.1L431.8,386.5L431.9,386.9L432.0,387.1L432.2,387.4L432.3,387.8L432.4,388.1L432.5,388.5L432.6,389.0L432.8,388.8L432.9,389.5L433.0,389.0L433.1,389.8L433.3,389.8L433.8,391.2L434.4,391.6L434.9,392.7L435.5,393.2L436.1,393.8L436.6,394.7L437.2,395.3L437.7,395.6L438.3,396.5L438.9,396.6L439.4,397.4L440.0,397.5L440.5,397.9L441.1,398.5L441.7,398.7L442.2,399.3L442.8,399.3L443.3,400.0L443.9,400.3L444.5,400.5L445.0,401.0L445.6,401.2L446.1,401.5L446.7,401.9L447.3,402.1L447.8,402.4L448.4,402.8L448.9,402.8L449.5,403.2L450.1,403.3L450.6,403.6L451.2,403.9L451.7,403.9L452.3,404.0L452.9,404.3L453.4,404.5L454.0,404.9L454.5,405.0L455.1,405.2L455.7,405.5L456.2,405.7L456.8,406.0L457.4,405.9L457.9,406.3L458.5,406.4L459.0,406.4L459.6,406.7L460.2,406.7L460.7,407.0L461.3,407.2L461.8,407.0L462.4,407.2L463.0,407.4L463.5,407.7L464.1,407.6L464.6,407.9L465.2,407.8L465.8,408.0L466.3,408.3L466.9,408.4L467.4,408.5L468.0,408.6L468.6,408.9L469.1,409.1L469.7,408.9L470.2,409.0L470.8,409.1L471.4,409.6L471.9,409.3L472.5,409.4L473.0,409.7L473.6,409.9L474.2,409.7L474.7,410.0L475.3,409.8L475.8,410.1L476.4,410.5L477.0,410.4L477.5,410.4L478.1,410.6L478.6,410.7L479.2,410.7L479.8,410.6L480.3,410.7L480.9,411.3L481.4,410.9L482.0,411.3L482.6,411.1L483.1,411.5L483.7,411.5L484.2,411.5L484.8,411.9L485.4,411.5L485.9,411.7L486.5,411.7L487.0,411.7L487.6,411.9L488.2,411.9L488.7,412.0L489.3,412.4L489.8,412.0L490.4,412.1L491.0,412.2L491.5,412.3L492.1,412.6L492.6,412.6L493.2,412.6L493.8,412.7L494.3,413.1L494.9,412.6L495.4,412.7L496.0,412.9L496.6,412.9L497.1,412.9L497.7,412.9L498.2,412.8L498.8,413.0L499.4,413.0L499.9,413.1L500.5,413.0L501.0,413.4L501.6,413.4L502.2,413.7L502.7,413.4L503.3,413.5L503.9,413.5L504.4,413.6L505.0,413.6L505.5,413.7L506.1,413.5L506.7,413.7L507.2,413.9L507.8,413.5L508.3,413.8L508.9,414.0L509.5,414.1L510.0,414.0L510.6,414.1L511.1,414.3L511.7,414.3L512.3,414.0L512.8,414.1L513.4,414.3L513.9,414.3L514.5,414.2L515.1,414.3L515.6,414.4L516.2,414.3L516.7,414.3L517.3,414.4L517.9,414.2L518.4,414.7L519.0,414.7L519.5,414.8L520.1,414.6L520.7,414.6L521.2,414.8L521.8,414.9L522.3,414.5L522.9,414.9L523.5,414.7L524.0,414.9L524.6,414.8L525.1,415.2L525.7,415.1L526.3,415.0L526.8,415.2L527.4,415.0L527.9,414.9L528.5,415.0L529.1,415.0L529.6,415.1L530.2,415.2L530.7,415.1L531.3,415.1L531.9,415.3L532.4,415.2L533.0,415.3L533.5,415.2L534.1,415.0L534.7,415.1L535.2,415.0L535.8,415.5L536.3,415.4L536.9,415.2L537.5,415.2L538.0,415.4L538.6,415.4L539.1,415.5L539.7,415.4L540.3,415.4L540.8,415.8L541.4,415.5L541.9,415.6L542.5,415.8L543.1,415.4L543.6,415.8L544.2,415.7L544.7,415.7L545.3,415.7L545.9,415.5L546.4,415.3L547.0,416.0L547.5,415.7L548.1,415.9L548.7,415.9L549.2,415.9L549.8,415.9L550.3,416.0L550.9,416.1L551.5,416.0L552.0,416.1L552.6,415.9L553.2,416.0L553.7,416.1L554.3,416.1L554.8,416.2L555.4,416.5L556.0,416.3L556.5,416.2L557.1,416.5L557.6,416.2L558.2,416.3L558.8,416.3L559.3,416.2L559.9,416.1L560.4,416.3L561.0,416.3L561.6,416.2L562.1,416.3L562.7,416.3L563.2,416.3L563.8,416.1L564.4,416.3L564.9,416.6L565.5,416.5L566.0,416.6L566.6,416.4L567.2,416.6L567.7,416.4L568.3,416.4L568.8,416.6L569.4,416.3L570.0,416.6L570.5,416.6L571.1,416.8L571.6,416.5L572.2,416.7L572.8,416.5L573.3,416.5L573.9,416.2L574.4,416.5L575.0,416.8L575.6,416.7L576.1,416.7L576.7,417.0L577.2,416.7L577.8,416.5L578.4,416.7L578.9,416.7L579.5,416.9L580.0,416.6L580.6,416.8L581.2,416.9L581.7,416.7L582.3,416.8L582.8,416.5L583.4,416.8L584.0,416.5L584.5,416.7L585.1,417.0L585.6,416.9L586.2,416.9L586.8,416.9L587.3,417.2L587.9,417.0L588.4,417.1L589.0,416.9L589.6,416.9L590.1,416.8L590.7,416.9L591.2,416.9L591.8,417.2L592.4,417.1L592.9,417.0L593.5,417.0L594.0,416.6L594.6,417.0L595.2,417.1L595.7,417.2L596.3,416.7L596.8,416.8L597.4,417.1L598.0,417.0L598.5,417.1L599.1,417.1L599.7,417.3L600.2,416.9L600.8,417.1L601.3,417.3L601.9,417.2L602.5,417.1L603.0,417.3L603.6,417.2L604.1,417.1L604.7,417.3L605.3,417.3L605.8,417.3L606.4,417.5L606.9,417.2L607.5,417.5L608.1,417.4L608.6,417.2L609.2,417.2L609.7,417.5L610.3,417.2L610.9,417.2L611.4,417.2L612.0,417.2L612.5,417.5L613.1,417.7L613.7,417.6L614.2,417.4L614.8,417.5L615.3,417.3L615.9,417.3L616.5,417.2L617.0,417.7L617.6,417.4L618.1,417.4L618.7,417.4L619.3,417.5L619.8,417.4L620.4,417.5L620.9,417.5L621.5,417.7L622.1,417.3L622.6,417.5L623.2,417.4L623.7,417.5L624.3,417.7L624.9,417.6L625.4,417.4L626.0,417.6L626.5,417.5L627.1,417.7L627.7,417.4L628.2,417.5L628.8,417.4L629.3,417.5L629.9,417.5L630.5,417.4L631.0,417.5L631.6,417.7L632.1,417.5L632.7,417.5L633.3,417.6L633.8,417.5L634.4,417.7L634.9,417.7L635.5,417.2L636.1,417.5L636.6,417.4L637.2,417.7L637.7,417.7L638.3,417.3L638.9,417.4L639.4,417.5L640.0,417.4L640.5,417.6L641.1,417.6L641.7,417.5L642.2,417.6L642.8,417.6L643.3,417.5L643.9,417.4L644.5,417.4L645.0,417.6L645.6,417.7L646.2,417.7L646.7,417.5L647.3,417.5L647.8,417.6L648.4,417.8L649.0,417.7L649.5,417.7L650.1,417.6L650.6,417.8L651.2,417.8L651.8,417.6L652.3,418.0L652.9,417.6L653.4,417.9L654.0,417.8L654.6,417.8L655.1,417.7L655.7,417.7L656.2,417.9L656.8,417.8L657.4,417.8L657.9,418.0L658.5,418.0L659.0,417.9L659.6,417.9L660.2,418.1L660.7,417.9L661.3,418.0L661.8,417.9L662.4,417.7L663.0,417.6L663.5,417.9L664.1,418.1L664.6,417.9L665.2,417.8L665.8,417.8L666.3,418.0L666.9,417.8L667.4,417.6L668.0,418.0" stroke="#6ccd5a" stroke-width="5.2" stroke-linecap="round" stroke-linejoin="round" fill="none"/>
<path d="M426.0,342.0L426.1,344.8L426.2,347.7L426.4,350.7L426.5,352.6L426.6,355.2L426.7,357.7L426.9,359.7L427.0,362.0L427.1,364.2L427.2,365.4L427.4,367.4L427.5,368.0L427.6,370.5L427.7,372.4L427.8,373.2L428.0,375.5L428.1,375.7L428.2,378.1L428.3,378.6L428.5,379.6L428.6,380.9L428.7,382.0L428.8,382.8L429.0,383.6L429.1,384.8L429.2,386.2L429.3,386.8L429.4,388.0L429.6,388.1L429.7,388.9L429.8,389.6L429.9,390.4L430.1,391.2L430.2,392.3L430.3,392.5L430.4,392.9L430.6,393.8L430.7,393.6L430.8,393.9L430.9,395.1L431.0,395.4L431.2,395.8L431.3,396.6L431.4,396.5L431.5,397.0L431.7,397.6L431.8,398.0L431.9,398.5L432.0,398.6L432.2,399.0L432.3,398.3L432.4,399.9L432.5,399.3L432.6,400.1L432.8,401.3L432.9,400.6L433.0,400.4L433.1,401.8L433.3,401.3L433.8,402.5L434.4,403.4L434.9,404.6L435.5,405.3L436.1,405.7L436.6,406.8L437.2,406.7L437.7,407.8L438.3,407.9L438.9,408.8L439.4,408.8L440.0,409.3L440.5,410.4L441.1,409.9L441.7,410.3L442.2,411.3L442.8,411.4L443.3,411.7L443.9,412.1L444.5,413.3L445.0,412.5L445.6,413.1L446.1,413.5L446.7,413.4L447.3,414.0L447.8,414.5L448.4,414.3L448.9,415.2L449.5,414.7L450.1,415.3L450.6,415.7L451.2,416.9L451.7,415.4L452.3,416.4L452.9,417.4L453.4,416.5L454.0,417.3L454.5,417.2L455.1,416.8L455.7,417.7L456.2,417.4L456.8,417.9L457.4,417.5L457.9,418.5L458.5,417.6L459.0,418.5L459.6,419.2L460.2,419.1L460.7,418.9L461.3,419.1L461.8,419.2L462.4,420.5L463.0,419.6L463.5,419.8L464.1,419.7L464.6,419.9L465.2,420.4L465.8,420.1L466.3,420.2L466.9,420.4L467.4,420.6L468.0,420.9L468.6,420.8L469.1,421.0L469.7,420.9L470.2,421.7L470.8,421.4L471.4,421.4L471.9,421.7L472.5,421.7L473.0,421.2L473.6,421.8L474.2,422.6L474.7,422.2L475.3,422.6L475.8,422.0L476.4,421.8L477.0,422.2L477.5,423.0L478.1,422.3L478.6,422.4L479.2,423.2L479.8,422.8L480.3,422.9L480.9,423.1L481.4,423.1L482.0,423.1L482.6,423.3L483.1,423.1L483.7,423.4L484.2,423.7L484.8,423.2L485.4,423.5L485.9,423.3L486.5,424.0L487.0,424.0L487.6,424.2L488.2,424.3L488.7,424.4L489.3,424.3L489.8,423.8L490.4,424.5L491.0,423.9L491.5,425.1L492.1,424.5L492.6,424.6L493.2,424.0L493.8,424.9L494.3,425.0L494.9,424.1L495.4,424.5L496.0,424.6L496.6,424.6L497.1,425.3L497.7,425.7L498.2,424.6L498.8,425.4L499.4,425.0L499.9,425.6L500.5,424.3L501.0,425.0L501.6,425.7L502.2,425.0L502.7,425.8L503.3,425.2L503.9,425.8L504.4,425.7L505.0,425.4L505.5,425.3L506.1,425.5L506.7,426.1L507.2,425.7L507.8,425.5L508.3,426.9L508.9,425.3L509.5,425.8L510.0,426.1L510.6,425.6L511.1,426.0L511.7,425.9L512.3,425.5L512.8,426.3L513.4,425.7L513.9,425.9L514.5,426.6L515.1,425.8L515.6,426.5L516.2,426.7L516.7,426.7L517.3,426.5L517.9,426.3L518.4,426.0L519.0,426.5L519.5,426.7L520.1,426.4L520.7,426.2L521.2,426.9L521.8,426.3L522.3,426.8L522.9,426.5L523.5,426.1L524.0,427.3L524.6,427.0L525.1,427.0L525.7,426.4L526.3,426.8L526.8,427.0L527.4,426.7L527.9,427.6L528.5,426.3L529.1,427.3L529.6,426.4L530.2,426.5L530.7,426.7L531.3,427.3L531.9,426.9L532.4,427.0L533.0,426.9L533.5,426.7L534.1,426.9L534.7,426.9L535.2,427.2L535.8,427.2L536.3,426.5L536.9,427.2L537.5,427.8L538.0,427.3L538.6,427.4L539.1,427.2L539.7,427.3L540.3,427.5L540.8,427.1L541.4,427.5L541.9,427.0L542.5,427.7L543.1,427.1L543.6,427.9L544.2,428.0L544.7,427.1L545.3,427.9L545.9,427.6L546.4,428.2L547.0,427.6L547.5,427.7L548.1,427.7L548.7,428.3L549.2,427.2L549.8,428.1L550.3,427.9L550.9,427.7L551.5,427.8L552.0,428.3L552.6,428.3L553.2,428.6L553.7,427.8L554.3,427.4L554.8,427.8L555.4,428.0L556.0,427.9L556.5,428.5L557.1,428.9L557.6,428.3L558.2,427.5L558.8,428.5L559.3,427.9L559.9,428.2L560.4,428.5L561.0,428.4L561.6,428.2L562.1,428.4L562.7,428.5L563.2,428.5L563.8,429.0L564.4,427.3L564.9,428.1L565.5,428.1L566.0,428.6L566.6,428.5L567.2,428.7L567.7,427.9L568.3,428.3L568.8,428.7L569.4,428.4L570.0,428.3L570.5,428.6L571.1,429.1L571.6,427.8L572.2,429.1L572.8,428.6L573.3,428.2L573.9,428.8L574.4,428.6L575.0,429.0L575.6,428.3L576.1,428.9L576.7,428.3L577.2,428.7L577.8,428.9L578.4,428.6L578.9,428.9L579.5,428.5L580.0,429.1L580.6,428.5L581.2,428.5L581.7,428.7L582.3,428.7L582.8,428.5L583.4,429.0L584.0,428.7L584.5,429.0L585.1,428.3L585.6,428.3L586.2,428.7L586.8,428.5L587.3,428.8L587.9,429.0L588.4,429.2L589.0,429.4L589.6,429.2L590.1,428.6L590.7,429.1L591.2,428.7L591.8,429.1L592.4,428.6L592.9,429.4L593.5,429.1L594.0,428.9L594.6,428.5L595.2,429.1L595.7,428.8L596.3,429.1L596.8,428.8L597.4,428.8L598.0,429.2L598.5,429.5L599.1,428.6L599.7,429.0L600.2,429.2L600.8,429.0L601.3,428.9L601.9,429.8L602.5,428.8L603.0,429.2L603.6,428.9L604.1,429.1L604.7,428.3L605.3,429.4L605.8,429.1L606.4,428.8L606.9,429.7L607.5,429.1L608.1,429.0L608.6,428.9L609.2,429.6L609.7,429.2L610.3,429.1L610.9,428.7L611.4,428.9L612.0,429.3L612.5,429.2L613.1,428.5L613.7,428.9L614.2,429.3L614.8,430.2L615.3,429.0L615.9,428.5L616.5,429.5L617.0,429.1L617.6,428.8L618.1,429.5L618.7,429.2L619.3,429.0L619.8,428.8L620.4,429.3L620.9,429.3L621.5,428.7L622.1,429.7L622.6,428.9L623.2,429.8L623.7,429.5L624.3,429.3L624.9,429.5L625.4,429.2L626.0,429.3L626.5,430.0L627.1,429.2L627.7,429.7L628.2,429.1L628.8,429.4L629.3,429.7L629.9,429.0L630.5,429.5L631.0,428.7L631.6,429.0L632.1,429.3L632.7,429.7L633.3,429.7L633.8,429.1L634.4,429.4L634.9,429.5L635.5,428.9L636.1,429.6L636.6,429.9L637.2,429.9L637.7,429.3L638.3,429.3L638.9,429.2L639.4,429.3L640.0,429.4L640.5,429.7L641.1,429.5L641.7,429.2L642.2,429.8L642.8,429.8L643.3,429.3L643.9,429.4L644.5,429.5L645.0,429.0L645.6,429.6L646.2,429.8L646.7,430.2L647.3,429.6L647.8,429.5L648.4,429.5L649.0,429.8L649.5,429.8L650.1,429.3L650.6,429.6L651.2,429.8L651.8,428.9L652.3,430.1L652.9,429.5L653.4,429.9L654.0,429.6L654.6,429.5L655.1,429.6L655.7,429.7L656.2,429.9L656.8,429.5L657.4,429.2L657.9,429.4L658.5,429.3L659.0,429.9L659.6,429.3L660.2,430.2L660.7,429.7L661.3,429.6L661.8,430.1L662.4,429.5L663.0,429.5L663.5,429.9L664.1,429.9L664.6,429.3L665.2,430.5L665.8,429.9L666.3,429.2L666.9,429.6L667.4,430.0L668.0,429.7" stroke="#1f9e89" stroke-width="5.2" stroke-linecap="round" stroke-linejoin="round" fill="none"/>
<path d="M426.0,355.0L426.1,357.2L426.2,359.9L426.4,362.6L426.5,365.7L426.6,367.3L426.7,369.3L426.9,371.3L427.0,372.9L427.1,375.1L427.2,376.8L427.4,377.8L427.5,379.8L427.6,382.9L427.7,383.2L427.8,384.3L428.0,385.9L428.1,386.5L428.2,388.2L428.3,389.6L428.5,389.7L428.6,391.1L428.7,392.3L428.8,393.3L429.0,394.1L429.1,395.3L429.2,396.4L429.3,396.9L429.4,398.0L429.6,398.7L429.7,398.8L429.8,399.8L429.9,400.2L430.1,401.3L430.2,401.5L430.3,402.1L430.4,403.4L430.6,403.2L430.7,403.2L430.8,404.3L430.9,404.9L431.0,405.0L431.2,405.7L431.3,406.5L431.4,406.3L431.5,406.8L431.7,407.0L431.8,407.7L431.9,407.9L432.0,407.9L432.2,408.6L432.3,409.6L432.4,408.6L432.5,409.0L432.6,410.0L432.8,409.6L432.9,411.1L433.0,410.0L433.1,410.4L433.3,410.9L433.8,412.6L434.4,413.4L434.9,414.1L435.5,414.7L436.1,415.8L436.6,415.2L437.2,416.5L437.7,417.5L438.3,417.0L438.9,418.0L439.4,418.8L440.0,419.2L440.5,419.0L441.1,420.2L441.7,420.0L442.2,420.6L442.8,420.1L443.3,420.5L443.9,420.8L444.5,422.1L445.0,420.8L445.6,421.2L446.1,422.5L446.7,422.6L447.3,421.6L447.8,422.8L448.4,423.1L448.9,423.9L449.5,422.9L450.1,423.7L450.6,424.5L451.2,424.6L451.7,424.2L452.3,424.6L452.9,424.4L453.4,425.6L454.0,425.1L454.5,426.0L455.1,426.0L455.7,425.5L456.2,425.9L456.8,426.4L457.4,426.5L457.9,427.1L458.5,427.0L459.0,426.9L459.6,427.2L460.2,426.8L460.7,427.0L461.3,427.6L461.8,427.6L462.4,427.1L463.0,427.7L463.5,427.5L464.1,427.7L464.6,428.6L465.2,427.8L465.8,428.0L466.3,428.6L466.9,428.5L467.4,428.7L468.0,428.2L468.6,428.8L469.1,428.8L469.7,428.7L470.2,428.9L470.8,429.1L471.4,429.6L471.9,430.1L472.5,429.5L473.0,430.2L473.6,429.7L474.2,429.2L474.7,429.9L475.3,430.4L475.8,430.5L476.4,429.7L477.0,431.0L477.5,429.9L478.1,430.0L478.6,430.2L479.2,431.0L479.8,430.7L480.3,430.9L480.9,429.8L481.4,430.7L482.0,430.8L482.6,431.1L483.1,430.7L483.7,431.5L484.2,430.8L484.8,430.6L485.4,430.5L485.9,431.7L486.5,431.6L487.0,431.1L487.6,431.8L488.2,431.4L488.7,431.5L489.3,431.0L489.8,431.4L490.4,431.7L491.0,431.8L491.5,431.6L492.1,432.2L492.6,432.5L493.2,431.6L493.8,432.2L494.3,431.5L494.9,432.3L495.4,431.8L496.0,432.1L496.6,432.3L497.1,432.2L497.7,432.7L498.2,432.1L498.8,432.2L499.4,432.6L499.9,432.5L500.5,432.7L501.0,432.5L501.6,432.3L502.2,432.9L502.7,432.8L503.3,433.1L503.9,433.3L504.4,432.7L505.0,432.6L505.5,432.7L506.1,432.7L506.7,432.2L507.2,433.7L507.8,433.2L508.3,434.0L508.9,432.9L509.5,433.4L510.0,433.3L510.6,433.2L511.1,433.7L511.7,433.3L512.3,433.3L512.8,433.4L513.4,432.6L513.9,433.2L514.5,433.2L515.1,434.1L515.6,433.8L516.2,433.9L516.7,433.8L517.3,433.6L517.9,434.3L518.4,433.6L519.0,433.2L519.5,434.0L520.1,434.2L520.7,433.9L521.2,434.0L521.8,434.2L522.3,434.5L522.9,434.2L523.5,434.6L524.0,434.1L524.6,434.8L525.1,433.5L525.7,434.4L526.3,434.2L526.8,434.2L527.4,433.6L527.9,434.6L528.5,434.1L529.1,433.8L529.6,434.0L530.2,434.2L530.7,434.3L531.3,434.0L531.9,434.0L532.4,434.5L533.0,434.4L533.5,435.2L534.1,434.3L534.7,434.7L535.2,435.1L535.8,434.4L536.3,434.9L536.9,434.7L537.5,434.6L538.0,435.2L538.6,434.2L539.1,434.4L539.7,434.0L540.3,434.6L540.8,435.1L541.4,434.6L541.9,435.0L542.5,434.4L543.1,435.2L543.6,434.7L544.2,434.6L544.7,435.4L545.3,434.8L545.9,435.1L546.4,434.9L547.0,435.2L547.5,435.0L548.1,434.5L548.7,435.1L549.2,435.1L549.8,435.1L550.3,434.9L550.9,435.7L551.5,434.7L552.0,435.1L552.6,435.1L553.2,434.7L553.7,434.6L554.3,435.4L554.8,435.4L555.4,435.2L556.0,434.5L556.5,435.1L557.1,435.3L557.6,435.4L558.2,435.7L558.8,435.4L559.3,435.6L559.9,435.9L560.4,434.4L561.0,435.7L561.6,435.1L562.1,435.5L562.7,435.4L563.2,435.0L563.8,435.0L564.4,435.5L564.9,435.3L565.5,435.7L566.0,435.3L566.6,436.2L567.2,435.3L567.7,436.2L568.3,435.2L568.8,435.7L569.4,435.9L570.0,435.0L570.5,435.1L571.1,435.7L571.6,436.0L572.2,436.1L572.8,435.8L573.3,436.0L573.9,435.1L574.4,435.4L575.0,436.2L575.6,435.4L576.1,435.5L576.7,435.0L577.2,435.6L577.8,435.1L578.4,435.8L578.9,436.2L579.5,435.8L580.0,435.8L580.6,435.6L581.2,435.9L581.7,435.3L582.3,435.6L582.8,436.6L583.4,435.3L584.0,435.6L584.5,435.2L585.1,436.3L585.6,435.7L586.2,435.3L586.8,435.3L587.3,436.3L587.9,436.1L588.4,436.2L589.0,435.8L589.6,436.2L590.1,436.4L590.7,436.1L591.2,435.3L591.8,435.1L592.4,435.3L592.9,436.0L593.5,435.3L594.0,435.5L594.6,435.9L595.2,435.6L595.7,435.5L596.3,436.3L596.8,436.2L597.4,436.3L598.0,436.3L598.5,436.5L599.1,436.0L599.7,435.9L600.2,435.3L600.8,435.9L601.3,435.8L601.9,436.4L602.5,436.3L603.0,436.6L603.6,436.5L604.1,436.5L604.7,436.3L605.3,436.1L605.8,435.9L606.4,436.1L606.9,435.7L607.5,436.2L608.1,436.1L608.6,435.3L609.2,435.1L609.7,435.8L610.3,435.9L610.9,436.0L611.4,436.6L612.0,435.9L612.5,435.7L613.1,436.3L613.7,436.5L614.2,436.8L614.8,435.8L615.3,436.1L615.9,436.0L616.5,436.8L617.0,436.5L617.6,436.2L618.1,436.5L618.7,436.1L619.3,436.1L619.8,436.2L620.4,436.0L620.9,436.1L621.5,436.4L622.1,436.3L622.6,436.8L623.2,436.6L623.7,436.2L624.3,435.4L624.9,435.7L625.4,436.1L626.0,436.1L626.5,435.8L627.1,436.1L627.7,436.3L628.2,436.0L628.8,436.2L629.3,436.3L629.9,436.0L630.5,436.0L631.0,436.3L631.6,436.4L632.1,435.9L632.7,435.5L633.3,436.0L633.8,436.5L634.4,435.7L634.9,436.7L635.5,436.1L636.1,436.4L636.6,436.1L637.2,436.6L637.7,436.4L638.3,436.5L638.9,435.6L639.4,436.6L640.0,435.7L640.5,436.2L641.1,436.6L641.7,436.3L642.2,436.6L642.8,436.5L643.3,436.4L643.9,436.1L644.5,436.8L645.0,436.8L645.6,436.2L646.2,436.1L646.7,436.5L647.3,436.1L647.8,436.5L648.4,436.7L649.0,436.7L649.5,437.0L650.1,436.6L650.6,436.0L651.2,436.1L651.8,436.6L652.3,437.2L652.9,436.3L653.4,436.1L654.0,437.0L654.6,436.4L655.1,436.7L655.7,436.9L656.2,436.1L656.8,436.3L657.4,436.3L657.9,436.7L658.5,436.7L659.0,436.3L659.6,436.7L660.2,435.8L660.7,436.6L661.3,436.6L661.8,436.5L662.4,436.0L663.0,436.5L663.5,436.1L664.1,437.1L664.6,436.4L665.2,436.4L665.8,436.5L666.3,436.7L666.9,436.5L667.4,436.7L668.0,436.2" stroke="#2a788e" stroke-width="5.2" stroke-linecap="round" stroke-linejoin="round" fill="none"/>
<path d="M426.0,362.5L426.1,364.9L426.2,367.7L426.4,370.0L426.5,372.3L426.6,373.9L426.7,377.2L426.9,378.6L427.0,380.2L427.1,382.0L427.2,382.4L427.4,385.5L427.5,386.1L427.6,388.3L427.7,388.9L427.8,391.2L428.0,391.7L428.1,393.1L428.2,395.0L428.3,395.9L428.5,395.8L428.6,397.1L428.7,398.5L428.8,399.2L429.0,400.6L429.1,400.7L429.2,401.0L429.3,402.2L429.4,403.2L429.6,404.3L429.7,405.0L429.8,405.9L429.9,406.1L430.1,406.5L430.2,407.5L430.3,407.6L430.4,408.0L430.6,408.5L430.7,409.6L430.8,410.3L430.9,410.7L431.0,409.8L431.2,411.4L431.3,410.9L431.4,411.6L431.5,412.4L431.7,411.9L431.8,412.3L431.9,412.8L432.0,414.2L432.2,414.3L432.3,413.7L432.4,414.4L432.5,414.7L432.6,415.0L432.8,414.8L432.9,416.1L433.0,415.5L433.1,416.3L433.3,415.4L433.8,417.3L434.4,418.0L434.9,419.3L435.5,418.2L436.1,420.2L436.6,420.9L437.2,420.9L437.7,422.1L438.3,422.9L438.9,422.8L439.4,423.1L440.0,423.7L440.5,423.7L441.1,424.4L441.7,424.4L442.2,424.2L442.8,424.3L443.3,425.6L443.9,425.6L444.5,425.3L445.0,425.9L445.6,426.8L446.1,425.6L446.7,426.2L447.3,427.1L447.8,427.4L448.4,426.7L448.9,427.0L449.5,427.8L450.1,428.5L450.6,428.1L451.2,427.2L451.7,428.9L452.3,428.6L452.9,428.6L453.4,428.4L454.0,429.7L454.5,429.4L455.1,429.6L455.7,429.8L456.2,430.0L456.8,430.3L457.4,430.8L457.9,429.7L458.5,430.3L459.0,430.3L459.6,431.4L460.2,430.6L460.7,430.1L461.3,431.0L461.8,430.8L462.4,430.9L463.0,431.1L463.5,430.8L464.1,430.7L464.6,432.5L465.2,431.7L465.8,431.4L466.3,432.2L466.9,432.7L467.4,431.4L468.0,432.0L468.6,432.5L469.1,432.1L469.7,432.7L470.2,432.1L470.8,432.4L471.4,432.7L471.9,433.1L472.5,433.0L473.0,432.7L473.6,432.9L474.2,432.2L474.7,434.2L475.3,433.1L475.8,433.3L476.4,433.6L477.0,433.8L477.5,433.8L478.1,433.4L478.6,433.0L479.2,433.7L479.8,433.5L480.3,433.7L480.9,434.0L481.4,434.2L482.0,434.7L482.6,434.1L483.1,433.5L483.7,434.6L484.2,434.8L484.8,433.7L485.4,434.7L485.9,434.6L486.5,434.3L487.0,434.7L487.6,434.9L488.2,435.0L488.7,435.3L489.3,434.8L489.8,434.9L490.4,436.0L491.0,434.5L491.5,434.9L492.1,434.9L492.6,435.5L493.2,435.7L493.8,434.6L494.3,435.8L494.9,434.8L495.4,436.5L496.0,435.1L496.6,435.9L497.1,435.4L497.7,435.8L498.2,435.2L498.8,435.7L499.4,435.7L499.9,435.7L500.5,436.1L501.0,435.6L501.6,435.6L502.2,435.2L502.7,435.8L503.3,435.7L503.9,436.3L504.4,436.3L505.0,435.7L505.5,436.2L506.1,436.7L506.7,436.0L507.2,435.6L507.8,437.3L508.3,436.5L508.9,436.6L509.5,437.4L510.0,436.0L510.6,436.5L511.1,435.5L511.7,436.6L512.3,436.6L512.8,436.1L513.4,436.1L513.9,436.5L514.5,436.5L515.1,437.3L515.6,436.5L516.2,436.6L516.7,436.6L517.3,436.0L517.9,436.5L518.4,436.1L519.0,436.8L519.5,435.8L520.1,436.3L520.7,437.0L521.2,435.9L521.8,436.2L522.3,437.4L522.9,436.4L523.5,437.0L524.0,437.2L524.6,436.6L525.1,436.3L525.7,437.8L526.3,436.9L526.8,437.4L527.4,436.8L527.9,437.3L528.5,436.6L529.1,436.6L529.6,436.8L530.2,437.0L530.7,437.0L531.3,437.2L531.9,437.5L532.4,437.1L533.0,437.8L533.5,437.1L534.1,437.7L534.7,438.0L535.2,438.2L535.8,436.6L536.3,438.3L536.9,436.7L537.5,438.2L538.0,437.5L538.6,437.7L539.1,437.2L539.7,438.0L540.3,437.9L540.8,437.4L541.4,437.4L541.9,438.1L542.5,438.2L543.1,438.1L543.6,437.6L544.2,437.8L544.7,438.2L545.3,438.2L545.9,438.3L546.4,437.9L547.0,437.5L547.5,438.0L548.1,438.1L548.7,437.6L549.2,438.1L549.8,437.5L550.3,438.1L550.9,437.7L551.5,438.9L552.0,438.5L552.6,438.1L553.2,437.4L553.7,437.5L554.3,438.4L554.8,438.0L555.4,438.2L556.0,437.4L556.5,437.4L557.1,438.2L557.6,438.0L558.2,437.5L558.8,437.8L559.3,438.5L559.9,438.0L560.4,438.4L561.0,438.9L561.6,438.4L562.1,438.3L562.7,438.0L563.2,438.8L563.8,437.6L564.4,437.8L564.9,438.3L565.5,437.6L566.0,438.8L566.6,438.0L567.2,438.6L567.7,438.2L568.3,438.2L568.8,438.4L569.4,437.5L570.0,437.9L570.5,438.2L571.1,439.4L571.6,438.8L572.2,438.8L572.8,438.0L573.3,438.9L573.9,439.0L574.4,438.8L575.0,439.7L575.6,437.9L576.1,438.0L576.7,438.4L577.2,438.1L577.8,438.6L578.4,438.8L578.9,438.6L579.5,438.6L580.0,438.8L580.6,438.9L581.2,438.3L581.7,438.3L582.3,439.2L582.8,438.5L583.4,438.3L584.0,438.8L584.5,438.5L585.1,438.7L585.6,438.6L586.2,439.0L586.8,439.1L587.3,438.3L587.9,438.2L588.4,439.4L589.0,438.4L589.6,438.0L590.1,437.9L590.7,438.7L591.2,438.5L591.8,437.9L592.4,438.3L592.9,438.3L593.5,439.2L594.0,438.9L594.6,438.8L595.2,438.2L595.7,438.7L596.3,439.1L596.8,438.9L597.4,439.3L598.0,438.9L598.5,439.2L599.1,439.1L599.7,438.6L600.2,439.5L600.8,439.0L601.3,439.2L601.9,438.4L602.5,438.4L603.0,438.8L603.6,438.5L604.1,439.2L604.7,439.1L605.3,439.5L605.8,439.2L606.4,438.4L606.9,439.4L607.5,438.7L608.1,438.6L608.6,439.0L609.2,439.0L609.7,439.4L610.3,440.2L610.9,439.2L611.4,439.6L612.0,438.9L612.5,439.2L613.1,438.8L613.7,438.8L614.2,439.6L614.8,439.2L615.3,439.2L615.9,438.7L616.5,439.8L617.0,439.0L617.6,438.8L618.1,439.0L618.7,439.4L619.3,439.4L619.8,439.7L620.4,438.6L620.9,438.9L621.5,439.8L622.1,440.1L622.6,438.8L623.2,439.1L623.7,438.4L624.3,438.7L624.9,438.7L625.4,439.1L626.0,438.6L626.5,439.5L627.1,439.1L627.7,439.0L628.2,439.5L628.8,439.0L629.3,438.6L629.9,439.2L630.5,440.1L631.0,439.2L631.6,439.4L632.1,439.1L632.7,439.1L633.3,439.4L633.8,438.0L634.4,438.6L634.9,438.9L635.5,439.1L636.1,439.8L636.6,440.3L637.2,439.5L637.7,439.4L638.3,439.5L638.9,439.9L639.4,438.8L640.0,439.0L640.5,439.3L641.1,439.4L641.7,438.4L642.2,439.4L642.8,438.5L643.3,439.6L643.9,439.6L644.5,438.2L645.0,439.5L645.6,439.3L646.2,439.0L646.7,439.7L647.3,440.2L647.8,439.5L648.4,438.8L649.0,438.6L649.5,438.7L650.1,438.8L650.6,439.8L651.2,439.4L651.8,439.3L652.3,439.7L652.9,439.3L653.4,439.3L654.0,438.9L654.6,439.0L655.1,439.3L655.7,438.8L656.2,440.0L656.8,439.4L657.4,439.1L657.9,439.8L658.5,438.8L659.0,439.8L659.6,439.4L660.2,440.2L660.7,439.1L661.3,439.1L661.8,439.0L662.4,438.8L663.0,439.4L663.5,438.9L664.1,439.5L664.6,439.1L665.2,439.8L665.8,438.2L666.3,439.5L666.9,439.4L667.4,439.4L668.0,439.1" stroke="#2d708e" stroke-width="5.2" stroke-linecap="round" stroke-linejoin="round" fill="none"/>
<path d="M426.0,370.2h0M426.1,372.5h0M426.2,376.0h0M426.4,377.2h0M426.5,379.8h0M426.6,381.4h0M426.7,384.2h0M426.9,384.6h0M427.0,387.5h0M427.1,389.6h0M427.2,389.6h0M427.4,392.1h0M427.5,391.9h0M427.6,394.4h0M427.7,396.0h0M427.8,396.2h0M428.0,396.8h0M428.1,399.2h0M428.2,400.0h0M428.3,401.4h0M428.5,402.5h0M428.6,403.8h0M428.7,405.2h0M428.8,405.3h0M429.0,404.8h0M429.1,407.1h0M429.2,407.7h0M429.3,408.3h0M429.4,410.0h0M429.6,409.7h0M429.7,409.9h0M429.8,411.1h0M429.9,410.3h0M430.1,412.6h0M430.2,412.6h0M430.3,414.2h0M430.4,414.0h0M430.6,414.3h0M430.7,414.6h0M430.8,414.1h0M430.9,415.3h0M431.0,416.0h0M431.2,416.8h0M431.3,416.8h0M431.4,417.4h0M431.5,417.7h0M431.7,417.2h0M431.8,418.1h0M431.9,418.1h0M432.0,417.7h0M432.2,417.8h0M432.3,419.7h0M432.4,420.4h0M432.5,420.7h0M432.6,419.4h0M432.8,421.2h0M432.9,421.5h0M433.0,420.1h0M433.1,421.2h0M433.3,422.3h0M433.6,421.7h0M433.8,422.9h0M434.1,422.1h0M434.4,422.7h0M434.7,423.9h0M435.0,423.5h0M435.3,424.1h0M435.6,424.4h0M435.9,423.9h0M436.2,425.9h0M436.5,425.1h0M436.8,425.2h0M437.1,425.4h0M437.4,426.0h0M437.7,425.5h0M438.0,427.0h0M438.3,426.4h0M438.5,427.4h0M438.8,426.4h0M439.1,426.5h0M439.4,426.8h0M439.7,427.8h0M440.0,426.9h0M440.3,428.6h0M440.6,427.9h0M440.9,428.9h0M441.2,428.2h0M441.5,429.2h0M441.8,428.1h0M442.1,428.2h0M442.4,429.5h0M442.7,428.9h0M443.0,430.1h0M443.2,429.1h0M443.5,430.0h0M443.8,429.3h0M444.1,428.8h0M444.4,431.1h0M444.7,430.1h0M445.0,431.0h0M445.3,430.6h0M445.6,429.4h0M445.9,431.0h0M446.2,431.6h0M446.5,431.9h0M446.8,432.2h0M447.1,431.5h0M447.4,431.2h0M447.7,431.5h0M447.9,430.7h0M448.2,432.2h0M448.5,432.3h0M448.8,432.1h0M449.1,431.4h0M449.4,432.5h0M449.7,431.8h0M450.0,433.1h0M450.3,431.9h0M450.6,432.1h0M450.9,432.3h0M451.2,431.9h0M451.5,432.1h0M451.8,432.6h0M452.1,431.2h0M452.4,434.4h0M452.7,433.4h0M452.9,433.4h0M453.2,432.7h0M453.5,433.5h0M453.8,433.4h0M454.1,433.6h0M454.4,432.6h0M454.7,433.6h0M455.0,432.4h0M455.3,433.7h0M455.6,433.3h0M455.9,433.6h0M456.2,433.8h0M456.5,434.7h0M456.8,435.0h0M457.1,434.3h0M457.4,433.6h0M457.6,435.4h0M457.9,433.5h0M458.2,434.2h0M458.5,434.5h0M458.8,434.2h0M459.1,435.7h0M459.4,435.1h0M459.7,435.6h0M460.0,434.7h0M460.3,435.6h0M460.6,435.0h0M460.9,435.0h0M461.2,435.4h0M461.5,435.5h0M461.8,435.7h0M462.1,435.2h0M462.3,434.4h0M462.6,435.3h0M462.9,433.7h0M463.2,435.4h0M463.5,435.1h0M463.8,436.3h0M464.1,433.9h0M464.4,437.2h0M464.7,435.6h0M465.0,434.8h0M465.3,436.3h0M465.6,436.4h0M465.9,436.4h0M466.2,437.6h0M466.5,435.6h0M466.8,436.4h0M467.0,436.4h0M467.3,435.8h0M467.6,436.6h0M467.9,437.3h0M468.2,435.9h0M468.5,436.8h0M468.8,437.2h0M469.1,437.0h0M469.4,435.5h0M469.7,436.9h0M470.0,436.5h0M470.3,437.6h0M470.6,436.7h0M470.9,438.2h0M471.2,436.0h0M471.5,437.3h0M471.7,436.4h0M472.0,438.2h0M472.3,438.1h0M472.6,436.5h0M472.9,437.7h0M473.2,437.1h0M473.5,436.1h0M473.8,436.5h0M474.1,437.4h0M474.4,437.7h0M474.7,437.1h0M475.0,437.6h0M475.3,437.7h0M475.6,437.7h0M475.9,436.7h0M476.2,437.6h0M476.4,438.0h0M476.7,436.6h0M477.0,438.7h0M477.3,438.7h0M477.6,437.8h0M477.9,439.2h0M478.2,437.2h0M478.5,437.2h0M478.8,437.4h0M479.1,437.4h0M479.4,439.2h0M479.7,438.0h0M480.0,438.0h0M480.3,438.3h0M480.6,439.2h0M480.9,438.2h0M481.1,437.9h0M481.4,438.3h0M481.7,439.1h0M482.0,438.1h0M482.3,439.2h0M482.6,438.5h0M482.9,438.2h0M483.2,438.7h0M483.5,439.7h0M483.8,438.2h0M484.1,439.4h0M484.4,438.8h0M484.7,438.6h0M485.0,438.5h0M485.3,439.1h0M485.6,439.0h0M485.8,438.8h0M486.1,439.1h0M486.4,438.0h0M486.7,438.2h0M487.0,438.0h0M487.3,438.5h0M487.6,438.6h0M487.9,438.5h0M488.2,439.2h0M488.5,438.2h0M488.8,438.7h0M489.1,439.5h0M489.4,440.1h0M489.7,439.0h0M490.0,439.8h0M490.3,439.9h0M490.5,438.3h0M490.8,439.2h0M491.1,438.3h0M491.4,438.8h0M491.7,439.4h0M492.0,438.2h0M492.3,439.5h0M492.6,439.1h0M492.9,439.0h0M493.2,439.6h0M493.5,438.7h0M493.8,438.1h0M494.1,439.3h0M494.4,438.8h0M494.7,439.2h0M495.0,438.6h0M495.3,438.7h0M495.5,438.7h0M495.8,438.5h0M496.1,438.9h0M496.4,438.9h0M496.7,439.5h0M497.0,441.7h0M497.3,439.1h0M497.6,438.4h0M497.9,439.9h0M498.2,438.7h0M498.5,439.0h0M498.8,439.4h0M499.1,439.6h0M499.4,439.7h0M499.7,439.8h0M500.0,439.6h0M500.2,440.5h0M500.5,440.3h0M500.8,439.4h0M501.1,439.6h0M501.4,438.8h0M501.7,440.2h0M502.0,439.7h0M502.3,441.1h0M502.6,439.4h0M502.9,440.9h0M503.2,439.2h0M503.5,438.7h0M503.8,439.3h0M504.1,440.2h0M504.4,440.6h0M504.7,439.4h0M504.9,440.7h0M505.2,439.6h0M505.5,439.7h0M505.8,439.8h0M506.1,441.2h0M506.4,440.2h0M506.7,440.3h0M507.0,439.1h0M507.3,440.2h0M507.6,440.3h0M507.9,441.3h0M508.2,439.6h0M508.5,439.7h0M508.8,439.6h0M509.1,439.8h0M509.4,440.7h0M509.6,439.7h0M509.9,441.1h0M510.2,440.3h0M510.5,439.7h0M510.8,439.9h0M511.1,439.4h0M511.4,439.3h0M511.7,441.1h0M512.0,441.0h0M512.3,439.7h0M512.6,440.1h0M512.9,441.5h0M513.2,439.9h0M513.5,440.6h0M513.8,440.8h0M514.1,440.3h0M514.3,440.4h0M514.6,440.3h0M514.9,440.6h0M515.2,439.5h0M515.5,440.6h0M515.8,440.7h0M516.1,439.7h0M516.4,440.9h0M516.7,440.0h0M517.0,438.8h0M517.3,439.3h0M517.6,440.7h0M517.9,441.0h0M518.2,440.4h0M518.5,439.7h0M518.8,440.6h0M519.0,441.3h0M519.3,440.7h0M519.6,439.7h0M519.9,441.1h0M520.2,440.6h0M520.5,440.7h0M520.8,440.8h0M521.1,441.2h0M521.4,440.7h0M521.7,440.2h0M522.0,440.8h0M522.3,440.9h0M522.6,441.7h0M522.9,440.0h0M523.2,440.8h0M523.5,440.3h0M523.7,441.1h0M524.0,440.5h0M524.3,438.8h0M524.6,441.6h0M524.9,440.5h0M525.2,440.2h0M525.5,439.9h0M525.8,440.3h0M526.1,440.1h0M526.4,440.9h0M526.7,441.1h0M527.0,441.0h0M527.3,441.3h0M527.6,440.5h0M527.9,441.5h0M528.2,441.0h0M528.4,441.4h0M528.7,441.5h0M529.0,440.9h0M529.3,442.0h0M529.6,441.7h0M529.9,440.9h0M530.2,442.4h0M530.5,442.3h0M530.8,440.1h0M531.1,439.7h0M531.4,440.8h0M531.7,441.5h0M532.0,441.9h0M532.3,441.7h0M532.6,441.2h0M532.9,441.9h0M533.1,441.8h0M533.4,441.0h0M533.7,441.4h0M534.0,442.0h0M534.3,440.9h0M534.6,440.9h0M534.9,440.8h0M535.2,442.3h0M535.5,441.8h0M535.8,441.9h0M536.1,441.1h0M536.4,441.4h0M536.7,442.2h0M537.0,441.2h0M537.3,442.2h0M537.6,441.4h0M537.9,441.4h0M538.1,441.8h0M538.4,442.0h0M538.7,442.7h0M539.0,441.2h0M539.3,442.6h0M539.6,441.0h0M539.9,440.9h0M540.2,440.0h0M540.5,442.1h0M540.8,442.5h0M541.1,440.7h0M541.4,441.3h0M541.7,441.4h0M542.0,440.5h0M542.3,441.6h0M542.6,441.8h0M542.8,441.3h0M543.1,440.9h0M543.4,441.7h0M543.7,442.0h0M544.0,440.7h0M544.3,441.6h0M544.6,442.0h0M544.9,439.7h0M545.2,441.9h0M545.5,442.8h0M545.8,440.8h0M546.1,442.6h0M546.4,441.5h0M546.7,442.1h0M547.0,441.6h0M547.3,440.9h0M547.5,440.6h0M547.8,443.4h0M548.1,440.8h0M548.4,441.6h0M548.7,442.7h0M549.0,442.0h0M549.3,441.9h0M549.6,440.4h0M549.9,441.4h0M550.2,440.9h0M550.5,440.6h0M550.8,442.1h0M551.1,442.4h0M551.4,441.3h0M551.7,441.4h0M552.0,442.1h0M552.2,442.5h0M552.5,441.1h0M552.8,442.7h0M553.1,442.5h0M553.4,441.9h0M553.7,441.1h0M554.0,442.3h0M554.3,442.4h0M554.6,443.1h0M554.9,441.5h0M555.2,443.0h0M555.5,441.7h0M555.8,442.3h0M556.1,441.9h0M556.4,442.0h0M556.7,443.0h0M556.9,441.5h0M557.2,442.5h0M557.5,441.8h0M557.8,442.0h0M558.1,441.5h0M558.4,442.1h0M558.7,440.6h0M559.0,441.8h0M559.3,442.7h0M559.6,442.6h0M559.9,440.9h0M560.2,441.3h0M560.5,441.8h0M560.8,443.3h0M561.1,441.8h0M561.4,442.1h0M561.6,441.9h0M561.9,442.3h0M562.2,441.5h0M562.5,442.3h0M562.8,442.4h0M563.1,442.8h0M563.4,441.5h0M563.7,442.7h0M564.0,443.5h0M564.3,442.7h0M564.6,442.6h0M564.9,440.5h0M565.2,443.1h0M565.5,443.5h0M565.8,443.0h0M566.1,442.5h0M566.3,442.8h0M566.6,444.3h0M566.9,441.7h0M567.2,441.9h0M567.5,443.0h0M567.8,442.4h0M568.1,440.7h0M568.4,442.4h0M568.7,442.5h0M569.0,441.6h0M569.3,442.5h0M569.6,442.4h0M569.9,441.0h0M570.2,442.6h0M570.5,443.8h0M570.8,443.5h0M571.0,441.5h0M571.3,441.4h0M571.6,442.3h0M571.9,442.5h0M572.2,441.4h0M572.5,441.8h0M572.8,443.2h0M573.1,442.5h0M573.4,443.0h0M573.7,442.3h0M574.0,443.0h0M574.3,442.0h0M574.6,442.0h0M574.9,441.7h0M575.2,441.0h0M575.5,442.1h0M575.7,441.4h0M576.0,442.0h0M576.3,442.5h0M576.6,442.5h0M576.9,442.7h0M577.2,442.1h0M577.5,442.3h0M577.8,443.2h0M578.1,442.3h0M578.4,442.4h0M578.7,440.7h0M579.0,441.6h0M579.3,443.2h0M579.6,441.8h0M579.9,441.7h0M580.2,443.1h0M580.4,441.6h0M580.7,443.1h0M581.0,442.4h0M581.3,442.0h0M581.6,441.0h0M581.9,443.4h0M582.2,441.2h0M582.5,441.6h0M582.8,443.0h0M583.1,441.6h0M583.4,442.8h0M583.7,442.5h0M584.0,442.3h0M584.3,441.7h0M584.6,442.0h0M584.9,442.7h0M585.2,441.8h0M585.4,442.9h0M585.7,442.7h0M586.0,442.9h0M586.3,442.7h0M586.6,442.9h0M586.9,442.8h0M587.2,443.1h0M587.5,442.8h0M587.8,442.8h0M588.1,441.9h0M588.4,441.3h0M588.7,442.6h0M589.0,443.2h0M589.3,441.9h0M589.6,441.5h0M589.9,442.2h0M590.1,442.8h0M590.4,443.2h0M590.7,442.4h0M591.0,441.8h0M591.3,442.5h0M591.6,443.1h0M591.9,442.6h0M592.2,443.3h0M592.5,442.2h0M592.8,443.2h0M593.1,443.7h0M593.4,441.9h0M593.7,442.0h0M594.0,443.1h0M594.3,444.8h0M594.6,443.0h0M594.8,442.6h0M595.1,443.5h0M595.4,442.6h0M595.7,441.5h0M596.0,442.0h0M596.3,443.6h0M596.6,441.5h0M596.9,441.7h0M597.2,443.2h0M597.5,442.8h0M597.8,443.5h0M598.1,441.9h0M598.4,442.2h0M598.7,442.4h0M599.0,441.8h0M599.3,442.5h0M599.5,442.6h0M599.8,443.3h0M600.1,442.6h0M600.4,442.4h0M600.7,443.0h0M601.0,443.5h0M601.3,443.4h0M601.6,442.9h0M601.9,442.4h0M602.2,442.4h0M602.5,441.8h0M602.8,442.8h0M603.1,442.7h0M603.4,443.9h0M603.7,442.9h0M604.0,443.3h0M604.2,443.7h0M604.5,441.4h0M604.8,442.3h0M605.1,442.6h0M605.4,442.8h0M605.7,442.0h0M606.0,443.4h0M606.3,443.4h0M606.6,443.1h0M606.9,443.2h0M607.2,442.0h0M607.5,443.6h0M607.8,442.3h0M608.1,441.5h0M608.4,442.9h0M608.7,443.1h0M608.9,442.3h0M609.2,441.6h0M609.5,442.0h0M609.8,442.7h0M610.1,441.0h0M610.4,443.5h0M610.7,443.5h0M611.0,442.7h0M611.3,443.5h0M611.6,442.7h0M611.9,442.0h0M612.2,443.3h0M612.5,443.2h0M612.8,442.2h0M613.1,441.8h0M613.4,442.1h0M613.6,443.6h0M613.9,442.6h0M614.2,444.8h0M614.5,442.4h0M614.8,443.3h0M615.1,443.1h0M615.4,442.7h0M615.7,443.4h0M616.0,442.3h0M616.3,442.8h0M616.6,442.0h0M616.9,441.3h0M617.2,442.9h0M617.5,442.1h0M617.8,442.0h0M618.1,443.3h0M618.3,442.8h0M618.6,443.1h0M618.9,444.1h0M619.2,443.0h0M619.5,443.2h0M619.8,442.1h0M620.1,443.5h0M620.4,443.5h0M620.7,442.2h0M621.0,443.4h0M621.3,443.1h0M621.6,442.8h0M621.9,443.0h0M622.2,444.6h0M622.5,442.5h0M622.8,442.7h0M623.0,443.0h0M623.3,442.8h0M623.6,441.6h0M623.9,443.4h0M624.2,443.6h0M624.5,444.1h0M624.8,442.5h0M625.1,442.0h0M625.4,443.4h0M625.7,442.2h0M626.0,442.9h0M626.3,442.7h0M626.6,443.1h0M626.9,442.6h0M627.2,443.4h0M627.5,442.3h0M627.8,444.6h0M628.0,443.5h0M628.3,442.5h0M628.6,442.3h0M628.9,442.8h0M629.2,442.6h0M629.5,442.4h0M629.8,443.9h0M630.1,443.6h0M630.4,442.2h0M630.7,443.4h0M631.0,443.0h0M631.3,443.5h0M631.6,442.5h0M631.9,444.5h0M632.2,443.0h0M632.5,444.4h0M632.7,442.7h0M633.0,443.9h0M633.3,442.9h0M633.6,444.2h0M633.9,442.9h0M634.2,442.3h0M634.5,442.2h0M634.8,442.6h0M635.1,443.4h0M635.4,443.3h0M635.7,443.1h0M636.0,443.8h0M636.3,444.2h0M636.6,442.3h0M636.9,443.7h0M637.2,444.6h0M637.4,442.6h0M637.7,442.6h0M638.0,443.3h0M638.3,443.2h0M638.6,442.7h0M638.9,443.0h0M639.2,444.2h0M639.5,443.7h0M639.8,442.5h0M640.1,441.8h0M640.4,442.3h0M640.7,443.2h0M641.0,442.5h0M641.3,442.5h0M641.6,443.6h0M641.9,442.8h0M642.1,442.8h0M642.4,443.2h0M642.7,444.1h0M643.0,443.3h0M643.3,443.5h0M643.6,443.1h0M643.9,444.1h0M644.2,442.2h0M644.5,442.3h0M644.8,442.7h0M645.1,444.5h0M645.4,444.1h0M645.7,442.3h0M646.0,442.8h0M646.3,443.5h0M646.6,443.1h0M646.8,443.7h0M647.1,442.7h0M647.4,441.9h0M647.7,443.5h0M648.0,444.0h0M648.3,442.0h0M648.6,441.8h0M648.9,442.8h0M649.2,441.8h0M649.5,443.4h0M649.8,442.3h0M650.1,443.6h0M650.4,442.9h0M650.7,443.2h0M651.0,443.6h0M651.3,443.0h0M651.5,442.4h0M651.8,443.7h0M652.1,442.1h0M652.4,444.1h0M652.7,442.7h0M653.0,442.7h0M653.3,443.4h0M653.6,443.4h0M653.9,443.5h0M654.2,442.1h0M654.5,442.5h0M654.8,443.4h0M655.1,443.4h0M655.4,443.1h0M655.7,444.0h0M656.0,443.0h0M656.2,443.8h0M656.5,443.9h0M656.8,443.4h0M657.1,443.0h0M657.4,443.7h0M657.7,443.4h0M658.0,443.6h0M658.3,442.5h0M658.6,443.5h0M658.9,444.3h0M659.2,442.9h0M659.5,443.2h0M659.8,443.0h0M660.1,443.8h0M660.4,441.7h0M660.7,444.3h0M660.9,443.5h0M661.2,443.0h0M661.5,443.3h0M661.8,443.9h0M662.1,443.4h0M662.4,443.6h0M662.7,444.0h0M663.0,443.3h0M663.3,443.7h0M663.6,444.2h0M663.9,443.6h0M664.2,442.7h0M664.5,443.7h0M664.8,444.6h0M665.1,442.9h0M665.4,443.5h0M665.6,443.5h0M665.9,443.8h0M666.2,442.9h0M666.5,443.2h0M666.8,444.5h0M667.1,443.7h0M667.4,442.8h0M667.7,443.7h0M668.0,443.2h0" stroke="#3b558b" stroke-width="6.0" stroke-linecap="round" stroke-linejoin="round" fill="none"/>
<path d="M426.0,385.1h0M426.1,384.2h0M426.2,389.0h0M426.4,392.1h0M426.5,394.2h0M426.6,394.4h0M426.7,396.8h0M426.9,397.4h0M427.0,400.6h0M427.1,401.7h0M427.2,405.0h0M427.4,405.6h0M427.5,408.5h0M427.6,409.3h0M427.7,410.6h0M427.8,413.8h0M428.0,414.7h0M428.1,413.7h0M428.2,417.3h0M428.3,417.9h0M428.5,419.6h0M428.6,419.9h0M428.7,418.8h0M428.8,421.2h0M429.0,420.3h0M429.1,422.2h0M429.2,423.7h0M429.3,426.3h0M429.4,426.0h0M429.6,426.8h0M429.7,428.0h0M429.8,427.3h0M429.9,429.8h0M430.1,429.8h0M430.2,429.4h0M430.3,430.3h0M430.4,431.2h0M430.6,432.6h0M430.7,434.0h0M430.8,432.9h0M430.9,433.5h0M431.0,436.0h0M431.2,437.9h0M431.3,437.1h0M431.4,436.1h0M431.5,436.0h0M431.7,437.4h0M431.8,437.5h0M431.9,436.8h0M432.0,439.2h0M432.2,440.6h0M432.3,437.7h0M432.4,438.1h0M432.5,438.6h0M432.6,438.2h0M432.8,440.5h0M432.9,438.7h0M433.0,440.9h0M433.1,440.9h0M433.3,441.5h0M433.5,440.0h0M433.8,442.0h0M434.0,442.5h0M434.3,443.6h0M434.6,443.5h0M434.8,443.1h0M435.1,445.0h0M435.3,445.7h0M435.6,446.1h0M435.9,444.5h0M436.1,446.2h0M436.4,445.1h0M436.7,446.1h0M436.9,447.3h0M437.2,445.5h0M437.4,449.7h0M437.7,448.5h0M438.0,446.9h0M438.2,447.4h0M438.5,448.1h0M438.7,448.3h0M439.0,447.6h0M439.3,448.7h0M439.5,447.7h0M439.8,448.8h0M440.0,451.2h0M440.3,449.8h0M440.6,449.6h0M440.8,451.7h0M441.1,450.8h0M441.4,451.2h0M441.6,450.3h0M441.9,452.1h0M442.1,450.9h0M442.4,452.2h0M442.7,452.3h0M442.9,453.5h0M443.2,452.9h0M443.4,452.1h0M443.7,451.2h0M444.0,452.1h0M444.2,451.9h0M444.5,454.3h0M444.7,452.6h0M445.0,451.0h0M445.3,453.6h0M445.5,454.1h0M445.8,452.6h0M446.1,454.3h0M446.3,452.5h0M446.6,454.1h0M446.8,453.9h0M447.1,454.4h0M447.4,454.7h0M447.6,453.8h0M447.9,455.3h0M448.1,454.2h0M448.4,454.9h0M448.7,456.2h0M448.9,454.2h0M449.2,455.2h0M449.4,456.7h0M449.7,456.4h0M450.0,454.7h0M450.2,454.9h0M450.5,456.0h0M450.8,455.0h0M451.0,455.8h0M451.3,454.5h0M451.5,456.5h0M451.8,454.5h0M452.1,456.3h0M452.3,456.9h0M452.6,455.8h0M452.8,455.0h0M453.1,455.4h0M453.4,454.8h0M453.6,458.4h0M453.9,455.1h0M454.1,455.7h0M454.4,457.4h0M454.7,457.2h0M454.9,458.2h0M455.2,458.4h0M455.5,457.7h0M455.7,457.3h0M456.0,457.0h0M456.2,457.5h0M456.5,458.7h0M456.8,458.4h0M457.0,458.5h0M457.3,456.4h0M457.5,457.3h0M457.8,457.5h0M458.1,457.6h0M458.3,457.2h0M458.6,458.9h0M458.8,459.4h0M459.1,460.3h0M459.4,458.2h0M459.6,458.6h0M459.9,458.9h0M460.2,458.8h0M460.4,458.2h0M460.7,459.8h0M460.9,457.2h0M461.2,458.7h0M461.5,457.5h0M461.7,459.9h0M462.0,458.1h0M462.2,458.3h0M462.5,459.5h0M462.8,458.5h0M463.0,459.8h0M463.3,459.3h0M463.5,461.6h0M463.8,458.6h0M464.1,459.0h0M464.3,460.5h0M464.6,460.1h0M464.9,460.5h0M465.1,459.9h0M465.4,461.3h0M465.6,460.8h0M465.9,461.8h0M466.2,459.3h0M466.4,460.9h0M466.7,460.4h0M466.9,461.1h0M467.2,459.9h0M467.5,461.6h0M467.7,459.6h0M468.0,461.8h0M468.2,461.5h0M468.5,459.3h0M468.8,461.5h0M469.0,459.3h0M469.3,461.8h0M469.6,459.6h0M469.8,461.0h0M470.1,460.9h0M470.3,459.7h0M470.6,459.6h0M470.9,461.8h0M471.1,461.0h0M471.4,462.5h0M471.6,461.5h0M471.9,464.2h0M472.2,461.8h0M472.4,463.4h0M472.7,462.1h0M472.9,461.9h0M473.2,462.4h0M473.5,461.2h0M473.7,461.4h0M474.0,463.6h0M474.3,461.8h0M474.5,460.9h0M474.8,462.5h0M475.0,461.2h0M475.3,462.1h0M475.6,463.2h0M475.8,463.4h0M476.1,463.7h0M476.3,463.2h0M476.6,462.7h0M476.9,462.6h0M477.1,462.5h0M477.4,462.2h0M477.6,464.4h0M477.9,462.3h0M478.2,464.0h0M478.4,462.3h0M478.7,463.6h0M479.0,459.8h0M479.2,462.8h0M479.5,462.0h0M479.7,464.2h0M480.0,464.2h0M480.3,462.2h0M480.5,462.9h0M480.8,463.8h0M481.0,463.2h0M481.3,463.0h0M481.6,463.9h0M481.8,461.8h0M482.1,464.6h0M482.3,463.5h0M482.6,460.3h0M482.9,462.2h0M483.1,463.1h0M483.4,465.3h0M483.7,463.1h0M483.9,461.7h0M484.2,464.5h0M484.4,463.6h0M484.7,463.2h0M485.0,464.3h0M485.2,463.1h0M485.5,463.4h0M485.7,464.5h0M486.0,464.1h0M486.3,464.6h0M486.5,463.4h0M486.8,465.5h0M487.0,462.4h0M487.3,462.5h0M487.6,464.4h0M487.8,463.6h0M488.1,464.1h0M488.4,464.0h0M488.6,463.7h0M488.9,462.9h0M489.1,464.2h0M489.4,465.2h0M489.7,463.2h0M489.9,465.8h0M490.2,465.5h0M490.4,463.3h0M490.7,464.9h0M491.0,463.1h0M491.2,464.0h0M491.5,463.2h0M491.7,463.7h0M492.0,462.6h0M492.3,464.3h0M492.5,463.5h0M492.8,463.6h0M493.1,462.7h0M493.3,464.6h0M493.6,466.4h0M493.8,464.2h0M494.1,464.5h0M494.4,463.6h0M494.6,464.3h0M494.9,464.0h0M495.1,463.4h0M495.4,464.0h0M495.7,464.3h0M495.9,465.1h0M496.2,464.6h0M496.4,465.1h0M496.7,466.1h0M497.0,465.8h0M497.2,464.6h0M497.5,463.2h0M497.8,464.8h0M498.0,465.2h0M498.3,466.0h0M498.5,465.3h0M498.8,467.8h0M499.1,464.9h0M499.3,465.9h0M499.6,464.4h0M499.8,464.4h0M500.1,465.2h0M500.4,465.6h0M500.6,466.0h0M500.9,462.4h0M501.1,466.4h0M501.4,466.7h0M501.7,466.6h0M501.9,466.1h0M502.2,465.2h0M502.5,465.9h0M502.7,466.5h0M503.0,464.4h0M503.2,465.9h0M503.5,465.7h0M503.8,465.1h0M504.0,467.0h0M504.3,464.6h0M504.5,464.3h0M504.8,465.3h0M505.1,464.8h0M505.3,466.7h0M505.6,463.7h0M505.8,464.0h0M506.1,465.6h0M506.4,466.1h0M506.6,464.2h0M506.9,466.6h0M507.2,463.6h0M507.4,466.4h0M507.7,464.6h0M507.9,465.0h0M508.2,467.2h0M508.5,465.5h0M508.7,464.9h0M509.0,465.7h0M509.2,467.3h0M509.5,465.6h0M509.8,464.7h0M510.0,465.7h0M510.3,464.3h0M510.5,464.7h0M510.8,464.8h0M511.1,466.1h0M511.3,465.1h0M511.6,466.0h0M511.9,466.7h0M512.1,467.2h0M512.4,464.1h0M512.6,465.7h0M512.9,464.8h0M513.2,466.4h0M513.4,466.0h0M513.7,465.7h0M513.9,465.2h0M514.2,464.9h0M514.5,464.3h0M514.7,466.8h0M515.0,465.8h0M515.2,466.0h0M515.5,466.3h0M515.8,466.8h0M516.0,467.9h0M516.3,466.0h0M516.6,466.7h0M516.8,464.5h0M517.1,465.8h0M517.3,465.5h0M517.6,465.5h0M517.9,467.1h0M518.1,466.2h0M518.4,466.1h0M518.6,466.2h0M518.9,465.9h0M519.2,465.8h0M519.4,465.5h0M519.7,465.6h0M519.9,465.7h0M520.2,465.9h0M520.5,464.3h0M520.7,466.2h0M521.0,466.1h0M521.3,466.6h0M521.5,465.2h0M521.8,465.4h0M522.0,467.0h0M522.3,465.6h0M522.6,466.8h0M522.8,465.7h0M523.1,465.3h0M523.3,465.1h0M523.6,465.8h0M523.9,466.0h0M524.1,465.3h0M524.4,467.9h0M524.6,466.5h0M524.9,465.6h0M525.2,467.9h0M525.4,467.4h0M525.7,465.8h0M526.0,465.6h0M526.2,466.4h0M526.5,467.2h0M526.7,465.2h0M527.0,467.7h0M527.3,466.3h0M527.5,467.5h0M527.8,466.6h0M528.0,467.2h0M528.3,467.3h0M528.6,468.0h0M528.8,466.1h0M529.1,468.5h0M529.3,465.5h0M529.6,467.0h0M529.9,467.4h0M530.1,466.8h0M530.4,467.6h0M530.7,465.3h0M530.9,466.8h0M531.2,467.9h0M531.4,467.0h0M531.7,466.0h0M532.0,467.1h0M532.2,467.1h0M532.5,466.0h0M532.7,468.2h0M533.0,466.5h0M533.3,465.9h0M533.5,467.0h0M533.8,466.3h0M534.0,466.8h0M534.3,467.3h0M534.6,466.8h0M534.8,467.8h0M535.1,467.5h0M535.4,468.3h0M535.6,466.3h0M535.9,467.2h0M536.1,467.3h0M536.4,467.4h0M536.7,465.2h0M536.9,466.2h0M537.2,467.5h0M537.4,467.7h0M537.7,467.2h0M538.0,467.4h0M538.2,468.4h0M538.5,467.0h0M538.7,466.6h0M539.0,468.8h0M539.3,468.0h0M539.5,467.3h0M539.8,466.8h0M540.1,469.0h0M540.3,467.1h0M540.6,466.6h0M540.8,468.6h0M541.1,466.0h0M541.4,467.3h0M541.6,468.1h0M541.9,467.3h0M542.1,467.1h0M542.4,468.0h0M542.7,466.5h0M542.9,467.5h0M543.2,468.3h0M543.4,466.7h0M543.7,469.0h0M544.0,467.5h0M544.2,467.7h0M544.5,467.2h0M544.8,468.2h0M545.0,467.2h0M545.3,467.9h0M545.5,468.7h0M545.8,468.8h0M546.1,466.2h0M546.3,468.9h0M546.6,467.2h0M546.8,468.0h0M547.1,467.8h0M547.4,468.0h0M547.6,467.1h0M547.9,468.2h0M548.1,468.6h0M548.4,467.1h0M548.7,467.7h0M548.9,468.4h0M549.2,468.6h0M549.5,467.9h0M549.7,467.8h0M550.0,468.0h0M550.2,467.4h0M550.5,468.1h0M550.8,467.5h0M551.0,467.6h0M551.3,465.7h0M551.5,466.2h0M551.8,468.3h0M552.1,468.6h0M552.3,468.3h0M552.6,468.0h0M552.8,467.6h0M553.1,468.3h0M553.4,467.5h0M553.6,467.8h0M553.9,469.2h0M554.2,466.4h0M554.4,467.2h0M554.7,467.5h0M554.9,466.0h0M555.2,466.6h0M555.5,468.8h0M555.7,468.3h0M556.0,467.6h0M556.2,468.9h0M556.5,466.8h0M556.8,469.5h0M557.0,467.6h0M557.3,467.2h0M557.5,468.8h0M557.8,468.3h0M558.1,468.1h0M558.3,467.8h0M558.6,466.2h0M558.9,466.0h0M559.1,467.9h0M559.4,468.8h0M559.6,467.2h0M559.9,468.0h0M560.2,466.5h0M560.4,466.5h0M560.7,467.8h0M560.9,468.5h0M561.2,468.5h0M561.5,469.0h0M561.7,467.1h0M562.0,467.6h0M562.2,468.5h0M562.5,466.7h0M562.8,467.4h0M563.0,467.8h0M563.3,467.8h0M563.6,468.7h0M563.8,468.3h0M564.1,467.5h0M564.3,465.7h0M564.6,468.6h0M564.9,468.8h0M565.1,468.4h0M565.4,468.2h0M565.6,468.3h0M565.9,469.1h0M566.2,467.4h0M566.4,467.8h0M566.7,467.0h0M566.9,467.8h0M567.2,467.2h0M567.5,467.3h0M567.7,466.2h0M568.0,467.9h0M568.3,468.9h0M568.5,465.1h0M568.8,469.1h0M569.0,467.9h0M569.3,467.3h0M569.6,468.2h0M569.8,467.7h0M570.1,467.8h0M570.3,469.2h0M570.6,468.0h0M570.9,468.2h0M571.1,467.6h0M571.4,467.8h0M571.6,467.0h0M571.9,467.7h0M572.2,467.1h0M572.4,469.0h0M572.7,467.7h0M573.0,468.7h0M573.2,469.2h0M573.5,468.9h0M573.7,467.3h0M574.0,469.5h0M574.3,466.1h0M574.5,469.3h0M574.8,465.6h0M575.0,467.1h0M575.3,467.9h0M575.6,467.4h0M575.8,466.1h0M576.1,466.8h0M576.3,468.4h0M576.6,466.5h0M576.9,468.9h0M577.1,469.3h0M577.4,469.4h0M577.7,468.4h0M577.9,468.1h0M578.2,467.7h0M578.4,470.7h0M578.7,469.3h0M579.0,468.8h0M579.2,468.6h0M579.5,469.3h0M579.7,466.6h0M580.0,469.2h0M580.3,467.9h0M580.5,466.3h0M580.8,469.5h0M581.0,467.7h0M581.3,468.9h0M581.6,467.8h0M581.8,468.1h0M582.1,470.0h0M582.4,468.8h0M582.6,468.9h0M582.9,467.1h0M583.1,469.3h0M583.4,467.9h0M583.7,468.9h0M583.9,467.6h0M584.2,468.9h0M584.4,469.0h0M584.7,467.1h0M585.0,468.9h0M585.2,467.7h0M585.5,469.7h0M585.7,468.8h0M586.0,468.5h0M586.3,471.3h0M586.5,469.2h0M586.8,468.0h0M587.1,469.2h0M587.3,468.7h0M587.6,469.7h0M587.8,467.6h0M588.1,470.4h0M588.4,468.0h0M588.6,468.1h0M588.9,467.8h0M589.1,468.2h0M589.4,470.3h0M589.7,468.6h0M589.9,467.5h0M590.2,468.4h0M590.4,468.8h0M590.7,469.4h0M591.0,468.2h0M591.2,468.7h0M591.5,471.3h0M591.8,468.5h0M592.0,468.7h0M592.3,467.5h0M592.5,469.6h0M592.8,468.3h0M593.1,470.5h0M593.3,470.0h0M593.6,469.6h0M593.8,468.3h0M594.1,468.5h0M594.4,468.5h0M594.6,468.9h0M594.9,468.6h0M595.1,468.5h0M595.4,469.0h0M595.7,469.0h0M595.9,468.6h0M596.2,469.9h0M596.5,470.1h0M596.7,468.7h0M597.0,471.2h0M597.2,469.5h0M597.5,470.3h0M597.8,471.0h0M598.0,467.9h0M598.3,469.7h0M598.5,470.1h0M598.8,470.3h0M599.1,470.1h0M599.3,470.3h0M599.6,467.9h0M599.8,468.3h0M600.1,469.8h0M600.4,467.4h0M600.6,468.7h0M600.9,469.0h0M601.2,469.5h0M601.4,469.9h0M601.7,469.2h0M601.9,468.3h0M602.2,468.2h0M602.5,469.5h0M602.7,469.7h0M603.0,469.4h0M603.2,469.2h0M603.5,469.1h0M603.8,467.6h0M604.0,468.8h0M604.3,469.6h0M604.5,467.9h0M604.8,469.4h0M605.1,469.6h0M605.3,471.2h0M605.6,468.8h0M605.9,468.6h0M606.1,467.7h0M606.4,467.8h0M606.6,467.4h0M606.9,467.1h0M607.2,469.5h0M607.4,468.9h0M607.7,469.2h0M607.9,467.4h0M608.2,466.9h0M608.5,467.1h0M608.7,470.3h0M609.0,469.8h0M609.2,467.5h0M609.5,468.8h0M609.8,468.9h0M610.0,467.9h0M610.3,468.2h0M610.6,469.8h0M610.8,469.6h0M611.1,469.7h0M611.3,469.2h0M611.6,469.0h0M611.9,469.4h0M612.1,468.8h0M612.4,470.6h0M612.6,469.2h0M612.9,469.5h0M613.2,468.9h0M613.4,468.4h0M613.7,469.1h0M613.9,468.8h0M614.2,468.3h0M614.5,469.8h0M614.7,471.0h0M615.0,469.4h0M615.3,469.1h0M615.5,468.5h0M615.8,467.8h0M616.0,469.8h0M616.3,469.8h0M616.6,468.5h0M616.8,469.3h0M617.1,468.4h0M617.3,470.4h0M617.6,469.2h0M617.9,469.6h0M618.1,470.8h0M618.4,467.0h0M618.6,469.5h0M618.9,469.4h0M619.2,468.8h0M619.4,469.2h0M619.7,470.4h0M620.0,468.5h0M620.2,468.6h0M620.5,470.8h0M620.7,470.2h0M621.0,469.6h0M621.3,469.9h0M621.5,469.2h0M621.8,468.8h0M622.0,468.9h0M622.3,469.4h0M622.6,468.6h0M622.8,467.6h0M623.1,468.9h0M623.3,469.2h0M623.6,468.9h0M623.9,469.6h0M624.1,469.3h0M624.4,469.8h0M624.7,469.1h0M624.9,468.9h0M625.2,469.6h0M625.4,469.9h0M625.7,468.7h0M626.0,468.3h0M626.2,470.3h0M626.5,468.6h0M626.7,469.4h0M627.0,468.6h0M627.3,469.3h0M627.5,470.5h0M627.8,470.7h0M628.0,468.0h0M628.3,467.9h0M628.6,466.0h0M628.8,469.6h0M629.1,470.6h0M629.4,469.4h0M629.6,468.9h0M629.9,469.9h0M630.1,468.2h0M630.4,469.7h0M630.7,470.4h0M630.9,470.3h0M631.2,469.8h0M631.4,468.7h0M631.7,468.9h0M632.0,468.3h0M632.2,470.9h0M632.5,470.4h0M632.7,469.3h0M633.0,469.2h0M633.3,469.5h0M633.5,468.8h0M633.8,469.9h0M634.1,469.9h0M634.3,469.8h0M634.6,469.4h0M634.8,467.0h0M635.1,469.2h0M635.4,468.1h0M635.6,467.9h0M635.9,471.6h0M636.1,469.0h0M636.4,469.2h0M636.7,469.0h0M636.9,468.6h0M637.2,470.9h0M637.4,467.8h0M637.7,469.9h0M638.0,468.8h0M638.2,470.5h0M638.5,470.1h0M638.8,469.4h0M639.0,467.8h0M639.3,470.0h0M639.5,470.1h0M639.8,469.8h0M640.1,468.9h0M640.3,469.8h0M640.6,468.5h0M640.8,469.4h0M641.1,469.5h0M641.4,468.9h0M641.6,468.3h0M641.9,468.9h0M642.1,468.3h0M642.4,468.0h0M642.7,470.2h0M642.9,469.0h0M643.2,468.7h0M643.5,468.7h0M643.7,469.7h0M644.0,469.0h0M644.2,468.6h0M644.5,469.5h0M644.8,469.3h0M645.0,468.3h0M645.3,468.2h0M645.5,470.5h0M645.8,469.0h0M646.1,470.3h0M646.3,469.8h0M646.6,469.1h0M646.8,468.9h0M647.1,470.6h0M647.4,468.5h0M647.6,468.7h0M647.9,468.3h0M648.2,469.0h0M648.4,468.3h0M648.7,469.4h0M648.9,468.1h0M649.2,469.7h0M649.5,469.6h0M649.7,469.5h0M650.0,468.8h0M650.2,470.7h0M650.5,471.4h0M650.8,469.4h0M651.0,468.9h0M651.3,470.3h0M651.5,469.4h0M651.8,469.8h0M652.1,470.3h0M652.3,468.4h0M652.6,470.3h0M652.9,468.7h0M653.1,468.4h0M653.4,469.1h0M653.6,470.9h0M653.9,468.9h0M654.2,470.0h0M654.4,468.5h0M654.7,470.0h0M654.9,469.8h0M655.2,470.6h0M655.5,469.6h0M655.7,469.5h0M656.0,467.7h0M656.2,469.7h0M656.5,470.2h0M656.8,469.6h0M657.0,469.6h0M657.3,469.9h0M657.6,470.2h0M657.8,468.7h0M658.1,469.4h0M658.3,469.8h0M658.6,469.6h0M658.9,468.3h0M659.1,467.3h0M659.4,469.4h0M659.6,469.7h0M659.9,470.6h0M660.2,469.4h0M660.4,468.2h0M660.7,469.4h0M660.9,468.9h0M661.2,468.3h0M661.5,467.6h0M661.7,467.2h0M662.0,468.2h0M662.3,468.5h0M662.5,468.8h0M662.8,468.8h0M663.0,469.0h0M663.3,470.5h0M663.6,468.7h0M663.8,470.1h0M664.1,468.1h0M664.3,468.0h0M664.6,468.2h0M664.9,467.0h0M665.1,470.2h0M665.4,468.8h0M665.6,469.2h0M665.9,470.2h0M666.2,469.1h0M666.4,470.2h0M666.7,466.5h0M667.0,469.9h0M667.2,468.9h0M667.5,468.1h0M667.7,469.7h0M668.0,468.8h0" stroke="#472a7a" stroke-width="5.2" stroke-linecap="round" stroke-linejoin="round" fill="none"/>
</g>
<rect x="72.3" y="304.1" width="241.4" height="193.1" fill="none" stroke="#000" stroke-width="2.05"/>
<path d="M72.3,335.0h4.2M72.3,381.2h4.2M72.3,427.4h4.2M72.3,473.6h4.2M72.3,492.0h2.4M72.3,487.5h2.4M72.3,483.8h2.4M72.3,480.8h2.4M72.3,478.1h2.4M72.3,475.7h2.4M72.3,459.7h2.4M72.3,451.6h2.4M72.3,445.8h2.4M72.3,441.3h2.4M72.3,437.6h2.4M72.3,434.6h2.4M72.3,431.9h2.4M72.3,429.5h2.4M72.3,413.5h2.4M72.3,405.4h2.4M72.3,399.6h2.4M72.3,395.1h2.4M72.3,391.4h2.4M72.3,388.4h2.4M72.3,385.7h2.4M72.3,383.3h2.4M72.3,367.3h2.4M72.3,359.2h2.4M72.3,353.4h2.4M72.3,348.9h2.4M72.3,345.2h2.4M72.3,342.2h2.4M72.3,339.5h2.4M72.3,337.1h2.4M72.3,321.1h2.4M72.3,313.0h2.4M72.3,307.2h2.4M132.6,497.2v-4.2M193.0,497.2v-4.2M253.3,497.2v-4.2M102.5,497.2v-2.4M162.8,497.2v-2.4M223.2,497.2v-2.4M283.5,497.2v-2.4" stroke="#000" stroke-width="1.4" fill="none"/>
<text x="66.7" y="341.9" font-size="20" fill="#000" stroke="#000" stroke-width="0.3" text-anchor="end">1</text>
<text x="66.7" y="388.1" font-size="20" fill="#000" stroke="#000" stroke-width="0.3" text-anchor="end">0.1</text>
<text x="66.7" y="434.3" font-size="20" fill="#000" stroke="#000" stroke-width="0.3" text-anchor="end">0.01</text>
<text x="66.7" y="480.5" font-size="20" fill="#000" stroke="#000" stroke-width="0.3" text-anchor="end">0.001</text>
<text x="72.3" y="519.0" font-size="20" fill="#000" stroke="#000" stroke-width="0.3" text-anchor="middle">0</text>
<text x="132.6" y="519.0" font-size="20" fill="#000" stroke="#000" stroke-width="0.3" text-anchor="middle">50</text>
<text x="193.0" y="519.0" font-size="20" fill="#000" stroke="#000" stroke-width="0.3" text-anchor="middle">100</text>
<text x="253.3" y="519.0" font-size="20" fill="#000" stroke="#000" stroke-width="0.3" text-anchor="middle">150</text>
<text x="313.7" y="519.0" font-size="20" fill="#000" stroke="#000" stroke-width="0.3" text-anchor="middle">200</text>
<text x="198" y="543" font-size="20.6" fill="#000" stroke="#000" stroke-width="0.3" text-anchor="middle">Time (s)</text>
<text transform="translate(17.0,403) rotate(-90)" font-size="21" text-anchor="middle" fill="#000" stroke="#000" stroke-width="0.3">Current (nA)</text>
<text x="80.3" y="325.3" font-size="20.5" fill="#fbe42e" stroke="#fbe42e" stroke-width="0.1">294.5 K</text>
<text x="79" y="486.5" font-size="20.5" fill="#472d7b" stroke="#472d7b" stroke-width="0.15">257.5 K</text>
<text x="310.5" y="326" font-size="20.5" fill="#000" stroke="#000" stroke-width="0.3" text-anchor="end">Treated Film</text>
<path d="M96.2,468V334" stroke="#7f7f7f" stroke-width="1.2" stroke-dasharray="4 2.4" fill="none"/>
<path d="M96.2,329l-3.2,6h6.4z" fill="#7f7f7f"/>
<rect x="426.0" y="300.4" width="242.0" height="194.0" fill="none" stroke="#000" stroke-width="2.05"/>
<path d="M426.0,306.6h4.2M426.0,388.3h4.2M426.0,470.0h4.2M426.0,488.1h2.4M426.0,482.7h2.4M426.0,477.9h2.4M426.0,473.7h2.4M426.0,445.4h2.4M426.0,431.0h2.4M426.0,420.8h2.4M426.0,412.9h2.4M426.0,406.4h2.4M426.0,401.0h2.4M426.0,396.2h2.4M426.0,392.0h2.4M426.0,363.7h2.4M426.0,349.3h2.4M426.0,339.1h2.4M426.0,331.2h2.4M426.0,324.7h2.4M426.0,319.3h2.4M426.0,314.5h2.4M426.0,310.3h2.4M486.5,494.4v-4.2M547.0,494.4v-4.2M607.5,494.4v-4.2M456.2,494.4v-2.4M516.8,494.4v-2.4M577.2,494.4v-2.4M637.8,494.4v-2.4" stroke="#000" stroke-width="1.4" fill="none"/>
<text x="420.1" y="312.9" font-size="20" fill="#000" stroke="#000" stroke-width="0.3" text-anchor="end">1</text>
<text x="420.1" y="394.6" font-size="20" fill="#000" stroke="#000" stroke-width="0.3" text-anchor="end">0.1</text>
<text x="420.1" y="476.3" font-size="20" fill="#000" stroke="#000" stroke-width="0.3" text-anchor="end">0.01</text>
<text x="426.3" y="515.5" font-size="20" fill="#000" stroke="#000" stroke-width="0.3" text-anchor="middle">0</text>
<text x="486.8" y="515.5" font-size="20" fill="#000" stroke="#000" stroke-width="0.3" text-anchor="middle">50</text>
<text x="547.3" y="515.5" font-size="20" fill="#000" stroke="#000" stroke-width="0.3" text-anchor="middle">100</text>
<text x="607.8" y="515.5" font-size="20" fill="#000" stroke="#000" stroke-width="0.3" text-anchor="middle">150</text>
<text x="668.3" y="515.5" font-size="20" fill="#000" stroke="#000" stroke-width="0.3" text-anchor="middle">200</text>
<text x="553" y="543.5" font-size="20.6" fill="#000" stroke="#000" stroke-width="0.3" text-anchor="middle">Time (s)</text>
<text transform="translate(376.3,405.3) rotate(-90)" font-size="21" text-anchor="middle" fill="#000" stroke="#000" stroke-width="0.3">Current (nA)</text>
<text x="449.0" y="370.8" font-size="21" fill="#fbe42e" stroke="#fbe42e" stroke-width="0.1">293 K</text>
<text x="449.0" y="487.5" font-size="21" fill="#472d7b" stroke="#472d7b" stroke-width="0.15">257 K</text>
<text x="662.5" y="325.7" font-size="20.5" fill="#000" stroke="#000" stroke-width="0.3" text-anchor="end">Untreated Film</text>
<path d="M464.3,468V381" stroke="#7f7f7f" stroke-width="1.2" stroke-dasharray="4 2.4" fill="none"/>
<path d="M464.3,375.8l-3.2,6h6.4z" fill="#7f7f7f"/>
<rect x="7.2" y="603.2" width="307.4" height="33.7" fill="#6aad45"/>
<path d="M7.2,670.5H314.6M7.2,704.1H314.6M7.2,737.7H314.6M7.2,771.3H314.6M7.2,804.9H314.6M7.2,838.5H314.6M7.2,872.1H314.6M7.2,905.7H314.6M7.7,636.9V905.7M314.1,636.9V905.7" stroke="#a9ce8d" stroke-width="1.25" fill="none"/>
<text x="58.4" y="627.4" font-size="21" fill="#fff" stroke="#fff" stroke-width="0.2" text-anchor="middle">T (K)</text>
<text x="160.9" y="627.4" font-size="21" fill="#fff" stroke="#fff" stroke-width="0.2" text-anchor="middle">τ<tspan font-size="13.6" dy="5.3" dx="0.6">1</tspan><tspan dy="-5.3" dx="3.4">(s)</tspan></text>
<text x="263.4" y="627.4" font-size="21" fill="#fff" stroke="#fff" stroke-width="0.2" text-anchor="middle">τ<tspan font-size="13.6" dy="5.3" dx="0.6">2</tspan><tspan dy="-5.3" dx="3.4">(s)</tspan></text>
<text x="58.4" y="661.3" font-size="21" fill="#000" stroke="#000" stroke-width="0.3" text-anchor="middle">294.5</text>
<text x="160.9" y="661.3" font-size="21" fill="#000" stroke="#000" stroke-width="0.3" text-anchor="middle">0.68</text>
<text x="263.4" y="661.3" font-size="21" fill="#000" stroke="#000" stroke-width="0.3" text-anchor="middle">6.07</text>
<text x="58.4" y="694.9" font-size="21" fill="#000" stroke="#000" stroke-width="0.3" text-anchor="middle">288.0</text>
<text x="160.9" y="694.9" font-size="21" fill="#000" stroke="#000" stroke-width="0.3" text-anchor="middle">0.50</text>
<text x="263.4" y="694.9" font-size="21" fill="#000" stroke="#000" stroke-width="0.3" text-anchor="middle">10.00</text>
<text x="58.4" y="728.5" font-size="21" fill="#000" stroke="#000" stroke-width="0.3" text-anchor="middle">282.1</text>
<text x="160.9" y="728.5" font-size="21" fill="#000" stroke="#000" stroke-width="0.3" text-anchor="middle">0.97</text>
<text x="263.4" y="728.5" font-size="21" fill="#000" stroke="#000" stroke-width="0.3" text-anchor="middle">14.01</text>
<text x="58.4" y="762.1" font-size="21" fill="#000" stroke="#000" stroke-width="0.3" text-anchor="middle">278.0</text>
<text x="160.9" y="762.1" font-size="21" fill="#000" stroke="#000" stroke-width="0.3" text-anchor="middle">1.18</text>
<text x="263.4" y="762.1" font-size="21" fill="#000" stroke="#000" stroke-width="0.3" text-anchor="middle">17.31</text>
<text x="58.4" y="795.7" font-size="21" fill="#000" stroke="#000" stroke-width="0.3" text-anchor="middle">273.0</text>
<text x="160.9" y="795.7" font-size="21" fill="#000" stroke="#000" stroke-width="0.3" text-anchor="middle">1.31</text>
<text x="263.4" y="795.7" font-size="21" fill="#000" stroke="#000" stroke-width="0.3" text-anchor="middle">21.83</text>
<text x="58.4" y="829.3" font-size="21" fill="#000" stroke="#000" stroke-width="0.3" text-anchor="middle">267.7</text>
<text x="160.9" y="829.3" font-size="21" fill="#000" stroke="#000" stroke-width="0.3" text-anchor="middle">1.39</text>
<text x="263.4" y="829.3" font-size="21" fill="#000" stroke="#000" stroke-width="0.3" text-anchor="middle">21.72</text>
<text x="58.4" y="862.9" font-size="21" fill="#000" stroke="#000" stroke-width="0.3" text-anchor="middle">263.0</text>
<text x="160.9" y="862.9" font-size="21" fill="#000" stroke="#000" stroke-width="0.3" text-anchor="middle">1.34</text>
<text x="263.4" y="862.9" font-size="21" fill="#000" stroke="#000" stroke-width="0.3" text-anchor="middle">20.15</text>
<text x="58.4" y="896.5" font-size="21" fill="#000" stroke="#000" stroke-width="0.3" text-anchor="middle">257.5</text>
<text x="160.9" y="896.5" font-size="21" fill="#000" stroke="#000" stroke-width="0.3" text-anchor="middle">1.36</text>
<text x="263.4" y="896.5" font-size="21" fill="#000" stroke="#000" stroke-width="0.3" text-anchor="middle">19.68</text>
<rect x="368.6" y="604.6" width="308.2" height="33.4" fill="#6aad45"/>
<path d="M368.6,671.6H676.8M368.6,705.2H676.8M368.6,738.8H676.8M368.6,772.4H676.8M368.6,806.0H676.8M368.6,839.6H676.8M368.6,873.2H676.8M368.6,906.8H676.8M369.1,638.0V906.8M676.3,638.0V906.8" stroke="#a9ce8d" stroke-width="1.25" fill="none"/>
<text x="420.0" y="628.7" font-size="21" fill="#fff" stroke="#fff" stroke-width="0.2" text-anchor="middle">T (K)</text>
<text x="522.7" y="628.7" font-size="21" fill="#fff" stroke="#fff" stroke-width="0.2" text-anchor="middle">τ<tspan font-size="13.6" dy="5.3" dx="0.6">1</tspan><tspan dy="-5.3" dx="3.4">(s)</tspan></text>
<text x="625.4" y="628.7" font-size="21" fill="#fff" stroke="#fff" stroke-width="0.2" text-anchor="middle">τ<tspan font-size="13.6" dy="5.3" dx="0.6">2</tspan><tspan dy="-5.3" dx="3.4">(s)</tspan></text>
<text x="420.0" y="662.4" font-size="21" fill="#000" stroke="#000" stroke-width="0.3" text-anchor="middle">293.0</text>
<text x="522.7" y="662.4" font-size="21" fill="#000" stroke="#000" stroke-width="0.3" text-anchor="middle">0.82</text>
<text x="625.4" y="662.4" font-size="21" fill="#000" stroke="#000" stroke-width="0.3" text-anchor="middle">12.79</text>
<text x="420.0" y="696.0" font-size="21" fill="#000" stroke="#000" stroke-width="0.3" text-anchor="middle">288.0</text>
<text x="522.7" y="696.0" font-size="21" fill="#000" stroke="#000" stroke-width="0.3" text-anchor="middle">0.85</text>
<text x="625.4" y="696.0" font-size="21" fill="#000" stroke="#000" stroke-width="0.3" text-anchor="middle">14.18</text>
<text x="420.0" y="729.6" font-size="21" fill="#000" stroke="#000" stroke-width="0.3" text-anchor="middle">281.0</text>
<text x="522.7" y="729.6" font-size="21" fill="#000" stroke="#000" stroke-width="0.3" text-anchor="middle">0.66</text>
<text x="625.4" y="729.6" font-size="21" fill="#000" stroke="#000" stroke-width="0.3" text-anchor="middle">16.23</text>
<text x="420.0" y="763.2" font-size="21" fill="#000" stroke="#000" stroke-width="0.3" text-anchor="middle">278.0</text>
<text x="522.7" y="763.2" font-size="21" fill="#000" stroke="#000" stroke-width="0.3" text-anchor="middle">1.20</text>
<text x="625.4" y="763.2" font-size="21" fill="#000" stroke="#000" stroke-width="0.3" text-anchor="middle">19.10</text>
<text x="420.0" y="796.8" font-size="21" fill="#000" stroke="#000" stroke-width="0.3" text-anchor="middle">273.0</text>
<text x="522.7" y="796.8" font-size="21" fill="#000" stroke="#000" stroke-width="0.3" text-anchor="middle">1.47</text>
<text x="625.4" y="796.8" font-size="21" fill="#000" stroke="#000" stroke-width="0.3" text-anchor="middle">22.25</text>
<text x="420.0" y="830.4" font-size="21" fill="#000" stroke="#000" stroke-width="0.3" text-anchor="middle">268.0</text>
<text x="522.7" y="830.4" font-size="21" fill="#000" stroke="#000" stroke-width="0.3" text-anchor="middle">1.67</text>
<text x="625.4" y="830.4" font-size="21" fill="#000" stroke="#000" stroke-width="0.3" text-anchor="middle">23.69</text>
<text x="420.0" y="864.0" font-size="21" fill="#000" stroke="#000" stroke-width="0.3" text-anchor="middle">263.0</text>
<text x="522.7" y="864.0" font-size="21" fill="#000" stroke="#000" stroke-width="0.3" text-anchor="middle">1.93</text>
<text x="625.4" y="864.0" font-size="21" fill="#000" stroke="#000" stroke-width="0.3" text-anchor="middle">26.09</text>
<text x="420.0" y="897.6" font-size="21" fill="#000" stroke="#000" stroke-width="0.3" text-anchor="middle">257.0</text>
<text x="522.7" y="897.6" font-size="21" fill="#000" stroke="#000" stroke-width="0.3" text-anchor="middle">1.80</text>
<text x="625.4" y="897.6" font-size="21" fill="#000" stroke="#000" stroke-width="0.3" text-anchor="middle">25.23</text>
</svg></body></html>
